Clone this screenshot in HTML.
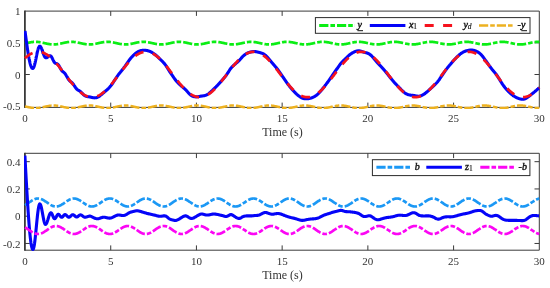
<!DOCTYPE html><html><head><meta charset="utf-8"><title>Figure</title><style>html,body{margin:0;padding:0;background:#fff}body{width:550px;height:288px;overflow:hidden}</style></head><body><svg width="550" height="288" viewBox="0 0 550 288" style="display:block"><rect width="550" height="288" fill="#fff"/><path d="M25.0 11.1H539.3V107.4H25.0Z" fill="none" stroke="#3a3a3a" stroke-width="1"/><path d="M24.8 10.6V107.9" fill="none" stroke="#3a3a3a" stroke-width="1.6"/><path d="M110.72 107.4v-4.8M110.72 11.1v4.8M196.43 107.4v-4.8M196.43 11.1v4.8M282.15 107.4v-4.8M282.15 11.1v4.8M367.87 107.4v-4.8M367.87 11.1v4.8M453.58 107.4v-4.8M453.58 11.1v4.8M25.0 42.80h4.8M539.3 42.80h-4.8M25.0 74.50h4.8M539.3 74.50h-4.8" fill="none" stroke="#3a3a3a" stroke-width="1"/><path d="M25.0 153.3H539.3V250.2H25.0Z" fill="none" stroke="#3a3a3a" stroke-width="1"/><path d="M24.8 152.8V250.7" fill="none" stroke="#3a3a3a" stroke-width="1.6"/><path d="M110.72 250.2v-4.8M110.72 153.3v4.8M196.43 250.2v-4.8M196.43 153.3v4.8M282.15 250.2v-4.8M282.15 153.3v4.8M367.87 250.2v-4.8M367.87 153.3v4.8M453.58 250.2v-4.8M453.58 153.3v4.8M25.0 161.68h4.8M539.3 161.68h-4.8M25.0 188.94h4.8M539.3 188.94h-4.8M25.0 216.20h4.8M539.3 216.20h-4.8M25.0 243.46h4.8M539.3 243.46h-4.8" fill="none" stroke="#3a3a3a" stroke-width="1"/><defs><clipPath id="c1"><rect x="24.0" y="10.1" width="516.3" height="98.80000000000001"/></clipPath><clipPath id="c2"><rect x="24.0" y="152.3" width="516.3" height="98.89999999999998"/></clipPath></defs><g clip-path="url(#c1)"><polyline points="25.00,43.52 25.34,43.44 25.69,43.37 26.03,43.29 26.37,43.21 26.71,43.13 27.06,43.06 27.40,42.98 27.74,42.90 28.09,42.83 28.43,42.75 28.77,42.68 29.11,42.61 29.46,42.54 29.80,42.47 30.14,42.40 30.49,42.34 30.83,42.28 31.17,42.22 31.51,42.17 31.86,42.12 32.20,42.08 32.54,42.03 32.89,42.00 33.23,41.96 33.57,41.93 33.91,41.91 34.26,41.89 34.60,41.87 34.94,41.86 35.29,41.85 35.63,41.85 35.97,41.85 36.31,41.86 36.66,41.87 37.00,41.89 37.34,41.91 37.69,41.93 38.03,41.96 38.37,42.00 38.71,42.03 39.06,42.08 39.40,42.12 39.74,42.17 40.09,42.22 40.43,42.28 40.77,42.34 41.11,42.40 41.46,42.47 41.80,42.54 42.14,42.61 42.49,42.68 42.83,42.75 43.17,42.83 43.51,42.90 43.86,42.98 44.20,43.06 44.54,43.13 44.89,43.21 45.23,43.29 45.57,43.37 45.91,43.44 46.26,43.52 46.60,43.59 46.94,43.67 47.29,43.74 47.63,43.80 47.97,43.87 48.31,43.93 48.66,44.00 49.00,44.05 49.34,44.11 49.69,44.16 50.03,44.21 50.37,44.25 50.71,44.29 51.06,44.32 51.40,44.35 51.74,44.38 52.09,44.40 52.43,44.42 52.77,44.44 53.12,44.44 53.46,44.45 53.80,44.45 54.14,44.44 54.49,44.43 54.83,44.42 55.17,44.40 55.52,44.37 55.86,44.35 56.20,44.31 56.54,44.28 56.89,44.24 57.23,44.19 57.57,44.14 57.92,44.09 58.26,44.04 58.60,43.98 58.94,43.92 59.29,43.85 59.63,43.79 59.97,43.72 60.32,43.65 60.66,43.57 61.00,43.50 61.34,43.42 61.69,43.35 62.03,43.27 62.37,43.19 62.72,43.11 63.06,43.03 63.40,42.96 63.74,42.88 64.09,42.81 64.43,42.73 64.77,42.66 65.12,42.59 65.46,42.52 65.80,42.45 66.14,42.39 66.49,42.32 66.83,42.27 67.17,42.21 67.52,42.16 67.86,42.11 68.20,42.06 68.54,42.02 68.89,41.99 69.23,41.95 69.57,41.92 69.92,41.90 70.26,41.88 70.60,41.87 70.94,41.86 71.29,41.85 71.63,41.85 71.97,41.85 72.32,41.86 72.66,41.87 73.00,41.89 73.34,41.91 73.69,41.94 74.03,41.97 74.37,42.01 74.72,42.05 75.06,42.09 75.40,42.14 75.74,42.19 76.09,42.24 76.43,42.30 76.77,42.36 77.12,42.42 77.46,42.49 77.80,42.56 78.14,42.63 78.49,42.70 78.83,42.77 79.17,42.85 79.52,42.92 79.86,43.00 80.20,43.08 80.54,43.16 80.89,43.23 81.23,43.31 81.57,43.39 81.92,43.47 82.26,43.54 82.60,43.61 82.94,43.69 83.29,43.76 83.63,43.82 83.97,43.89 84.32,43.95 84.66,44.01 85.00,44.07 85.34,44.12 85.69,44.17 86.03,44.22 86.37,44.26 86.72,44.30 87.06,44.33 87.40,44.36 87.74,44.39 88.09,44.41 88.43,44.43 88.77,44.44 89.12,44.45 89.46,44.45 89.80,44.45 90.14,44.44 90.49,44.43 90.83,44.41 91.17,44.39 91.52,44.37 91.86,44.34 92.20,44.30 92.54,44.27 92.89,44.22 93.23,44.18 93.57,44.13 93.92,44.08 94.26,44.02 94.60,43.96 94.94,43.90 95.29,43.83 95.63,43.77 95.97,43.70 96.32,43.63 96.66,43.55 97.00,43.48 97.34,43.40 97.69,43.32 98.03,43.25 98.37,43.17 98.72,43.09 99.06,43.01 99.40,42.94 99.74,42.86 100.09,42.78 100.43,42.71 100.77,42.64 101.12,42.57 101.46,42.50 101.80,42.43 102.14,42.37 102.49,42.31 102.83,42.25 103.17,42.19 103.52,42.14 103.86,42.10 104.20,42.05 104.55,42.01 104.89,41.98 105.23,41.94 105.57,41.92 105.92,41.89 106.26,41.88 106.60,41.86 106.95,41.85 107.29,41.85 107.63,41.85 107.97,41.85 108.32,41.86 108.66,41.88 109.00,41.90 109.35,41.92 109.69,41.95 110.03,41.98 110.37,42.02 110.72,42.06 111.06,42.10 111.40,42.15 111.75,42.20 112.09,42.26 112.43,42.31 112.77,42.38 113.12,42.44 113.46,42.51 113.80,42.58 114.15,42.65 114.49,42.72 114.83,42.79 115.17,42.87 115.52,42.95 115.86,43.02 116.20,43.10 116.55,43.18 116.89,43.26 117.23,43.33 117.57,43.41 117.92,43.49 118.26,43.56 118.60,43.63 118.95,43.71 119.29,43.78 119.63,43.84 119.97,43.91 120.32,43.97 120.66,44.03 121.00,44.08 121.35,44.14 121.69,44.18 122.03,44.23 122.37,44.27 122.72,44.31 123.06,44.34 123.40,44.37 123.75,44.39 124.09,44.41 124.43,44.43 124.77,44.44 125.12,44.45 125.46,44.45 125.80,44.45 126.15,44.44 126.49,44.42 126.83,44.41 127.17,44.39 127.52,44.36 127.86,44.33 128.20,44.29 128.55,44.26 128.89,44.21 129.23,44.17 129.57,44.12 129.92,44.06 130.26,44.00 130.60,43.94 130.95,43.88 131.29,43.82 131.63,43.75 131.97,43.68 132.32,43.61 132.66,43.53 133.00,43.46 133.35,43.38 133.69,43.30 134.03,43.23 134.37,43.15 134.72,43.07 135.06,42.99 135.40,42.91 135.75,42.84 136.09,42.76 136.43,42.69 136.77,42.62 137.12,42.55 137.46,42.48 137.80,42.41 138.15,42.35 138.49,42.29 138.83,42.23 139.17,42.18 139.52,42.13 139.86,42.08 140.20,42.04 140.55,42.00 140.89,41.97 141.23,41.94 141.57,41.91 141.92,41.89 142.26,41.87 142.60,41.86 142.95,41.85 143.29,41.85 143.63,41.85 143.97,41.86 144.32,41.87 144.66,41.88 145.00,41.90 145.35,41.93 145.69,41.96 146.03,41.99 146.37,42.03 146.72,42.07 147.06,42.11 147.40,42.16 147.75,42.22 148.09,42.27 148.43,42.33 148.77,42.39 149.12,42.46 149.46,42.53 149.80,42.59 150.15,42.67 150.49,42.74 150.83,42.81 151.17,42.89 151.52,42.97 151.86,43.04 152.20,43.12 152.55,43.20 152.89,43.28 153.23,43.36 153.57,43.43 153.92,43.51 154.26,43.58 154.60,43.65 154.95,43.73 155.29,43.79 155.63,43.86 155.98,43.92 156.32,43.99 156.66,44.04 157.00,44.10 157.35,44.15 157.69,44.20 158.03,44.24 158.38,44.28 158.72,44.32 159.06,44.35 159.40,44.38 159.75,44.40 160.09,44.42 160.43,44.43 160.78,44.44 161.12,44.45 161.46,44.45 161.80,44.44 162.15,44.43 162.49,44.42 162.83,44.40 163.18,44.38 163.52,44.35 163.86,44.32 164.20,44.28 164.55,44.24 164.89,44.20 165.23,44.15 165.58,44.10 165.92,44.05 166.26,43.99 166.60,43.93 166.95,43.86 167.29,43.80 167.63,43.73 167.98,43.66 168.32,43.58 168.66,43.51 169.00,43.43 169.35,43.36 169.69,43.28 170.03,43.20 170.38,43.13 170.72,43.05 171.06,42.97 171.40,42.89 171.75,42.82 172.09,42.74 172.43,42.67 172.78,42.60 173.12,42.53 173.46,42.46 173.80,42.40 174.15,42.33 174.49,42.27 174.83,42.22 175.18,42.17 175.52,42.12 175.86,42.07 176.20,42.03 176.55,41.99 176.89,41.96 177.23,41.93 177.58,41.90 177.92,41.88 178.26,41.87 178.60,41.86 178.95,41.85 179.29,41.85 179.63,41.85 179.98,41.86 180.32,41.87 180.66,41.89 181.00,41.91 181.35,41.94 181.69,41.97 182.03,42.00 182.38,42.04 182.72,42.08 183.06,42.13 183.40,42.18 183.75,42.23 184.09,42.29 184.43,42.35 184.78,42.41 185.12,42.48 185.46,42.54 185.80,42.61 186.15,42.69 186.49,42.76 186.83,42.84 187.18,42.91 187.52,42.99 187.86,43.07 188.20,43.14 188.55,43.22 188.89,43.30 189.23,43.38 189.58,43.45 189.92,43.53 190.26,43.60 190.60,43.67 190.95,43.74 191.29,43.81 191.63,43.88 191.98,43.94 192.32,44.00 192.66,44.06 193.00,44.11 193.35,44.16 193.69,44.21 194.03,44.25 194.38,44.29 194.72,44.33 195.06,44.36 195.40,44.38 195.75,44.41 196.09,44.42 196.43,44.44 196.78,44.44 197.12,44.45 197.46,44.45 197.80,44.44 198.15,44.43 198.49,44.42 198.83,44.40 199.18,44.37 199.52,44.34 199.86,44.31 200.20,44.27 200.55,44.23 200.89,44.19 201.23,44.14 201.58,44.09 201.92,44.03 202.26,43.97 202.60,43.91 202.95,43.84 203.29,43.78 203.63,43.71 203.98,43.64 204.32,43.56 204.66,43.49 205.00,43.41 205.35,43.34 205.69,43.26 206.03,43.18 206.38,43.10 206.72,43.03 207.06,42.95 207.41,42.87 207.75,42.80 208.09,42.72 208.43,42.65 208.78,42.58 209.12,42.51 209.46,42.44 209.81,42.38 210.15,42.32 210.49,42.26 210.83,42.20 211.18,42.15 211.52,42.10 211.86,42.06 212.21,42.02 212.55,41.98 212.89,41.95 213.23,41.92 213.58,41.90 213.92,41.88 214.26,41.86 214.61,41.85 214.95,41.85 215.29,41.85 215.63,41.85 215.98,41.86 216.32,41.88 216.66,41.89 217.01,41.92 217.35,41.94 217.69,41.98 218.03,42.01 218.38,42.05 218.72,42.09 219.06,42.14 219.41,42.19 219.75,42.25 220.09,42.30 220.43,42.37 220.78,42.43 221.12,42.50 221.46,42.56 221.81,42.63 222.15,42.71 222.49,42.78 222.83,42.86 223.18,42.93 223.52,43.01 223.86,43.09 224.21,43.17 224.55,43.24 224.89,43.32 225.23,43.40 225.58,43.47 225.92,43.55 226.26,43.62 226.61,43.69 226.95,43.76 227.29,43.83 227.63,43.90 227.98,43.96 228.32,44.02 228.66,44.07 229.01,44.13 229.35,44.18 229.69,44.22 230.03,44.27 230.38,44.30 230.72,44.34 231.06,44.37 231.41,44.39 231.75,44.41 232.09,44.43 232.43,44.44 232.78,44.45 233.12,44.45 233.46,44.45 233.81,44.44 234.15,44.43 234.49,44.41 234.83,44.39 235.18,44.36 235.52,44.33 235.86,44.30 236.21,44.26 236.55,44.22 236.89,44.17 237.23,44.12 237.58,44.07 237.92,44.01 238.26,43.95 238.61,43.89 238.95,43.83 239.29,43.76 239.63,43.69 239.98,43.62 240.32,43.54 240.66,43.47 241.01,43.39 241.35,43.32 241.69,43.24 242.03,43.16 242.38,43.08 242.72,43.00 243.06,42.93 243.41,42.85 243.75,42.77 244.09,42.70 244.43,42.63 244.78,42.56 245.12,42.49 245.46,42.42 245.81,42.36 246.15,42.30 246.49,42.24 246.83,42.19 247.18,42.14 247.52,42.09 247.86,42.05 248.21,42.01 248.55,41.97 248.89,41.94 249.23,41.91 249.58,41.89 249.92,41.87 250.26,41.86 250.61,41.85 250.95,41.85 251.29,41.85 251.63,41.86 251.98,41.87 252.32,41.88 252.66,41.90 253.01,41.92 253.35,41.95 253.69,41.98 254.03,42.02 254.38,42.06 254.72,42.11 255.06,42.16 255.41,42.21 255.75,42.26 256.09,42.32 256.43,42.38 256.78,42.45 257.12,42.51 257.46,42.58 257.81,42.65 258.15,42.73 258.49,42.80 258.84,42.88 259.18,42.95 259.52,43.03 259.86,43.11 260.21,43.19 260.55,43.27 260.89,43.34 261.24,43.42 261.58,43.50 261.92,43.57 262.26,43.64 262.61,43.71 262.95,43.78 263.29,43.85 263.64,43.91 263.98,43.98 264.32,44.03 264.66,44.09 265.01,44.14 265.35,44.19 265.69,44.24 266.04,44.28 266.38,44.31 266.72,44.35 267.06,44.37 267.41,44.40 267.75,44.42 268.09,44.43 268.44,44.44 268.78,44.45 269.12,44.45 269.46,44.44 269.81,44.44 270.15,44.42 270.49,44.40 270.84,44.38 271.18,44.36 271.52,44.32 271.86,44.29 272.21,44.25 272.55,44.21 272.89,44.16 273.24,44.11 273.58,44.05 273.92,44.00 274.26,43.94 274.61,43.87 274.95,43.81 275.29,43.74 275.64,43.67 275.98,43.60 276.32,43.52 276.66,43.45 277.01,43.37 277.35,43.29 277.69,43.22 278.04,43.14 278.38,43.06 278.72,42.98 279.06,42.91 279.41,42.83 279.75,42.75 280.09,42.68 280.44,42.61 280.78,42.54 281.12,42.47 281.46,42.41 281.81,42.34 282.15,42.28 282.49,42.23 282.84,42.17 283.18,42.12 283.52,42.08 283.86,42.04 284.21,42.00 284.55,41.96 284.89,41.93 285.24,41.91 285.58,41.89 285.92,41.87 286.26,41.86 286.61,41.85 286.95,41.85 287.29,41.85 287.64,41.86 287.98,41.87 288.32,41.89 288.66,41.91 289.01,41.93 289.35,41.96 289.69,41.99 290.04,42.03 290.38,42.07 290.72,42.12 291.06,42.17 291.41,42.22 291.75,42.28 292.09,42.34 292.44,42.40 292.78,42.47 293.12,42.53 293.46,42.60 293.81,42.67 294.15,42.75 294.49,42.82 294.84,42.90 295.18,42.98 295.52,43.05 295.86,43.13 296.21,43.21 296.55,43.29 296.89,43.36 297.24,43.44 297.58,43.52 297.92,43.59 298.26,43.66 298.61,43.73 298.95,43.80 299.29,43.87 299.64,43.93 299.98,43.99 300.32,44.05 300.66,44.11 301.01,44.16 301.35,44.20 301.69,44.25 302.04,44.29 302.38,44.32 302.72,44.35 303.06,44.38 303.41,44.40 303.75,44.42 304.09,44.43 304.44,44.44 304.78,44.45 305.12,44.45 305.46,44.44 305.81,44.43 306.15,44.42 306.49,44.40 306.84,44.38 307.18,44.35 307.52,44.32 307.86,44.28 308.21,44.24 308.55,44.19 308.89,44.15 309.24,44.09 309.58,44.04 309.92,43.98 310.27,43.92 310.61,43.86 310.95,43.79 311.29,43.72 311.64,43.65 311.98,43.58 312.32,43.50 312.67,43.43 313.01,43.35 313.35,43.27 313.69,43.19 314.04,43.12 314.38,43.04 314.72,42.96 315.07,42.88 315.41,42.81 315.75,42.73 316.09,42.66 316.44,42.59 316.78,42.52 317.12,42.45 317.47,42.39 317.81,42.33 318.15,42.27 318.49,42.21 318.84,42.16 319.18,42.11 319.52,42.07 319.87,42.02 320.21,41.99 320.55,41.95 320.89,41.93 321.24,41.90 321.58,41.88 321.92,41.87 322.27,41.86 322.61,41.85 322.95,41.85 323.29,41.85 323.64,41.86 323.98,41.87 324.32,41.89 324.67,41.91 325.01,41.94 325.35,41.97 325.69,42.00 326.04,42.04 326.38,42.09 326.72,42.13 327.07,42.18 327.41,42.24 327.75,42.30 328.09,42.36 328.44,42.42 328.78,42.48 329.12,42.55 329.47,42.62 329.81,42.70 330.15,42.77 330.49,42.84 330.84,42.92 331.18,43.00 331.52,43.08 331.87,43.15 332.21,43.23 332.55,43.31 332.89,43.39 333.24,43.46 333.58,43.54 333.92,43.61 334.27,43.68 334.61,43.75 334.95,43.82 335.29,43.89 335.64,43.95 335.98,44.01 336.32,44.07 336.67,44.12 337.01,44.17 337.35,44.22 337.69,44.26 338.04,44.30 338.38,44.33 338.72,44.36 339.07,44.39 339.41,44.41 339.75,44.43 340.09,44.44 340.44,44.45 340.78,44.45 341.12,44.45 341.47,44.44 341.81,44.43 342.15,44.41 342.49,44.39 342.84,44.37 343.18,44.34 343.52,44.31 343.87,44.27 344.21,44.23 344.55,44.18 344.89,44.13 345.24,44.08 345.58,44.02 345.92,43.96 346.27,43.90 346.61,43.84 346.95,43.77 347.29,43.70 347.64,43.63 347.98,43.55 348.32,43.48 348.67,43.40 349.01,43.33 349.35,43.25 349.69,43.17 350.04,43.09 350.38,43.02 350.72,42.94 351.07,42.86 351.41,42.79 351.75,42.71 352.09,42.64 352.44,42.57 352.78,42.50 353.12,42.43 353.47,42.37 353.81,42.31 354.15,42.25 354.49,42.20 354.84,42.15 355.18,42.10 355.52,42.05 355.87,42.01 356.21,41.98 356.55,41.95 356.89,41.92 357.24,41.90 357.58,41.88 357.92,41.86 358.27,41.85 358.61,41.85 358.95,41.85 359.29,41.85 359.64,41.86 359.98,41.88 360.32,41.90 360.67,41.92 361.01,41.95 361.35,41.98 361.70,42.02 362.04,42.06 362.38,42.10 362.72,42.15 363.07,42.20 363.41,42.25 363.75,42.31 364.10,42.37 364.44,42.44 364.78,42.50 365.12,42.57 365.47,42.64 365.81,42.72 366.15,42.79 366.50,42.87 366.84,42.94 367.18,43.02 367.52,43.10 367.87,43.18 368.21,43.25 368.55,43.33 368.90,43.41 369.24,43.48 369.58,43.56 369.92,43.63 370.27,43.70 370.61,43.77 370.95,43.84 371.30,43.90 371.64,43.97 371.98,44.03 372.32,44.08 372.67,44.13 373.01,44.18 373.35,44.23 373.70,44.27 374.04,44.31 374.38,44.34 374.72,44.37 375.07,44.39 375.41,44.41 375.75,44.43 376.10,44.44 376.44,44.45 376.78,44.45 377.12,44.45 377.47,44.44 377.81,44.43 378.15,44.41 378.50,44.39 378.84,44.36 379.18,44.33 379.52,44.30 379.87,44.26 380.21,44.21 380.55,44.17 380.90,44.12 381.24,44.06 381.58,44.01 381.92,43.95 382.27,43.88 382.61,43.82 382.95,43.75 383.30,43.68 383.64,43.61 383.98,43.53 384.32,43.46 384.67,43.38 385.01,43.31 385.35,43.23 385.70,43.15 386.04,43.07 386.38,42.99 386.72,42.92 387.07,42.84 387.41,42.77 387.75,42.69 388.10,42.62 388.44,42.55 388.78,42.48 389.12,42.42 389.47,42.35 389.81,42.29 390.15,42.24 390.50,42.18 390.84,42.13 391.18,42.08 391.52,42.04 391.87,42.00 392.21,41.97 392.55,41.94 392.90,41.91 393.24,41.89 393.58,41.87 393.92,41.86 394.27,41.85 394.61,41.85 394.95,41.85 395.30,41.86 395.64,41.87 395.98,41.88 396.32,41.90 396.67,41.93 397.01,41.96 397.35,41.99 397.70,42.03 398.04,42.07 398.38,42.11 398.72,42.16 399.07,42.21 399.41,42.27 399.75,42.33 400.10,42.39 400.44,42.46 400.78,42.52 401.12,42.59 401.47,42.66 401.81,42.74 402.15,42.81 402.50,42.89 402.84,42.96 403.18,43.04 403.52,43.12 403.87,43.20 404.21,43.28 404.55,43.35 404.90,43.43 405.24,43.50 405.58,43.58 405.92,43.65 406.27,43.72 406.61,43.79 406.95,43.86 407.30,43.92 407.64,43.98 407.98,44.04 408.32,44.10 408.67,44.15 409.01,44.20 409.35,44.24 409.70,44.28 410.04,44.32 410.38,44.35 410.72,44.38 411.07,44.40 411.41,44.42 411.75,44.43 412.10,44.44 412.44,44.45 412.78,44.45 413.13,44.44 413.47,44.43 413.81,44.42 414.15,44.40 414.50,44.38 414.84,44.35 415.18,44.32 415.53,44.29 415.87,44.25 416.21,44.20 416.55,44.15 416.90,44.10 417.24,44.05 417.58,43.99 417.93,43.93 418.27,43.87 418.61,43.80 418.95,43.73 419.30,43.66 419.64,43.59 419.98,43.51 420.33,43.44 420.67,43.36 421.01,43.28 421.35,43.21 421.70,43.13 422.04,43.05 422.38,42.97 422.73,42.90 423.07,42.82 423.41,42.75 423.75,42.67 424.10,42.60 424.44,42.53 424.78,42.46 425.13,42.40 425.47,42.34 425.81,42.28 426.15,42.22 426.50,42.17 426.84,42.12 427.18,42.07 427.53,42.03 427.87,41.99 428.21,41.96 428.55,41.93 428.90,41.91 429.24,41.88 429.58,41.87 429.93,41.86 430.27,41.85 430.61,41.85 430.95,41.85 431.30,41.86 431.64,41.87 431.98,41.89 432.33,41.91 432.67,41.93 433.01,41.96 433.35,42.00 433.70,42.04 434.04,42.08 434.38,42.13 434.73,42.18 435.07,42.23 435.41,42.29 435.75,42.35 436.10,42.41 436.44,42.47 436.78,42.54 437.13,42.61 437.47,42.68 437.81,42.76 438.15,42.83 438.50,42.91 438.84,42.99 439.18,43.06 439.53,43.14 439.87,43.22 440.21,43.30 440.55,43.37 440.90,43.45 441.24,43.53 441.58,43.60 441.93,43.67 442.27,43.74 442.61,43.81 442.95,43.88 443.30,43.94 443.64,44.00 443.98,44.06 444.33,44.11 444.67,44.16 445.01,44.21 445.35,44.25 445.70,44.29 446.04,44.33 446.38,44.36 446.73,44.38 447.07,44.41 447.41,44.42 447.75,44.44 448.10,44.44 448.44,44.45 448.78,44.45 449.13,44.44 449.47,44.43 449.81,44.42 450.15,44.40 450.50,44.37 450.84,44.34 451.18,44.31 451.53,44.27 451.87,44.23 452.21,44.19 452.55,44.14 452.90,44.09 453.24,44.03 453.58,43.97 453.93,43.91 454.27,43.85 454.61,43.78 454.95,43.71 455.30,43.64 455.64,43.57 455.98,43.49 456.33,43.42 456.67,43.34 457.01,43.26 457.35,43.18 457.70,43.11 458.04,43.03 458.38,42.95 458.73,42.87 459.07,42.80 459.41,42.72 459.75,42.65 460.10,42.58 460.44,42.51 460.78,42.44 461.13,42.38 461.47,42.32 461.81,42.26 462.15,42.21 462.50,42.15 462.84,42.10 463.18,42.06 463.53,42.02 463.87,41.98 464.21,41.95 464.56,41.92 464.90,41.90 465.24,41.88 465.58,41.87 465.93,41.86 466.27,41.85 466.61,41.85 466.96,41.85 467.30,41.86 467.64,41.88 467.98,41.89 468.33,41.92 468.67,41.94 469.01,41.97 469.36,42.01 469.70,42.05 470.04,42.09 470.38,42.14 470.73,42.19 471.07,42.24 471.41,42.30 471.76,42.36 472.10,42.43 472.44,42.49 472.78,42.56 473.13,42.63 473.47,42.70 473.81,42.78 474.16,42.85 474.50,42.93 474.84,43.01 475.18,43.09 475.53,43.16 475.87,43.24 476.21,43.32 476.56,43.40 476.90,43.47 477.24,43.55 477.58,43.62 477.93,43.69 478.27,43.76 478.61,43.83 478.96,43.89 479.30,43.96 479.64,44.02 479.98,44.07 480.33,44.13 480.67,44.18 481.01,44.22 481.36,44.26 481.70,44.30 482.04,44.34 482.38,44.37 482.73,44.39 483.07,44.41 483.41,44.43 483.76,44.44 484.10,44.45 484.44,44.45 484.78,44.45 485.13,44.44 485.47,44.43 485.81,44.41 486.16,44.39 486.50,44.37 486.84,44.34 487.18,44.30 487.53,44.26 487.87,44.22 488.21,44.18 488.56,44.13 488.90,44.07 489.24,44.02 489.58,43.96 489.93,43.89 490.27,43.83 490.61,43.76 490.96,43.69 491.30,43.62 491.64,43.55 491.98,43.47 492.33,43.39 492.67,43.32 493.01,43.24 493.36,43.16 493.70,43.08 494.04,43.01 494.38,42.93 494.73,42.85 495.07,42.78 495.41,42.70 495.76,42.63 496.10,42.56 496.44,42.49 496.78,42.43 497.13,42.36 497.47,42.30 497.81,42.24 498.16,42.19 498.50,42.14 498.84,42.09 499.18,42.05 499.53,42.01 499.87,41.97 500.21,41.94 500.56,41.92 500.90,41.89 501.24,41.88 501.58,41.86 501.93,41.85 502.27,41.85 502.61,41.85 502.96,41.86 503.30,41.87 503.64,41.88 503.98,41.90 504.33,41.92 504.67,41.95 505.01,41.98 505.36,42.02 505.70,42.06 506.04,42.11 506.38,42.15 506.73,42.21 507.07,42.26 507.41,42.32 507.76,42.38 508.10,42.44 508.44,42.51 508.78,42.58 509.13,42.65 509.47,42.72 509.81,42.80 510.16,42.87 510.50,42.95 510.84,43.03 511.18,43.11 511.53,43.18 511.87,43.26 512.21,43.34 512.56,43.42 512.90,43.49 513.24,43.57 513.59,43.64 513.93,43.71 514.27,43.78 514.61,43.85 514.96,43.91 515.30,43.97 515.64,44.03 515.99,44.09 516.33,44.14 516.67,44.19 517.01,44.23 517.36,44.27 517.70,44.31 518.04,44.34 518.39,44.37 518.73,44.40 519.07,44.42 519.41,44.43 519.76,44.44 520.10,44.45 520.44,44.45 520.79,44.44 521.13,44.44 521.47,44.42 521.81,44.41 522.16,44.38 522.50,44.36 522.84,44.33 523.19,44.29 523.53,44.25 523.87,44.21 524.21,44.16 524.56,44.11 524.90,44.06 525.24,44.00 525.59,43.94 525.93,43.88 526.27,43.81 526.61,43.74 526.96,43.67 527.30,43.60 527.64,43.53 527.99,43.45 528.33,43.37 528.67,43.30 529.01,43.22 529.36,43.14 529.70,43.06 530.04,42.99 530.39,42.91 530.73,42.83 531.07,42.76 531.41,42.68 531.76,42.61 532.10,42.54 532.44,42.47 532.79,42.41 533.13,42.35 533.47,42.29 533.81,42.23 534.16,42.18 534.50,42.13 534.84,42.08 535.19,42.04 535.53,42.00 535.87,41.96 536.21,41.93 536.56,41.91 536.90,41.89 537.24,41.87 537.59,41.86 537.93,41.85 538.27,41.85 538.61,41.85 538.96,41.86 539.30,41.87" fill="none" stroke="#0aee14" stroke-width="2.7" stroke-linejoin="round" stroke-dasharray="9.2 2 4.6 2"/><polyline points="25.00,30.92 25.09,31.58 25.17,32.23 25.26,32.89 25.34,33.54 25.43,34.19 25.51,34.85 25.60,35.50 25.69,36.15 25.77,36.80 25.86,37.45 25.94,38.09 26.03,38.73 26.11,39.37 26.20,40.01 26.29,40.65 26.37,41.28 26.46,41.91 26.54,42.54 26.63,43.16 26.71,43.78 26.80,44.40 26.89,45.01 26.97,45.61 27.06,46.22 27.14,46.82 27.23,47.41 27.31,47.99 27.40,48.58 27.49,49.16 27.57,49.73 27.66,50.29 27.74,50.86 27.83,51.41 27.91,51.96 28.00,52.50 28.09,53.04 28.17,53.57 28.26,54.08 28.34,54.60 28.43,55.12 28.51,55.61 28.60,56.10 28.69,56.59 28.77,57.07 28.86,57.53 28.94,57.99 29.03,58.45 29.11,58.89 29.20,59.32 29.29,59.75 29.37,60.18 29.46,60.57 29.54,60.97 29.63,61.36 29.71,61.75 29.80,62.11 29.89,62.47 29.97,62.83 30.06,63.18 30.14,63.50 30.23,63.82 30.31,64.14 30.40,64.44 30.49,64.72 30.57,65.01 30.66,65.29 30.74,65.54 30.83,65.78 30.91,66.02 31.00,66.26 31.09,66.46 31.17,66.67 31.26,66.87 31.34,67.05 31.43,67.21 31.51,67.37 31.60,67.54 31.69,67.66 31.77,67.78 31.86,67.90 31.94,68.02 32.03,68.09 32.11,68.17 32.20,68.24 32.29,68.31 32.37,68.34 32.46,68.37 32.54,68.40 32.63,68.41 32.71,68.39 32.80,68.38 32.89,68.37 32.97,68.32 33.06,68.26 33.14,68.20 33.23,68.11 33.31,68.00 33.40,67.89 33.49,67.76 33.57,67.60 33.66,67.45 33.74,67.28 33.83,67.07 33.91,66.87 34.00,66.67 34.09,66.42 34.17,66.17 34.26,65.92 34.34,65.64 34.43,65.36 34.51,65.07 34.60,64.76 34.69,64.44 34.77,64.11 34.86,63.78 34.94,63.42 35.03,63.07 35.11,62.71 35.20,62.33 35.29,61.94 35.37,61.56 35.46,61.16 35.54,60.76 35.63,60.36 35.71,59.95 35.80,59.53 35.89,59.11 35.97,58.69 36.06,58.27 36.14,57.85 36.23,57.42 36.31,56.99 36.40,56.57 36.49,56.14 36.57,55.72 36.66,55.30 36.74,54.88 36.83,54.47 36.91,54.06 37.00,53.65 37.09,53.25 37.17,52.86 37.26,52.47 37.34,52.08 37.43,51.72 37.51,51.35 37.60,50.99 37.69,50.65 37.77,50.31 37.86,49.97 37.94,49.66 38.03,49.36 38.11,49.06 38.20,48.78 38.29,48.52 38.37,48.26 38.46,48.01 38.54,47.79 38.63,47.57 38.71,47.37 38.80,47.19 38.89,47.02 38.97,46.85 39.06,46.73 39.14,46.61 39.23,46.48 39.31,46.40 39.40,46.33 39.49,46.26 39.57,46.22 39.66,46.21 39.74,46.19 39.83,46.19 39.91,46.21 40.00,46.24 40.09,46.28 40.17,46.34 40.26,46.40 40.34,46.48 40.43,46.56 40.51,46.66 40.60,46.77 40.69,46.88 40.77,47.01 40.86,47.15 40.94,47.29 41.03,47.45 41.11,47.61 41.20,47.78 41.29,47.97 41.37,48.15 41.46,48.35 41.54,48.55 41.63,48.76 41.71,48.98 41.80,49.20 41.89,49.43 41.97,49.66 42.06,49.89 42.14,50.13 42.23,50.38 42.31,50.62 42.40,50.87 42.49,51.13 42.57,51.38 42.66,51.63 42.74,51.89 42.83,52.14 42.91,52.39 43.00,52.65 43.09,52.90 43.17,53.15 43.26,53.39 43.34,53.64 43.43,53.88 43.51,54.11 43.60,54.35 43.69,54.58 43.77,54.80 43.86,55.01 43.94,55.23 44.03,55.43 44.11,55.63 44.20,55.82 44.29,56.00 44.37,56.18 44.46,56.34 44.54,56.50 44.63,56.65 44.71,56.79 44.80,56.93 44.89,57.04 44.97,57.16 45.06,57.27 45.14,57.35 45.23,57.44 45.31,57.51 45.40,57.57 45.49,57.63 45.57,57.68 45.66,57.72 45.74,57.75 45.83,57.77 45.91,57.80 46.00,57.81 46.09,57.82 46.17,57.82 46.26,57.82 46.34,57.81 46.43,57.79 46.51,57.77 46.60,57.75 46.69,57.72 46.77,57.69 46.86,57.65 46.94,57.61 47.03,57.56 47.11,57.51 47.20,57.46 47.29,57.40 47.37,57.34 47.46,57.28 47.54,57.21 47.63,57.15 47.71,57.08 47.80,57.01 47.89,56.94 47.97,56.86 48.06,56.79 48.14,56.72 48.23,56.65 48.31,56.58 48.40,56.51 48.49,56.44 48.57,56.37 48.66,56.30 48.74,56.24 48.83,56.18 48.91,56.12 49.00,56.07 49.09,56.02 49.17,55.97 49.26,55.92 49.34,55.88 49.43,55.85 49.51,55.82 49.60,55.79 49.69,55.78 49.77,55.76 49.86,55.75 49.94,55.75 50.03,55.75 50.11,55.77 50.20,55.78 50.29,55.80 50.37,55.84 50.46,55.87 50.54,55.92 50.63,55.97 50.71,56.02 50.80,56.09 50.89,56.16 50.97,56.24 51.06,56.32 51.14,56.42 51.23,56.52 51.32,56.63 51.40,56.75 51.49,56.87 51.57,57.00 51.66,57.14 51.74,57.28 51.83,57.43 51.92,57.58 52.00,57.75 52.09,57.91 52.17,58.08 52.26,58.25 52.34,58.43 52.43,58.60 52.52,58.79 52.60,58.97 52.69,59.15 52.77,59.34 52.86,59.52 52.94,59.71 53.03,59.89 53.12,60.07 53.20,60.25 53.29,60.43 53.37,60.61 53.46,60.78 53.54,60.95 53.63,61.11 53.72,61.27 53.80,61.43 53.89,61.58 53.97,61.72 54.06,61.86 54.14,61.99 54.23,62.11 54.32,62.24 54.40,62.35 54.49,62.45 54.57,62.55 54.66,62.64 54.74,62.73 54.83,62.81 54.92,62.89 55.00,62.96 55.09,63.03 55.17,63.09 55.26,63.15 55.34,63.20 55.43,63.25 55.52,63.30 55.60,63.34 55.69,63.38 55.77,63.41 55.86,63.45 55.94,63.48 56.03,63.51 56.12,63.53 56.20,63.56 56.29,63.59 56.37,63.61 56.46,63.64 56.54,63.66 56.63,63.69 56.72,63.71 56.80,63.74 56.89,63.77 56.97,63.80 57.06,63.84 57.14,63.88 57.23,63.92 57.32,63.96 57.40,64.01 57.49,64.07 57.57,64.12 57.66,64.18 57.74,64.25 57.83,64.32 57.92,64.40 58.00,64.48 58.09,64.57 58.17,64.66 58.26,64.76 58.34,64.87 58.43,64.98 58.52,65.09 58.60,65.21 58.69,65.33 58.77,65.46 58.86,65.59 58.94,65.72 59.03,65.86 59.12,66.01 59.20,66.15 59.29,66.30 59.37,66.45 59.46,66.61 59.54,66.76 59.63,66.92 59.72,67.08 59.80,67.25 59.89,67.41 59.97,67.57 60.06,67.74 60.14,67.90 60.23,68.06 60.32,68.22 60.40,68.39 60.49,68.55 60.57,68.70 60.66,68.86 60.74,69.01 60.83,69.16 60.92,69.31 61.00,69.46 61.09,69.60 61.17,69.74 61.26,69.87 61.34,70.00 61.43,70.13 61.52,70.25 61.60,70.37 61.69,70.48 61.77,70.59 61.86,70.70 61.94,70.80 62.03,70.90 62.12,70.99 62.20,71.08 62.29,71.17 62.37,71.25 62.46,71.33 62.54,71.41 62.63,71.48 62.72,71.55 62.80,71.62 62.89,71.69 62.97,71.76 63.06,71.82 63.14,71.88 63.23,71.95 63.32,72.01 63.40,72.07 63.49,72.13 63.57,72.19 63.66,72.26 63.74,72.32 63.83,72.39 63.92,72.46 64.00,72.53 64.09,72.60 64.17,72.68 64.26,72.75 64.34,72.84 64.43,72.92 64.52,73.01 64.60,73.10 64.69,73.20 64.77,73.30 64.86,73.40 64.94,73.51 65.03,73.63 65.12,73.74 65.20,73.86 65.29,73.98 65.37,74.11 65.46,74.23 65.54,74.36 65.63,74.49 65.72,74.63 65.80,74.77 65.89,74.91 65.97,75.05 66.06,75.19 66.14,75.34 66.23,75.49 66.32,75.63 66.40,75.78 66.49,75.94 66.57,76.09 66.66,76.24 66.74,76.40 66.83,76.55 66.92,76.70 67.00,76.86 67.09,77.01 67.17,77.17 67.26,77.32 67.34,77.47 67.43,77.62 67.52,77.78 67.60,77.92 67.69,78.07 67.77,78.22 67.86,78.36 67.94,78.50 68.03,78.64 68.12,78.78 68.20,78.92 68.29,79.05 68.37,79.18 68.46,79.31 68.54,79.43 68.63,79.55 68.72,79.67 68.80,79.79 68.89,79.90 68.97,80.01 69.06,80.12 69.14,80.22 69.23,80.32 69.32,80.42 69.40,80.52 69.49,80.61 69.57,80.70 69.66,80.79 69.74,80.87 69.83,80.96 69.92,81.04 70.00,81.11 70.09,81.19 70.17,81.27 70.26,81.34 70.34,81.41 70.43,81.48 70.52,81.55 70.60,81.62 70.69,81.69 70.77,81.76 70.86,81.82 70.94,81.89 71.03,81.96 71.12,82.03 71.20,82.09 71.29,82.16 71.37,82.23 71.46,82.30 71.54,82.37 71.63,82.44 71.72,82.52 71.80,82.59 71.89,82.67 71.97,82.75 72.06,82.83 72.14,82.91 72.23,83.00 72.32,83.08 72.40,83.18 72.49,83.27 72.57,83.36 72.66,83.46 72.74,83.56 72.83,83.66 72.92,83.76 73.00,83.87 73.09,83.98 73.17,84.09 73.26,84.20 73.34,84.32 73.43,84.44 73.52,84.56 73.60,84.68 73.69,84.80 73.77,84.92 73.86,85.05 73.94,85.18 74.03,85.31 74.12,85.44 74.20,85.57 74.29,85.70 74.37,85.83 74.46,85.96 74.54,86.10 74.63,86.23 74.72,86.36 74.80,86.50 74.89,86.63 74.97,86.76 75.06,86.89 75.14,87.02 75.23,87.15 75.32,87.28 75.40,87.41 75.49,87.53 75.57,87.65 75.66,87.77 75.74,87.89 75.83,88.01 75.92,88.13 76.00,88.24 76.09,88.35 76.17,88.45 76.26,88.56 76.34,88.66 76.43,88.76 76.52,88.86 76.60,88.95 76.69,89.04 76.77,89.13 76.86,89.21 76.94,89.29 77.03,89.37 77.12,89.45 77.20,89.52 77.29,89.59 77.37,89.66 77.46,89.73 77.54,89.79 77.63,89.85 77.72,89.91 77.80,89.96 77.89,90.02 77.97,90.07 78.06,90.12 78.14,90.17 78.23,90.22 78.32,90.27 78.40,90.31 78.49,90.36 78.57,90.40 78.66,90.45 78.74,90.49 78.83,90.54 78.92,90.58 79.00,90.63 79.09,90.67 79.17,90.72 79.26,90.77 79.34,90.82 79.43,90.87 79.52,90.92 79.60,90.97 79.69,91.02 79.77,91.08 79.86,91.14 79.94,91.19 80.03,91.26 80.12,91.32 80.20,91.39 80.29,91.45 80.37,91.52 80.46,91.59 80.54,91.67 80.63,91.74 80.72,91.82 80.80,91.89 80.89,91.97 80.97,92.05 81.06,92.13 81.14,92.21 81.23,92.30 81.32,92.38 81.40,92.47 81.49,92.55 81.57,92.64 81.66,92.73 81.74,92.82 81.83,92.91 81.92,93.00 82.00,93.09 82.09,93.18 82.17,93.27 82.26,93.36 82.34,93.45 82.43,93.54 82.52,93.63 82.60,93.73 82.69,93.82 82.77,93.91 82.86,94.00 82.94,94.08 83.03,94.17 83.12,94.26 83.20,94.35 83.29,94.43 83.37,94.51 83.46,94.60 83.54,94.68 83.63,94.76 83.72,94.84 83.80,94.91 83.89,94.99 83.97,95.06 84.06,95.13 84.14,95.20 84.23,95.26 84.32,95.33 84.40,95.39 84.49,95.45 84.57,95.51 84.66,95.57 84.74,95.62 84.83,95.67 84.92,95.72 85.00,95.77 85.09,95.81 85.17,95.85 85.26,95.90 85.34,95.94 85.43,95.98 85.52,96.02 85.60,96.05 85.69,96.09 85.77,96.12 85.86,96.16 85.94,96.19 86.03,96.22 86.12,96.25 86.20,96.28 86.29,96.31 86.37,96.34 86.46,96.36 86.54,96.39 86.63,96.41 86.72,96.43 86.80,96.46 86.89,96.48 86.97,96.50 87.06,96.52 87.14,96.54 87.23,96.56 87.32,96.57 87.40,96.59 87.49,96.61 87.57,96.62 87.66,96.64 87.74,96.65 87.83,96.67 87.92,96.68 88.00,96.69 88.09,96.71 88.17,96.72 88.26,96.73 88.34,96.75 88.43,96.76 88.52,96.77 88.60,96.78 88.69,96.80 88.77,96.81 88.86,96.82 88.94,96.83 89.03,96.84 89.12,96.86 89.20,96.87 89.29,96.88 89.37,96.89 89.46,96.91 89.54,96.92 89.63,96.93 89.72,96.94 89.80,96.96 89.89,96.97 89.97,96.98 90.06,97.00 90.14,97.03 90.23,97.05 90.32,97.07 90.40,97.09 90.49,97.11 90.57,97.13 90.66,97.15 90.74,97.18 90.83,97.20 90.92,97.22 91.00,97.24 91.09,97.26 91.17,97.28 91.26,97.30 91.34,97.32 91.43,97.34 91.52,97.36 91.60,97.38 91.69,97.41 91.77,97.43 91.86,97.44 91.94,97.46 92.03,97.48 92.12,97.50 92.20,97.52 92.29,97.54 92.37,97.56 92.46,97.57 92.54,97.59 92.63,97.61 92.72,97.62 92.80,97.64 92.89,97.65 92.97,97.67 93.06,97.68 93.14,97.69 93.23,97.71 93.32,97.72 93.40,97.73 93.49,97.74 93.57,97.75 93.92,97.79 94.26,97.81 94.60,97.83 94.94,97.82 95.29,97.81 95.63,97.77 95.97,97.73 96.32,97.66 96.66,97.57 97.00,97.46 97.34,97.33 97.69,97.18 98.03,97.01 98.37,96.82 98.72,96.62 99.06,96.40 99.40,96.16 99.74,95.92 100.09,95.66 100.43,95.39 100.77,95.12 101.12,94.84 101.46,94.55 101.80,94.26 102.14,93.97 102.49,93.67 102.83,93.38 103.17,93.08 103.52,92.79 103.86,92.50 104.20,92.21 104.55,91.92 104.89,91.64 105.23,91.35 105.57,91.07 105.92,90.78 106.26,90.49 106.60,90.19 106.95,89.88 107.29,89.57 107.63,89.25 107.97,88.92 108.32,88.58 108.66,88.23 109.00,87.87 109.35,87.49 109.69,87.10 110.03,86.70 110.37,86.29 110.72,85.86 111.06,85.43 111.40,84.97 111.75,84.51 112.09,84.03 112.43,83.54 112.77,83.04 113.12,82.53 113.46,82.01 113.80,81.49 114.15,80.97 114.49,80.44 114.83,79.92 115.17,79.40 115.52,78.88 115.86,78.36 116.20,77.85 116.55,77.34 116.89,76.84 117.23,76.35 117.57,75.86 117.92,75.38 118.26,74.91 118.60,74.45 118.95,73.99 119.29,73.55 119.63,73.11 119.97,72.68 120.32,72.26 120.66,71.83 121.00,71.42 121.35,71.00 121.69,70.57 122.03,70.15 122.37,69.72 122.72,69.28 123.06,68.84 123.40,68.39 123.75,67.94 124.09,67.48 124.43,67.01 124.77,66.53 125.12,66.05 125.46,65.56 125.80,65.06 126.15,64.56 126.49,64.06 126.83,63.55 127.17,63.04 127.52,62.54 127.86,62.04 128.20,61.54 128.55,61.06 128.89,60.58 129.23,60.12 129.57,59.67 129.92,59.23 130.26,58.81 130.60,58.39 130.95,57.99 131.29,57.60 131.63,57.22 131.97,56.84 132.32,56.48 132.66,56.12 133.00,55.77 133.35,55.42 133.69,55.08 134.03,54.75 134.37,54.42 134.72,54.10 135.06,53.80 135.40,53.50 135.75,53.22 136.09,52.95 136.43,52.69 136.77,52.44 137.12,52.22 137.46,52.00 137.80,51.81 138.15,51.62 138.49,51.45 138.83,51.30 139.17,51.15 139.52,51.02 139.86,50.90 140.20,50.80 140.55,50.70 140.89,50.61 141.23,50.54 141.57,50.47 141.92,50.41 142.26,50.36 142.60,50.32 142.95,50.29 143.29,50.27 143.63,50.25 143.97,50.25 144.32,50.25 144.66,50.26 145.00,50.28 145.35,50.30 145.69,50.33 146.03,50.38 146.37,50.43 146.72,50.48 147.06,50.55 147.40,50.62 147.75,50.71 148.09,50.80 148.43,50.90 148.77,51.01 149.12,51.13 149.46,51.25 149.80,51.39 150.15,51.53 150.49,51.68 150.83,51.84 151.17,52.01 151.52,52.19 151.86,52.37 152.20,52.57 152.55,52.77 152.89,52.98 153.23,53.20 153.57,53.43 153.92,53.67 154.26,53.91 154.60,54.17 154.95,54.43 155.29,54.70 155.63,54.98 155.98,55.27 156.32,55.57 156.66,55.88 157.00,56.19 157.35,56.51 157.69,56.84 158.03,57.17 158.38,57.50 158.72,57.83 159.06,58.17 159.40,58.51 159.75,58.84 160.09,59.18 160.43,59.51 160.78,59.84 161.12,60.18 161.46,60.51 161.80,60.85 162.15,61.19 162.49,61.54 162.83,61.89 163.18,62.25 163.52,62.62 163.86,62.99 164.20,63.38 164.55,63.78 164.89,64.20 165.23,64.63 165.58,65.09 165.92,65.56 166.26,66.07 166.60,66.59 166.95,67.13 167.29,67.70 167.63,68.27 167.98,68.84 168.32,69.42 168.66,69.99 169.00,70.55 169.35,71.10 169.69,71.64 170.03,72.17 170.38,72.69 170.72,73.20 171.06,73.71 171.40,74.21 171.75,74.71 172.09,75.21 172.43,75.70 172.78,76.20 173.12,76.69 173.46,77.18 173.80,77.67 174.15,78.15 174.49,78.63 174.83,79.09 175.18,79.55 175.52,79.99 175.86,80.42 176.20,80.84 176.55,81.24 176.89,81.63 177.23,82.01 177.58,82.38 177.92,82.74 178.26,83.09 178.60,83.44 178.95,83.77 179.29,84.10 179.63,84.43 179.98,84.75 180.32,85.06 180.66,85.37 181.00,85.68 181.35,85.98 181.69,86.28 182.03,86.58 182.38,86.87 182.72,87.16 183.06,87.45 183.40,87.74 183.75,88.03 184.09,88.33 184.43,88.63 184.78,88.94 185.12,89.25 185.46,89.58 185.80,89.92 186.15,90.28 186.49,90.65 186.83,91.03 187.18,91.42 187.52,91.81 187.86,92.21 188.20,92.60 188.55,92.98 188.89,93.36 189.23,93.72 189.58,94.06 189.92,94.39 190.26,94.70 190.60,95.00 190.95,95.26 191.29,95.50 191.63,95.72 191.98,95.92 192.32,96.09 192.66,96.24 193.00,96.37 193.35,96.48 193.69,96.57 194.03,96.65 194.38,96.71 194.72,96.76 195.06,96.80 195.40,96.83 195.75,96.84 196.09,96.84 196.43,96.84 196.78,96.82 197.12,96.79 197.46,96.76 197.80,96.71 198.15,96.66 198.49,96.61 198.83,96.55 199.18,96.48 199.52,96.41 199.86,96.35 200.20,96.28 200.55,96.21 200.89,96.15 201.23,96.10 201.58,96.05 201.92,96.00 202.26,95.96 202.60,95.92 202.95,95.87 203.29,95.83 203.63,95.78 203.98,95.72 204.32,95.65 204.66,95.57 205.00,95.48 205.35,95.37 205.69,95.25 206.03,95.12 206.38,94.97 206.72,94.81 207.06,94.64 207.41,94.45 207.75,94.24 208.09,94.03 208.43,93.80 208.78,93.55 209.12,93.29 209.46,93.02 209.81,92.73 210.15,92.44 210.49,92.14 210.83,91.83 211.18,91.52 211.52,91.20 211.86,90.87 212.21,90.55 212.55,90.22 212.89,89.89 213.23,89.56 213.58,89.23 213.92,88.90 214.26,88.56 214.61,88.23 214.95,87.89 215.29,87.55 215.63,87.21 215.98,86.87 216.32,86.52 216.66,86.17 217.01,85.82 217.35,85.47 217.69,85.12 218.03,84.76 218.38,84.39 218.72,84.03 219.06,83.66 219.41,83.28 219.75,82.90 220.09,82.52 220.43,82.13 220.78,81.73 221.12,81.34 221.46,80.94 221.81,80.54 222.15,80.14 222.49,79.74 222.83,79.34 223.18,78.95 223.52,78.55 223.86,78.16 224.21,77.76 224.55,77.37 224.89,76.96 225.23,76.55 225.58,76.12 225.92,75.67 226.26,75.21 226.61,74.72 226.95,74.22 227.29,73.71 227.63,73.18 227.98,72.65 228.32,72.11 228.66,71.57 229.01,71.03 229.35,70.49 229.69,69.97 230.03,69.46 230.38,68.97 230.72,68.49 231.06,68.04 231.41,67.62 231.75,67.23 232.09,66.86 232.43,66.51 232.78,66.17 233.12,65.85 233.46,65.53 233.81,65.22 234.15,64.92 234.49,64.62 234.83,64.32 235.18,64.03 235.52,63.73 235.86,63.44 236.21,63.15 236.55,62.86 236.89,62.56 237.23,62.26 237.58,61.96 237.92,61.65 238.26,61.33 238.61,61.01 238.95,60.67 239.29,60.32 239.63,59.96 239.98,59.59 240.32,59.20 240.66,58.81 241.01,58.42 241.35,58.02 241.69,57.63 242.03,57.25 242.38,56.88 242.72,56.52 243.06,56.18 243.41,55.86 243.75,55.55 244.09,55.25 244.43,54.98 244.78,54.71 245.12,54.47 245.46,54.23 245.81,54.01 246.15,53.80 246.49,53.60 246.83,53.42 247.18,53.24 247.52,53.08 247.86,52.93 248.21,52.78 248.55,52.65 248.89,52.53 249.23,52.41 249.58,52.30 249.92,52.20 250.26,52.11 250.61,52.02 250.95,51.94 251.29,51.87 251.63,51.80 251.98,51.74 252.32,51.68 252.66,51.64 253.01,51.60 253.35,51.57 253.69,51.55 254.03,51.54 254.38,51.54 254.72,51.55 255.06,51.57 255.41,51.60 255.75,51.64 256.09,51.70 256.43,51.76 256.78,51.83 257.12,51.91 257.46,51.99 257.81,52.07 258.15,52.16 258.49,52.26 258.84,52.35 259.18,52.44 259.52,52.53 259.86,52.62 260.21,52.71 260.55,52.80 260.89,52.90 261.24,53.00 261.58,53.11 261.92,53.22 262.26,53.35 262.61,53.49 262.95,53.65 263.29,53.82 263.64,54.00 263.98,54.20 264.32,54.42 264.66,54.66 265.01,54.91 265.35,55.18 265.69,55.48 266.04,55.79 266.38,56.12 266.72,56.47 267.06,56.83 267.41,57.20 267.75,57.59 268.09,57.98 268.44,58.39 268.78,58.80 269.12,59.21 269.46,59.62 269.81,60.04 270.15,60.46 270.49,60.88 270.84,61.30 271.18,61.72 271.52,62.13 271.86,62.54 272.21,62.95 272.55,63.35 272.89,63.74 273.24,64.14 273.58,64.53 273.92,64.93 274.26,65.32 274.61,65.72 274.95,66.11 275.29,66.52 275.64,66.92 275.98,67.33 276.32,67.75 276.66,68.17 277.01,68.60 277.35,69.04 277.69,69.48 278.04,69.93 278.38,70.39 278.72,70.85 279.06,71.32 279.41,71.80 279.75,72.28 280.09,72.77 280.44,73.27 280.78,73.77 281.12,74.28 281.46,74.78 281.81,75.30 282.15,75.81 282.49,76.32 282.84,76.84 283.18,77.35 283.52,77.87 283.86,78.38 284.21,78.89 284.55,79.40 284.89,79.90 285.24,80.40 285.58,80.90 285.92,81.39 286.26,81.88 286.61,82.37 286.95,82.85 287.29,83.33 287.64,83.80 287.98,84.27 288.32,84.73 288.66,85.18 289.01,85.63 289.35,86.08 289.69,86.51 290.04,86.95 290.38,87.37 290.72,87.79 291.06,88.20 291.41,88.61 291.75,89.01 292.09,89.40 292.44,89.79 292.78,90.17 293.12,90.54 293.46,90.91 293.81,91.28 294.15,91.64 294.49,91.99 294.84,92.34 295.18,92.69 295.52,93.03 295.86,93.37 296.21,93.70 296.55,94.02 296.89,94.34 297.24,94.65 297.58,94.96 297.92,95.25 298.26,95.54 298.61,95.82 298.95,96.09 299.29,96.35 299.64,96.60 299.98,96.84 300.32,97.07 300.66,97.28 301.01,97.49 301.35,97.67 301.69,97.85 302.04,98.01 302.38,98.15 302.72,98.28 303.06,98.39 303.41,98.48 303.75,98.56 304.09,98.63 304.44,98.69 304.78,98.73 305.12,98.76 305.46,98.78 305.81,98.79 306.15,98.79 306.49,98.79 306.84,98.78 307.18,98.76 307.52,98.73 307.86,98.69 308.21,98.65 308.55,98.60 308.89,98.55 309.24,98.49 309.58,98.41 309.92,98.34 310.27,98.25 310.61,98.16 310.95,98.06 311.29,97.95 311.64,97.83 311.98,97.71 312.32,97.57 312.67,97.43 313.01,97.28 313.35,97.12 313.69,96.95 314.04,96.77 314.38,96.58 314.72,96.39 315.07,96.18 315.41,95.96 315.75,95.73 316.09,95.49 316.44,95.24 316.78,94.97 317.12,94.70 317.47,94.41 317.81,94.10 318.15,93.79 318.49,93.46 318.84,93.11 319.18,92.76 319.52,92.40 319.87,92.02 320.21,91.64 320.55,91.25 320.89,90.85 321.24,90.44 321.58,90.03 321.92,89.61 322.27,89.19 322.61,88.76 322.95,88.33 323.29,87.90 323.64,87.46 323.98,87.02 324.32,86.57 324.67,86.13 325.01,85.68 325.35,85.23 325.69,84.78 326.04,84.33 326.38,83.87 326.72,83.42 327.07,82.96 327.41,82.50 327.75,82.03 328.09,81.56 328.44,81.09 328.78,80.62 329.12,80.14 329.47,79.65 329.81,79.16 330.15,78.67 330.49,78.17 330.84,77.67 331.18,77.17 331.52,76.66 331.87,76.16 332.21,75.65 332.55,75.15 332.89,74.65 333.24,74.15 333.58,73.65 333.92,73.16 334.27,72.66 334.61,72.17 334.95,71.68 335.29,71.20 335.64,70.71 335.98,70.22 336.32,69.73 336.67,69.24 337.01,68.75 337.35,68.26 337.69,67.77 338.04,67.28 338.38,66.79 338.72,66.31 339.07,65.83 339.41,65.36 339.75,64.89 340.09,64.44 340.44,63.99 340.78,63.56 341.12,63.14 341.47,62.73 341.81,62.34 342.15,61.97 342.49,61.60 342.84,61.25 343.18,60.90 343.52,60.56 343.87,60.23 344.21,59.90 344.55,59.57 344.89,59.24 345.24,58.91 345.58,58.58 345.92,58.24 346.27,57.91 346.61,57.57 346.95,57.24 347.29,56.90 347.64,56.58 347.98,56.26 348.32,55.95 348.67,55.64 349.01,55.35 349.35,55.07 349.69,54.79 350.04,54.53 350.38,54.27 350.72,54.02 351.07,53.78 351.41,53.55 351.75,53.32 352.09,53.11 352.44,52.90 352.78,52.70 353.12,52.51 353.47,52.32 353.81,52.15 354.15,51.98 354.49,51.82 354.84,51.68 355.18,51.54 355.52,51.41 355.87,51.30 356.21,51.20 356.55,51.11 356.89,51.03 357.24,50.96 357.58,50.91 357.92,50.87 358.27,50.85 358.61,50.84 358.95,50.85 359.29,50.87 359.64,50.91 359.98,50.97 360.32,51.05 360.67,51.13 361.01,51.23 361.35,51.35 361.70,51.46 362.04,51.58 362.38,51.70 362.72,51.82 363.07,51.94 363.41,52.04 363.75,52.14 364.10,52.24 364.44,52.33 364.78,52.41 365.12,52.50 365.47,52.59 365.81,52.67 366.15,52.76 366.50,52.86 366.84,52.95 367.18,53.06 367.52,53.18 367.87,53.31 368.21,53.45 368.55,53.60 368.90,53.78 369.24,53.97 369.58,54.18 369.92,54.42 370.27,54.68 370.61,54.96 370.95,55.27 371.30,55.60 371.64,55.95 371.98,56.31 372.32,56.69 372.67,57.07 373.01,57.47 373.35,57.87 373.70,58.28 374.04,58.70 374.38,59.11 374.72,59.53 375.07,59.94 375.41,60.36 375.75,60.77 376.10,61.18 376.44,61.59 376.78,61.98 377.12,62.38 377.47,62.76 377.81,63.14 378.15,63.51 378.50,63.88 378.84,64.25 379.18,64.61 379.52,64.96 379.87,65.32 380.21,65.68 380.55,66.04 380.90,66.40 381.24,66.76 381.58,67.12 381.92,67.49 382.27,67.87 382.61,68.24 382.95,68.62 383.30,69.01 383.64,69.39 383.98,69.79 384.32,70.18 384.67,70.58 385.01,70.99 385.35,71.40 385.70,71.82 386.04,72.24 386.38,72.66 386.72,73.09 387.07,73.52 387.41,73.95 387.75,74.39 388.10,74.82 388.44,75.26 388.78,75.70 389.12,76.13 389.47,76.57 389.81,77.00 390.15,77.43 390.50,77.86 390.84,78.29 391.18,78.71 391.52,79.13 391.87,79.55 392.21,79.96 392.55,80.37 392.90,80.78 393.24,81.18 393.58,81.57 393.92,81.96 394.27,82.34 394.61,82.72 394.95,83.09 395.30,83.46 395.64,83.83 395.98,84.19 396.32,84.55 396.67,84.91 397.01,85.27 397.35,85.63 397.70,85.98 398.04,86.34 398.38,86.69 398.72,87.05 399.07,87.40 399.41,87.76 399.75,88.11 400.10,88.46 400.44,88.81 400.78,89.16 401.12,89.51 401.47,89.85 401.81,90.19 402.15,90.52 402.50,90.85 402.84,91.18 403.18,91.49 403.52,91.80 403.87,92.10 404.21,92.39 404.55,92.66 404.90,92.93 405.24,93.17 405.58,93.40 405.92,93.62 406.27,93.81 406.61,93.99 406.95,94.16 407.30,94.30 407.64,94.44 407.98,94.56 408.32,94.67 408.67,94.76 409.01,94.85 409.35,94.92 409.70,94.99 410.04,95.05 410.38,95.10 410.72,95.15 411.07,95.19 411.41,95.23 411.75,95.27 412.10,95.30 412.44,95.34 412.78,95.38 413.13,95.41 413.47,95.45 413.81,95.50 414.15,95.55 414.50,95.60 414.84,95.66 415.18,95.72 415.53,95.78 415.87,95.85 416.21,95.91 416.55,95.98 416.90,96.05 417.24,96.11 417.58,96.16 417.93,96.19 418.27,96.21 418.61,96.22 418.95,96.20 419.30,96.16 419.64,96.11 419.98,96.03 420.33,95.94 420.67,95.84 421.01,95.71 421.35,95.58 421.70,95.43 422.04,95.27 422.38,95.10 422.73,94.91 423.07,94.72 423.41,94.52 423.75,94.31 424.10,94.09 424.44,93.86 424.78,93.62 425.13,93.37 425.47,93.12 425.81,92.85 426.15,92.58 426.50,92.30 426.84,92.02 427.18,91.73 427.53,91.43 427.87,91.12 428.21,90.82 428.55,90.51 428.90,90.20 429.24,89.88 429.58,89.57 429.93,89.25 430.27,88.93 430.61,88.61 430.95,88.29 431.30,87.97 431.64,87.65 431.98,87.33 432.33,87.01 432.67,86.70 433.01,86.38 433.35,86.06 433.70,85.74 434.04,85.42 434.38,85.10 434.73,84.78 435.07,84.44 435.41,84.11 435.75,83.76 436.10,83.41 436.44,83.05 436.78,82.67 437.13,82.29 437.47,81.90 437.81,81.49 438.15,81.07 438.50,80.64 438.84,80.18 439.18,79.72 439.53,79.24 439.87,78.74 440.21,78.23 440.55,77.72 440.90,77.19 441.24,76.67 441.58,76.14 441.93,75.61 442.27,75.08 442.61,74.55 442.95,74.03 443.30,73.52 443.64,73.02 443.98,72.52 444.33,72.03 444.67,71.55 445.01,71.07 445.35,70.60 445.70,70.13 446.04,69.68 446.38,69.22 446.73,68.78 447.07,68.33 447.41,67.90 447.75,67.47 448.10,67.04 448.44,66.62 448.78,66.20 449.13,65.78 449.47,65.37 449.81,64.96 450.15,64.56 450.50,64.16 450.84,63.75 451.18,63.36 451.53,62.96 451.87,62.56 452.21,62.17 452.55,61.77 452.90,61.38 453.24,60.99 453.58,60.60 453.93,60.21 454.27,59.83 454.61,59.45 454.95,59.08 455.30,58.71 455.64,58.34 455.98,57.98 456.33,57.62 456.67,57.27 457.01,56.93 457.35,56.59 457.70,56.26 458.04,55.93 458.38,55.61 458.73,55.31 459.07,55.00 459.41,54.71 459.75,54.43 460.10,54.15 460.44,53.89 460.78,53.63 461.13,53.39 461.47,53.15 461.81,52.93 462.15,52.71 462.50,52.50 462.84,52.31 463.18,52.12 463.53,51.94 463.87,51.77 464.21,51.62 464.56,51.46 464.90,51.32 465.24,51.19 465.58,51.06 465.93,50.95 466.27,50.84 466.61,50.74 466.96,50.64 467.30,50.56 467.64,50.48 467.98,50.41 468.33,50.35 468.67,50.29 469.01,50.24 469.36,50.20 469.70,50.16 470.04,50.13 470.38,50.11 470.73,50.09 471.07,50.09 471.41,50.09 471.76,50.10 472.10,50.12 472.44,50.15 472.78,50.19 473.13,50.24 473.47,50.30 473.81,50.37 474.16,50.45 474.50,50.55 474.84,50.65 475.18,50.77 475.53,50.90 475.87,51.04 476.21,51.20 476.56,51.36 476.90,51.53 477.24,51.72 477.58,51.91 477.93,52.12 478.27,52.33 478.61,52.56 478.96,52.80 479.30,53.05 479.64,53.32 479.98,53.60 480.33,53.90 480.67,54.22 481.01,54.55 481.36,54.91 481.70,55.28 482.04,55.67 482.38,56.09 482.73,56.52 483.07,56.96 483.41,57.42 483.76,57.89 484.10,58.36 484.44,58.84 484.78,59.32 485.13,59.80 485.47,60.29 485.81,60.77 486.16,61.25 486.50,61.73 486.84,62.21 487.18,62.69 487.53,63.18 487.87,63.66 488.21,64.14 488.56,64.62 488.90,65.10 489.24,65.58 489.58,66.06 489.93,66.53 490.27,67.00 490.61,67.46 490.96,67.92 491.30,68.37 491.64,68.81 491.98,69.25 492.33,69.67 492.67,70.08 493.01,70.49 493.36,70.90 493.70,71.30 494.04,71.71 494.38,72.12 494.73,72.53 495.07,72.95 495.41,73.38 495.76,73.82 496.10,74.28 496.44,74.75 496.78,75.23 497.13,75.73 497.47,76.23 497.81,76.75 498.16,77.28 498.50,77.81 498.84,78.36 499.18,78.91 499.53,79.46 499.87,80.02 500.21,80.58 500.56,81.14 500.90,81.70 501.24,82.25 501.58,82.80 501.93,83.34 502.27,83.86 502.61,84.37 502.96,84.87 503.30,85.36 503.64,85.84 503.98,86.30 504.33,86.75 504.67,87.20 505.01,87.63 505.36,88.05 505.70,88.47 506.04,88.88 506.38,89.28 506.73,89.67 507.07,90.05 507.41,90.43 507.76,90.79 508.10,91.15 508.44,91.50 508.78,91.85 509.13,92.18 509.47,92.51 509.81,92.83 510.16,93.15 510.50,93.45 510.84,93.75 511.18,94.04 511.53,94.32 511.87,94.60 512.21,94.87 512.56,95.13 512.90,95.38 513.24,95.63 513.59,95.87 513.93,96.10 514.27,96.32 514.61,96.53 514.96,96.74 515.30,96.94 515.64,97.13 515.99,97.32 516.33,97.50 516.67,97.67 517.01,97.83 517.36,97.98 517.70,98.13 518.04,98.26 518.39,98.39 518.73,98.52 519.07,98.63 519.41,98.73 519.76,98.83 520.10,98.91 520.44,98.99 520.79,99.06 521.13,99.12 521.47,99.17 521.81,99.21 522.16,99.23 522.50,99.25 522.84,99.25 523.19,99.24 523.53,99.21 523.87,99.16 524.21,99.09 524.56,99.01 524.90,98.90 525.24,98.77 525.59,98.61 525.93,98.44 526.27,98.25 526.61,98.04 526.96,97.81 527.30,97.57 527.64,97.33 527.99,97.07 528.33,96.81 528.67,96.54 529.01,96.27 529.36,96.00 529.70,95.73 530.04,95.45 530.39,95.17 530.73,94.90 531.07,94.62 531.41,94.34 531.76,94.07 532.10,93.79 532.44,93.52 532.79,93.25 533.13,92.97 533.47,92.70 533.81,92.42 534.16,92.15 534.50,91.87 534.84,91.59 535.19,91.30 535.53,91.01 535.87,90.72 536.21,90.42 536.56,90.12 536.90,89.81 537.24,89.50 537.59,89.17 537.93,88.85 538.27,88.51 538.61,88.17 538.96,87.82 539.30,87.45" fill="none" stroke="#0404f8" stroke-width="3.1" stroke-linejoin="round"/><polyline points="25.00,58.21 25.34,57.89 25.69,57.59 26.03,57.29 26.37,56.99 26.71,56.71 27.06,56.43 27.40,56.16 27.74,55.90 28.09,55.64 28.43,55.39 28.77,55.15 29.11,54.92 29.46,54.69 29.80,54.47 30.14,54.26 30.49,54.06 30.83,53.87 31.17,53.68 31.51,53.51 31.86,53.34 32.20,53.18 32.54,53.03 32.89,52.88 33.23,52.75 33.57,52.63 33.91,52.51 34.26,52.40 34.60,52.30 34.94,52.21 35.29,52.13 35.63,52.06 35.97,51.99 36.31,51.94 36.66,51.89 37.00,51.86 37.34,51.83 37.69,51.81 38.03,51.80 38.37,51.80 38.71,51.81 39.06,51.83 39.40,51.86 39.74,51.89 40.09,51.94 40.43,51.99 40.77,52.06 41.11,52.13 41.46,52.21 41.80,52.30 42.14,52.40 42.49,52.51 42.83,52.63 43.17,52.75 43.51,52.88 43.86,53.03 44.20,53.18 44.54,53.34 44.89,53.51 45.23,53.68 45.57,53.87 45.91,54.06 46.26,54.26 46.60,54.47 46.94,54.69 47.29,54.92 47.63,55.15 47.97,55.39 48.31,55.64 48.66,55.90 49.00,56.16 49.34,56.43 49.69,56.71 50.03,56.99 50.37,57.29 50.71,57.59 51.06,57.89 51.40,58.21 51.74,58.52 52.09,58.85 52.43,59.18 52.77,59.52 53.12,59.86 53.46,60.21 53.80,60.57 54.14,60.93 54.49,61.30 54.83,61.67 55.17,62.05 55.52,62.43 55.86,62.82 56.20,63.21 56.54,63.60 56.89,64.00 57.23,64.41 57.57,64.82 57.92,65.23 58.26,65.64 58.60,66.06 58.94,66.49 59.29,66.91 59.63,67.34 59.97,67.78 60.32,68.21 60.66,68.65 61.00,69.09 61.34,69.53 61.69,69.97 62.03,70.42 62.37,70.87 62.72,71.31 63.06,71.76 63.40,72.22 63.74,72.67 64.09,73.12 64.43,73.57 64.77,74.03 65.12,74.48 65.46,74.94 65.80,75.39 66.14,75.84 66.49,76.30 66.83,76.75 67.17,77.20 67.52,77.65 67.86,78.10 68.20,78.55 68.54,78.99 68.89,79.44 69.23,79.88 69.57,80.32 69.92,80.76 70.26,81.19 70.60,81.62 70.94,82.05 71.29,82.48 71.63,82.90 71.97,83.32 72.32,83.74 72.66,84.15 73.00,84.56 73.34,84.97 73.69,85.37 74.03,85.76 74.37,86.15 74.72,86.54 75.06,86.92 75.40,87.30 75.74,87.67 76.09,88.04 76.43,88.40 76.77,88.76 77.12,89.11 77.46,89.45 77.80,89.79 78.14,90.12 78.49,90.45 78.83,90.77 79.17,91.08 79.52,91.39 79.86,91.69 80.20,91.98 80.54,92.27 80.89,92.55 81.23,92.82 81.57,93.08 81.92,93.34 82.26,93.59 82.60,93.83 82.94,94.07 83.29,94.29 83.63,94.51 83.97,94.72 84.32,94.92 84.66,95.12 85.00,95.30 85.34,95.48 85.69,95.65 86.03,95.81 86.37,95.96 86.72,96.10 87.06,96.24 87.40,96.37 87.74,96.48 88.09,96.59 88.43,96.69 88.77,96.78 89.12,96.86 89.46,96.94 89.80,97.00 90.14,97.06 90.49,97.10 90.83,97.14 91.17,97.17 91.52,97.19 91.86,97.20 92.20,97.20 92.54,97.19 92.89,97.17 93.23,97.14 93.57,97.11 93.92,97.06 94.26,97.01 94.60,96.95 94.94,96.88 95.29,96.80 95.63,96.71 95.97,96.61 96.32,96.50 96.66,96.38 97.00,96.26 97.34,96.13 97.69,95.98 98.03,95.83 98.37,95.67 98.72,95.51 99.06,95.33 99.40,95.15 99.74,94.95 100.09,94.75 100.43,94.54 100.77,94.33 101.12,94.10 101.46,93.87 101.80,93.63 102.14,93.38 102.49,93.12 102.83,92.86 103.17,92.59 103.52,92.31 103.86,92.03 104.20,91.74 104.55,91.44 104.89,91.13 105.23,90.82 105.57,90.50 105.92,90.18 106.26,89.84 106.60,89.51 106.95,89.16 107.29,88.81 107.63,88.46 107.97,88.10 108.32,87.73 108.66,87.36 109.00,86.98 109.35,86.60 109.69,86.22 110.03,85.82 110.37,85.43 110.72,85.03 111.06,84.62 111.40,84.22 111.75,83.80 112.09,83.39 112.43,82.97 112.77,82.55 113.12,82.12 113.46,81.69 113.80,81.26 114.15,80.82 114.49,80.39 114.83,79.95 115.17,79.51 115.52,79.06 115.86,78.62 116.20,78.17 116.55,77.72 116.89,77.27 117.23,76.82 117.57,76.37 117.92,75.92 118.26,75.46 118.60,75.01 118.95,74.55 119.29,74.10 119.63,73.65 119.97,73.19 120.32,72.74 120.66,72.29 121.00,71.84 121.35,71.39 121.69,70.94 122.03,70.49 122.37,70.04 122.72,69.60 123.06,69.16 123.40,68.72 123.75,68.28 124.09,67.84 124.43,67.41 124.77,66.98 125.12,66.56 125.46,66.13 125.80,65.71 126.15,65.29 126.49,64.88 126.83,64.47 127.17,64.07 127.52,63.67 127.86,63.27 128.20,62.88 128.55,62.49 128.89,62.11 129.23,61.73 129.57,61.36 129.92,60.99 130.26,60.63 130.60,60.27 130.95,59.92 131.29,59.57 131.63,59.24 131.97,58.90 132.32,58.58 132.66,58.26 133.00,57.94 133.35,57.63 133.69,57.33 134.03,57.04 134.37,56.75 134.72,56.47 135.06,56.20 135.40,55.94 135.75,55.68 136.09,55.43 136.43,55.19 136.77,54.95 137.12,54.73 137.46,54.51 137.80,54.30 138.15,54.09 138.49,53.90 138.83,53.71 139.17,53.53 139.52,53.37 139.86,53.20 140.20,53.05 140.55,52.91 140.89,52.77 141.23,52.64 141.57,52.53 141.92,52.42 142.26,52.32 142.60,52.23 142.95,52.14 143.29,52.07 143.63,52.00 143.97,51.95 144.32,51.90 144.66,51.86 145.00,51.83 145.35,51.82 145.69,51.80 146.03,51.80 146.37,51.81 146.72,51.83 147.06,51.85 147.40,51.89 147.75,51.93 148.09,51.99 148.43,52.05 148.77,52.12 149.12,52.20 149.46,52.29 149.80,52.38 150.15,52.49 150.49,52.61 150.83,52.73 151.17,52.86 151.52,53.00 151.86,53.15 152.20,53.31 152.55,53.48 152.89,53.66 153.23,53.84 153.57,54.03 153.92,54.23 154.26,54.44 154.60,54.66 154.95,54.88 155.29,55.11 155.63,55.35 155.98,55.60 156.32,55.85 156.66,56.12 157.00,56.39 157.35,56.66 157.69,56.95 158.03,57.24 158.38,57.54 158.72,57.84 159.06,58.16 159.40,58.47 159.75,58.80 160.09,59.13 160.43,59.47 160.78,59.81 161.12,60.16 161.46,60.51 161.80,60.87 162.15,61.24 162.49,61.61 162.83,61.99 163.18,62.37 163.52,62.75 163.86,63.14 164.20,63.54 164.55,63.94 164.89,64.34 165.23,64.75 165.58,65.16 165.92,65.58 166.26,66.00 166.60,66.42 166.95,66.85 167.29,67.27 167.63,67.71 167.98,68.14 168.32,68.58 168.66,69.02 169.00,69.46 169.35,69.90 169.69,70.35 170.03,70.79 170.38,71.24 170.72,71.69 171.06,72.14 171.40,72.60 171.75,73.05 172.09,73.50 172.43,73.96 172.78,74.41 173.12,74.86 173.46,75.32 173.80,75.77 174.15,76.22 174.49,76.68 174.83,77.13 175.18,77.58 175.52,78.03 175.86,78.47 176.20,78.92 176.55,79.36 176.89,79.81 177.23,80.25 177.58,80.69 177.92,81.12 178.26,81.55 178.60,81.98 178.95,82.41 179.29,82.83 179.63,83.26 179.98,83.67 180.32,84.09 180.66,84.50 181.00,84.90 181.35,85.30 181.69,85.70 182.03,86.09 182.38,86.48 182.72,86.86 183.06,87.24 183.40,87.61 183.75,87.98 184.09,88.34 184.43,88.70 184.78,89.05 185.12,89.40 185.46,89.74 185.80,90.07 186.15,90.40 186.49,90.72 186.83,91.03 187.18,91.34 187.52,91.64 187.86,91.94 188.20,92.22 188.55,92.50 188.89,92.78 189.23,93.04 189.58,93.30 189.92,93.55 190.26,93.79 190.60,94.03 190.95,94.26 191.29,94.48 191.63,94.69 191.98,94.89 192.32,95.09 192.66,95.27 193.00,95.45 193.35,95.62 193.69,95.78 194.03,95.94 194.38,96.08 194.72,96.22 195.06,96.35 195.40,96.46 195.75,96.57 196.09,96.68 196.43,96.77 196.78,96.85 197.12,96.93 197.46,96.99 197.80,97.05 198.15,97.10 198.49,97.13 198.83,97.16 199.18,97.18 199.52,97.19 199.86,97.20 200.20,97.19 200.55,97.17 200.89,97.15 201.23,97.11 201.58,97.07 201.92,97.02 202.26,96.96 202.60,96.89 202.95,96.81 203.29,96.72 203.63,96.62 203.98,96.52 204.32,96.40 204.66,96.28 205.00,96.15 205.35,96.01 205.69,95.86 206.03,95.70 206.38,95.53 206.72,95.36 207.06,95.18 207.41,94.98 207.75,94.78 208.09,94.58 208.43,94.36 208.78,94.14 209.12,93.91 209.46,93.67 209.81,93.42 210.15,93.17 210.49,92.90 210.83,92.63 211.18,92.36 211.52,92.07 211.86,91.78 212.21,91.49 212.55,91.18 212.89,90.87 213.23,90.55 213.58,90.23 213.92,89.90 214.26,89.56 214.61,89.22 214.95,88.87 215.29,88.52 215.63,88.16 215.98,87.79 216.32,87.42 216.66,87.04 217.01,86.66 217.35,86.28 217.69,85.89 218.03,85.49 218.38,85.09 218.72,84.69 219.06,84.28 219.41,83.87 219.75,83.46 220.09,83.04 220.43,82.61 220.78,82.19 221.12,81.76 221.46,81.33 221.81,80.89 222.15,80.46 222.49,80.02 222.83,79.58 223.18,79.13 223.52,78.69 223.86,78.24 224.21,77.79 224.55,77.34 224.89,76.89 225.23,76.44 225.58,75.99 225.92,75.53 226.26,75.08 226.61,74.63 226.95,74.17 227.29,73.72 227.63,73.27 227.98,72.81 228.32,72.36 228.66,71.91 229.01,71.46 229.35,71.01 229.69,70.56 230.03,70.11 230.38,69.67 230.72,69.23 231.06,68.79 231.41,68.35 231.75,67.91 232.09,67.48 232.43,67.05 232.78,66.62 233.12,66.20 233.46,65.78 233.81,65.36 234.15,64.95 234.49,64.54 234.83,64.13 235.18,63.73 235.52,63.33 235.86,62.94 236.21,62.55 236.55,62.17 236.89,61.79 237.23,61.42 237.58,61.05 237.92,60.68 238.26,60.33 238.61,59.98 238.95,59.63 239.29,59.29 239.63,58.96 239.98,58.63 240.32,58.31 240.66,57.99 241.01,57.68 241.35,57.38 241.69,57.09 242.03,56.80 242.38,56.52 242.72,56.25 243.06,55.98 243.41,55.72 243.75,55.47 244.09,55.23 244.43,54.99 244.78,54.76 245.12,54.54 245.46,54.33 245.81,54.13 246.15,53.93 246.49,53.74 246.83,53.56 247.18,53.39 247.52,53.23 247.86,53.07 248.21,52.93 248.55,52.79 248.89,52.66 249.23,52.54 249.58,52.43 249.92,52.33 250.26,52.24 250.61,52.15 250.95,52.08 251.29,52.01 251.63,51.96 251.98,51.91 252.32,51.87 252.66,51.84 253.01,51.82 253.35,51.81 253.69,51.80 254.03,51.81 254.38,51.82 254.72,51.85 255.06,51.88 255.41,51.92 255.75,51.98 256.09,52.04 256.43,52.11 256.78,52.18 257.12,52.27 257.46,52.37 257.81,52.47 258.15,52.59 258.49,52.71 258.84,52.84 259.18,52.98 259.52,53.13 259.86,53.29 260.21,53.45 260.55,53.63 260.89,53.81 261.24,54.00 261.58,54.20 261.92,54.41 262.26,54.62 262.61,54.84 262.95,55.07 263.29,55.31 263.64,55.56 263.98,55.81 264.32,56.08 264.66,56.34 265.01,56.62 265.35,56.90 265.69,57.19 266.04,57.49 266.38,57.79 266.72,58.11 267.06,58.42 267.41,58.75 267.75,59.08 268.09,59.41 268.44,59.75 268.78,60.10 269.12,60.46 269.46,60.82 269.81,61.18 270.15,61.55 270.49,61.93 270.84,62.31 271.18,62.69 271.52,63.08 271.86,63.48 272.21,63.87 272.55,64.28 272.89,64.69 273.24,65.10 273.58,65.51 273.92,65.93 274.26,66.35 274.61,66.78 274.95,67.21 275.29,67.64 275.64,68.07 275.98,68.51 276.32,68.95 276.66,69.39 277.01,69.83 277.35,70.28 277.69,70.72 278.04,71.17 278.38,71.62 278.72,72.07 279.06,72.52 279.41,72.98 279.75,73.43 280.09,73.88 280.44,74.34 280.78,74.79 281.12,75.25 281.46,75.70 281.81,76.15 282.15,76.60 282.49,77.06 282.84,77.51 283.18,77.96 283.52,78.40 283.86,78.85 284.21,79.29 284.55,79.74 284.89,80.18 285.24,80.62 285.58,81.05 285.92,81.49 286.26,81.92 286.61,82.34 286.95,82.77 287.29,83.19 287.64,83.61 287.98,84.02 288.32,84.43 288.66,84.84 289.01,85.24 289.35,85.64 289.69,86.03 290.04,86.42 290.38,86.80 290.72,87.18 291.06,87.56 291.41,87.92 291.75,88.29 292.09,88.64 292.44,89.00 292.78,89.34 293.12,89.68 293.46,90.02 293.81,90.35 294.15,90.67 294.49,90.98 294.84,91.29 295.18,91.59 295.52,91.89 295.86,92.18 296.21,92.46 296.55,92.73 296.89,93.00 297.24,93.26 297.58,93.51 297.92,93.75 298.26,93.99 298.61,94.22 298.95,94.44 299.29,94.65 299.64,94.86 299.98,95.05 300.32,95.24 300.66,95.42 301.01,95.60 301.35,95.76 301.69,95.91 302.04,96.06 302.38,96.20 302.72,96.33 303.06,96.45 303.41,96.56 303.75,96.66 304.09,96.75 304.44,96.84 304.78,96.91 305.12,96.98 305.46,97.04 305.81,97.09 306.15,97.13 306.49,97.16 306.84,97.18 307.18,97.19 307.52,97.20 307.86,97.19 308.21,97.18 308.55,97.15 308.89,97.12 309.24,97.08 309.58,97.03 309.92,96.97 310.27,96.90 310.61,96.82 310.95,96.74 311.29,96.64 311.64,96.54 311.98,96.42 312.32,96.30 312.67,96.17 313.01,96.03 313.35,95.88 313.69,95.73 314.04,95.56 314.38,95.39 314.72,95.21 315.07,95.02 315.41,94.82 315.75,94.61 316.09,94.40 316.44,94.17 316.78,93.94 317.12,93.71 317.47,93.46 317.81,93.21 318.15,92.95 318.49,92.68 318.84,92.40 319.18,92.12 319.52,91.83 319.87,91.53 320.21,91.23 320.55,90.92 320.89,90.60 321.24,90.28 321.58,89.95 321.92,89.62 322.27,89.27 322.61,88.93 322.95,88.57 323.29,88.21 323.64,87.85 323.98,87.48 324.32,87.10 324.67,86.72 325.01,86.34 325.35,85.95 325.69,85.56 326.04,85.16 326.38,84.75 326.72,84.35 327.07,83.94 327.41,83.52 327.75,83.10 328.09,82.68 328.44,82.26 328.78,81.83 329.12,81.40 329.47,80.96 329.81,80.53 330.15,80.09 330.49,79.65 330.84,79.20 331.18,78.76 331.52,78.31 331.87,77.86 332.21,77.41 332.55,76.96 332.89,76.51 333.24,76.06 333.58,75.61 333.92,75.15 334.27,74.70 334.61,74.24 334.95,73.79 335.29,73.34 335.64,72.88 335.98,72.43 336.32,71.98 336.67,71.53 337.01,71.08 337.35,70.63 337.69,70.19 338.04,69.74 338.38,69.30 338.72,68.86 339.07,68.42 339.41,67.98 339.75,67.55 340.09,67.12 340.44,66.69 340.78,66.27 341.12,65.84 341.47,65.43 341.81,65.01 342.15,64.60 342.49,64.20 342.84,63.79 343.18,63.40 343.52,63.00 343.87,62.61 344.21,62.23 344.55,61.85 344.89,61.47 345.24,61.11 345.58,60.74 345.92,60.38 346.27,60.03 346.61,59.68 346.95,59.34 347.29,59.01 347.64,58.68 347.98,58.36 348.32,58.04 348.67,57.73 349.01,57.43 349.35,57.13 349.69,56.84 350.04,56.56 350.38,56.29 350.72,56.02 351.07,55.76 351.41,55.51 351.75,55.26 352.09,55.03 352.44,54.80 352.78,54.58 353.12,54.36 353.47,54.16 353.81,53.96 354.15,53.77 354.49,53.59 354.84,53.42 355.18,53.25 355.52,53.10 355.87,52.95 356.21,52.81 356.55,52.68 356.89,52.56 357.24,52.45 357.58,52.35 357.92,52.25 358.27,52.17 358.61,52.09 358.95,52.02 359.29,51.96 359.64,51.92 359.98,51.87 360.32,51.84 360.67,51.82 361.01,51.81 361.35,51.80 361.70,51.81 362.04,51.82 362.38,51.84 362.72,51.88 363.07,51.92 363.41,51.97 363.75,52.03 364.10,52.09 364.44,52.17 364.78,52.26 365.12,52.35 365.47,52.46 365.81,52.57 366.15,52.69 366.50,52.82 366.84,52.96 367.18,53.11 367.52,53.26 367.87,53.43 368.21,53.60 368.55,53.78 368.90,53.97 369.24,54.17 369.58,54.37 369.92,54.59 370.27,54.81 370.61,55.04 370.95,55.28 371.30,55.52 371.64,55.77 371.98,56.03 372.32,56.30 372.67,56.58 373.01,56.86 373.35,57.15 373.70,57.44 374.04,57.75 374.38,58.06 374.72,58.37 375.07,58.69 375.41,59.02 375.75,59.36 376.10,59.70 376.44,60.05 376.78,60.40 377.12,60.76 377.47,61.12 377.81,61.49 378.15,61.87 378.50,62.25 378.84,62.63 379.18,63.02 379.52,63.41 379.87,63.81 380.21,64.21 380.55,64.62 380.90,65.03 381.24,65.45 381.58,65.86 381.92,66.28 382.27,66.71 382.61,67.14 382.95,67.57 383.30,68.00 383.64,68.44 383.98,68.88 384.32,69.32 384.67,69.76 385.01,70.21 385.35,70.65 385.70,71.10 386.04,71.55 386.38,72.00 386.72,72.45 387.07,72.90 387.41,73.36 387.75,73.81 388.10,74.27 388.44,74.72 388.78,75.17 389.12,75.63 389.47,76.08 389.81,76.53 390.15,76.98 390.50,77.43 390.84,77.88 391.18,78.33 391.52,78.78 391.87,79.22 392.21,79.67 392.55,80.11 392.90,80.55 393.24,80.98 393.58,81.42 393.92,81.85 394.27,82.28 394.61,82.70 394.95,83.12 395.30,83.54 395.64,83.95 395.98,84.37 396.32,84.77 396.67,85.17 397.01,85.57 397.35,85.97 397.70,86.36 398.04,86.74 398.38,87.12 398.72,87.50 399.07,87.87 399.41,88.23 399.75,88.59 400.10,88.94 400.44,89.29 400.78,89.63 401.12,89.97 401.47,90.29 401.81,90.62 402.15,90.93 402.50,91.24 402.84,91.55 403.18,91.84 403.52,92.13 403.87,92.41 404.21,92.69 404.55,92.96 404.90,93.22 405.24,93.47 405.58,93.72 405.92,93.95 406.27,94.18 406.61,94.41 406.95,94.62 407.30,94.83 407.64,95.02 407.98,95.21 408.32,95.40 408.67,95.57 409.01,95.73 409.35,95.89 409.70,96.04 410.04,96.18 410.38,96.31 410.72,96.43 411.07,96.54 411.41,96.64 411.75,96.74 412.10,96.83 412.44,96.90 412.78,96.97 413.13,97.03 413.47,97.08 413.81,97.12 414.15,97.15 414.50,97.18 414.84,97.19 415.18,97.20 415.53,97.19 415.87,97.18 416.21,97.16 416.55,97.13 416.90,97.09 417.24,97.04 417.58,96.98 417.93,96.91 418.27,96.84 418.61,96.75 418.95,96.66 419.30,96.55 419.64,96.44 419.98,96.32 420.33,96.19 420.67,96.05 421.01,95.91 421.35,95.75 421.70,95.59 422.04,95.42 422.38,95.24 422.73,95.05 423.07,94.85 423.41,94.64 423.75,94.43 424.10,94.21 424.44,93.98 424.78,93.74 425.13,93.50 425.47,93.25 425.81,92.99 426.15,92.72 426.50,92.45 426.84,92.17 427.18,91.88 427.53,91.58 427.87,91.28 428.21,90.97 428.55,90.65 428.90,90.33 429.24,90.00 429.58,89.67 429.93,89.33 430.27,88.98 430.61,88.63 430.95,88.27 431.30,87.91 431.64,87.54 431.98,87.16 432.33,86.79 432.67,86.40 433.01,86.01 433.35,85.62 433.70,85.22 434.04,84.82 434.38,84.41 434.73,84.00 435.07,83.59 435.41,83.17 435.75,82.75 436.10,82.32 436.44,81.90 436.78,81.47 437.13,81.03 437.47,80.60 437.81,80.16 438.15,79.72 438.50,79.27 438.84,78.83 439.18,78.38 439.53,77.94 439.87,77.49 440.21,77.04 440.55,76.58 440.90,76.13 441.24,75.68 441.58,75.22 441.93,74.77 442.27,74.32 442.61,73.86 442.95,73.41 443.30,72.96 443.64,72.50 443.98,72.05 444.33,71.60 444.67,71.15 445.01,70.70 445.35,70.26 445.70,69.81 446.04,69.37 446.38,68.93 446.73,68.49 447.07,68.05 447.41,67.62 447.75,67.19 448.10,66.76 448.44,66.33 448.78,65.91 449.13,65.49 449.47,65.08 449.81,64.67 450.15,64.26 450.50,63.86 450.84,63.46 451.18,63.06 451.53,62.67 451.87,62.29 452.21,61.91 452.55,61.53 452.90,61.16 453.24,60.80 453.58,60.44 453.93,60.09 454.27,59.74 454.61,59.40 454.95,59.06 455.30,58.73 455.64,58.41 455.98,58.09 456.33,57.78 456.67,57.48 457.01,57.18 457.35,56.89 457.70,56.61 458.04,56.33 458.38,56.06 458.73,55.80 459.07,55.55 459.41,55.30 459.75,55.06 460.10,54.83 460.44,54.61 460.78,54.40 461.13,54.19 461.47,53.99 461.81,53.80 462.15,53.62 462.50,53.45 462.84,53.28 463.18,53.12 463.53,52.97 463.87,52.84 464.21,52.70 464.56,52.58 464.90,52.47 465.24,52.36 465.58,52.27 465.93,52.18 466.27,52.10 466.61,52.03 466.96,51.97 467.30,51.92 467.64,51.88 467.98,51.85 468.33,51.82 468.67,51.81 469.01,51.80 469.36,51.81 469.70,51.82 470.04,51.84 470.38,51.87 470.73,51.91 471.07,51.96 471.41,52.02 471.76,52.08 472.10,52.16 472.44,52.24 472.78,52.34 473.13,52.44 473.47,52.55 473.81,52.67 474.16,52.80 474.50,52.94 474.84,53.08 475.18,53.24 475.53,53.40 475.87,53.57 476.21,53.75 476.56,53.94 476.90,54.13 477.24,54.34 477.58,54.55 477.93,54.77 478.27,55.00 478.61,55.24 478.96,55.48 479.30,55.73 479.64,55.99 479.98,56.26 480.33,56.53 480.67,56.81 481.01,57.10 481.36,57.40 481.70,57.70 482.04,58.01 482.38,58.32 482.73,58.64 483.07,58.97 483.41,59.30 483.76,59.64 484.10,59.99 484.44,60.34 484.78,60.70 485.13,61.06 485.47,61.43 485.81,61.81 486.16,62.18 486.50,62.57 486.84,62.96 487.18,63.35 487.53,63.75 487.87,64.15 488.21,64.56 488.56,64.97 488.90,65.38 489.24,65.80 489.58,66.22 489.93,66.64 490.27,67.07 490.61,67.50 490.96,67.93 491.30,68.37 491.64,68.81 491.98,69.25 492.33,69.69 492.67,70.13 493.01,70.58 493.36,71.03 493.70,71.48 494.04,71.93 494.38,72.38 494.73,72.83 495.07,73.29 495.41,73.74 495.76,74.19 496.10,74.65 496.44,75.10 496.78,75.55 497.13,76.01 497.47,76.46 497.81,76.91 498.16,77.36 498.50,77.81 498.84,78.26 499.18,78.71 499.53,79.15 499.87,79.60 500.21,80.04 500.56,80.48 500.90,80.91 501.24,81.35 501.58,81.78 501.93,82.21 502.27,82.63 502.61,83.05 502.96,83.47 503.30,83.89 503.64,84.30 503.98,84.71 504.33,85.11 504.67,85.51 505.01,85.90 505.36,86.30 505.70,86.68 506.04,87.06 506.38,87.44 506.73,87.81 507.07,88.17 507.41,88.53 507.76,88.89 508.10,89.23 508.44,89.58 508.78,89.91 509.13,90.24 509.47,90.57 509.81,90.88 510.16,91.19 510.50,91.50 510.84,91.80 511.18,92.09 511.53,92.37 511.87,92.65 512.21,92.92 512.56,93.18 512.90,93.43 513.24,93.68 513.59,93.92 513.93,94.15 514.27,94.37 514.61,94.59 514.96,94.79 515.30,94.99 515.64,95.18 515.99,95.37 516.33,95.54 516.67,95.71 517.01,95.86 517.36,96.01 517.70,96.15 518.04,96.29 518.39,96.41 518.73,96.52 519.07,96.63 519.41,96.73 519.76,96.81 520.10,96.89 520.44,96.96 520.79,97.02 521.13,97.07 521.47,97.12 521.81,97.15 522.16,97.17 522.50,97.19 522.84,97.20 523.19,97.19 523.53,97.18 523.87,97.16 524.21,97.13 524.56,97.09 524.90,97.05 525.24,96.99 525.59,96.92 525.93,96.85 526.27,96.76 526.61,96.67 526.96,96.57 527.30,96.46 527.64,96.34 527.99,96.21 528.33,96.08 528.67,95.93 529.01,95.78 529.36,95.61 529.70,95.44 530.04,95.26 530.39,95.08 530.73,94.88 531.07,94.68 531.41,94.47 531.76,94.25 532.10,94.02 532.44,93.78 532.79,93.54 533.13,93.29 533.47,93.03 533.81,92.76 534.16,92.49 534.50,92.21 534.84,91.92 535.19,91.63 535.53,91.33 535.87,91.02 536.21,90.70 536.56,90.38 536.90,90.06 537.24,89.72 537.59,89.38 537.93,89.04 538.27,88.69 538.61,88.33 538.96,87.97 539.30,87.60" fill="none" stroke="#f5121d" stroke-width="2.7" stroke-linejoin="round" stroke-dasharray="9.2 9.4"/><polyline points="25.00,106.40 25.34,106.48 25.69,106.55 26.03,106.63 26.37,106.71 26.71,106.78 27.06,106.86 27.40,106.94 27.74,107.02 28.09,107.09 28.43,107.17 28.77,107.24 29.11,107.31 29.46,107.38 29.80,107.45 30.14,107.52 30.49,107.58 30.83,107.64 31.17,107.69 31.51,107.75 31.86,107.80 32.20,107.84 32.54,107.89 32.89,107.92 33.23,107.96 33.57,107.99 33.91,108.01 34.26,108.03 34.60,108.05 34.94,108.06 35.29,108.07 35.63,108.07 35.97,108.07 36.31,108.06 36.66,108.05 37.00,108.03 37.34,108.01 37.69,107.99 38.03,107.96 38.37,107.92 38.71,107.89 39.06,107.84 39.40,107.80 39.74,107.75 40.09,107.69 40.43,107.64 40.77,107.58 41.11,107.52 41.46,107.45 41.80,107.38 42.14,107.31 42.49,107.24 42.83,107.17 43.17,107.09 43.51,107.02 43.86,106.94 44.20,106.86 44.54,106.78 44.89,106.71 45.23,106.63 45.57,106.55 45.91,106.48 46.26,106.40 46.60,106.33 46.94,106.25 47.29,106.18 47.63,106.11 47.97,106.05 48.31,105.98 48.66,105.92 49.00,105.87 49.34,105.81 49.69,105.76 50.03,105.71 50.37,105.67 50.71,105.63 51.06,105.60 51.40,105.56 51.74,105.54 52.09,105.52 52.43,105.50 52.77,105.48 53.12,105.48 53.46,105.47 53.80,105.47 54.14,105.48 54.49,105.49 54.83,105.50 55.17,105.52 55.52,105.54 55.86,105.57 56.20,105.61 56.54,105.64 56.89,105.68 57.23,105.73 57.57,105.78 57.92,105.83 58.26,105.88 58.60,105.94 58.94,106.00 59.29,106.07 59.63,106.13 59.97,106.20 60.32,106.27 60.66,106.35 61.00,106.42 61.34,106.50 61.69,106.57 62.03,106.65 62.37,106.73 62.72,106.81 63.06,106.88 63.40,106.96 63.74,107.04 64.09,107.11 64.43,107.19 64.77,107.26 65.12,107.33 65.46,107.40 65.80,107.47 66.14,107.53 66.49,107.60 66.83,107.65 67.17,107.71 67.52,107.76 67.86,107.81 68.20,107.86 68.54,107.90 68.89,107.93 69.23,107.97 69.57,107.99 69.92,108.02 70.26,108.04 70.60,108.05 70.94,108.06 71.29,108.07 71.63,108.07 71.97,108.07 72.32,108.06 72.66,108.05 73.00,108.03 73.34,108.01 73.69,107.98 74.03,107.95 74.37,107.91 74.72,107.87 75.06,107.83 75.40,107.78 75.74,107.73 76.09,107.68 76.43,107.62 76.77,107.56 77.12,107.50 77.46,107.43 77.80,107.36 78.14,107.29 78.49,107.22 78.83,107.15 79.17,107.07 79.52,107.00 79.86,106.92 80.20,106.84 80.54,106.76 80.89,106.68 81.23,106.61 81.57,106.53 81.92,106.45 82.26,106.38 82.60,106.31 82.94,106.23 83.29,106.16 83.63,106.10 83.97,106.03 84.32,105.97 84.66,105.91 85.00,105.85 85.34,105.80 85.69,105.75 86.03,105.70 86.37,105.66 86.72,105.62 87.06,105.59 87.40,105.56 87.74,105.53 88.09,105.51 88.43,105.49 88.77,105.48 89.12,105.47 89.46,105.47 89.80,105.47 90.14,105.48 90.49,105.49 90.83,105.51 91.17,105.53 91.52,105.55 91.86,105.58 92.20,105.61 92.54,105.65 92.89,105.69 93.23,105.74 93.57,105.79 93.92,105.84 94.26,105.90 94.60,105.96 94.94,106.02 95.29,106.09 95.63,106.15 95.97,106.22 96.32,106.29 96.66,106.37 97.00,106.44 97.34,106.52 97.69,106.59 98.03,106.67 98.37,106.75 98.72,106.83 99.06,106.91 99.40,106.98 99.74,107.06 100.09,107.14 100.43,107.21 100.77,107.28 101.12,107.35 101.46,107.42 101.80,107.49 102.14,107.55 102.49,107.61 102.83,107.67 103.17,107.72 103.52,107.78 103.86,107.82 104.20,107.87 104.55,107.91 104.89,107.94 105.23,107.97 105.57,108.00 105.92,108.02 106.26,108.04 106.60,108.06 106.95,108.07 107.29,108.07 107.63,108.07 107.97,108.06 108.32,108.05 108.66,108.04 109.00,108.02 109.35,108.00 109.69,107.97 110.03,107.94 110.37,107.90 110.72,107.86 111.06,107.82 111.40,107.77 111.75,107.72 112.09,107.66 112.43,107.61 112.77,107.54 113.12,107.48 113.46,107.41 113.80,107.34 114.15,107.27 114.49,107.20 114.83,107.13 115.17,107.05 115.52,106.97 115.86,106.90 116.20,106.82 116.55,106.74 116.89,106.66 117.23,106.59 117.57,106.51 117.92,106.43 118.26,106.36 118.60,106.29 118.95,106.21 119.29,106.14 119.63,106.08 119.97,106.01 120.32,105.95 120.66,105.89 121.00,105.84 121.35,105.78 121.69,105.73 122.03,105.69 122.37,105.65 122.72,105.61 123.06,105.58 123.40,105.55 123.75,105.52 124.09,105.50 124.43,105.49 124.77,105.48 125.12,105.47 125.46,105.47 125.80,105.47 126.15,105.48 126.49,105.49 126.83,105.51 127.17,105.53 127.52,105.56 127.86,105.59 128.20,105.63 128.55,105.66 128.89,105.71 129.23,105.75 129.57,105.80 129.92,105.86 130.26,105.91 130.60,105.98 130.95,106.04 131.29,106.10 131.63,106.17 131.97,106.24 132.32,106.31 132.66,106.39 133.00,106.46 133.35,106.54 133.69,106.62 134.03,106.69 134.37,106.77 134.72,106.85 135.06,106.93 135.40,107.00 135.75,107.08 136.09,107.16 136.43,107.23 136.77,107.30 137.12,107.37 137.46,107.44 137.80,107.51 138.15,107.57 138.49,107.63 138.83,107.69 139.17,107.74 139.52,107.79 139.86,107.84 140.20,107.88 140.55,107.92 140.89,107.95 141.23,107.98 141.57,108.01 141.92,108.03 142.26,108.05 142.60,108.06 142.95,108.07 143.29,108.07 143.63,108.07 143.97,108.06 144.32,108.05 144.66,108.04 145.00,108.02 145.35,107.99 145.69,107.96 146.03,107.93 146.37,107.89 146.72,107.85 147.06,107.80 147.40,107.76 147.75,107.70 148.09,107.65 148.43,107.59 148.77,107.53 149.12,107.46 149.46,107.39 149.80,107.32 150.15,107.25 150.49,107.18 150.83,107.11 151.17,107.03 151.52,106.95 151.86,106.87 152.20,106.80 152.55,106.72 152.89,106.64 153.23,106.56 153.57,106.49 153.92,106.41 154.26,106.34 154.60,106.26 154.95,106.19 155.29,106.13 155.63,106.06 155.98,105.99 156.32,105.93 156.66,105.88 157.00,105.82 157.35,105.77 157.69,105.72 158.03,105.68 158.38,105.64 158.72,105.60 159.06,105.57 159.40,105.54 159.75,105.52 160.09,105.50 160.43,105.49 160.78,105.48 161.12,105.47 161.46,105.47 161.80,105.48 162.15,105.49 162.49,105.50 162.83,105.52 163.18,105.54 163.52,105.57 163.86,105.60 164.20,105.64 164.55,105.68 164.89,105.72 165.23,105.77 165.58,105.82 165.92,105.87 166.26,105.93 166.60,105.99 166.95,106.06 167.29,106.12 167.63,106.19 167.98,106.26 168.32,106.33 168.66,106.41 169.00,106.48 169.35,106.56 169.69,106.64 170.03,106.72 170.38,106.79 170.72,106.87 171.06,106.95 171.40,107.03 171.75,107.10 172.09,107.18 172.43,107.25 172.78,107.32 173.12,107.39 173.46,107.46 173.80,107.52 174.15,107.59 174.49,107.65 174.83,107.70 175.18,107.75 175.52,107.80 175.86,107.85 176.20,107.89 176.55,107.93 176.89,107.96 177.23,107.99 177.58,108.02 177.92,108.04 178.26,108.05 178.60,108.06 178.95,108.07 179.29,108.07 179.63,108.07 179.98,108.06 180.32,108.05 180.66,108.03 181.00,108.01 181.35,107.98 181.69,107.95 182.03,107.92 182.38,107.88 182.72,107.84 183.06,107.79 183.40,107.74 183.75,107.69 184.09,107.63 184.43,107.57 184.78,107.51 185.12,107.44 185.46,107.37 185.80,107.30 186.15,107.23 186.49,107.16 186.83,107.08 187.18,107.01 187.52,106.93 187.86,106.85 188.20,106.78 188.55,106.70 188.89,106.62 189.23,106.54 189.58,106.47 189.92,106.39 190.26,106.32 190.60,106.24 190.95,106.17 191.29,106.11 191.63,106.04 191.98,105.98 192.32,105.92 192.66,105.86 193.00,105.81 193.35,105.76 193.69,105.71 194.03,105.67 194.38,105.63 194.72,105.59 195.06,105.56 195.40,105.53 195.75,105.51 196.09,105.50 196.43,105.48 196.78,105.47 197.12,105.47 197.46,105.47 197.80,105.48 198.15,105.49 198.49,105.50 198.83,105.52 199.18,105.55 199.52,105.58 199.86,105.61 200.20,105.65 200.55,105.69 200.89,105.73 201.23,105.78 201.58,105.83 201.92,105.89 202.26,105.95 202.60,106.01 202.95,106.07 203.29,106.14 203.63,106.21 203.98,106.28 204.32,106.36 204.66,106.43 205.00,106.51 205.35,106.58 205.69,106.66 206.03,106.74 206.38,106.82 206.72,106.89 207.06,106.97 207.41,107.05 207.75,107.12 208.09,107.20 208.43,107.27 208.78,107.34 209.12,107.41 209.46,107.48 209.81,107.54 210.15,107.60 210.49,107.66 210.83,107.72 211.18,107.77 211.52,107.82 211.86,107.86 212.21,107.90 212.55,107.94 212.89,107.97 213.23,108.00 213.58,108.02 213.92,108.04 214.26,108.05 214.61,108.06 214.95,108.07 215.29,108.07 215.63,108.07 215.98,108.06 216.32,108.04 216.66,108.03 217.01,108.00 217.35,107.98 217.69,107.94 218.03,107.91 218.38,107.87 218.72,107.83 219.06,107.78 219.41,107.73 219.75,107.67 220.09,107.61 220.43,107.55 220.78,107.49 221.12,107.42 221.46,107.36 221.81,107.28 222.15,107.21 222.49,107.14 222.83,107.06 223.18,106.99 223.52,106.91 223.86,106.83 224.21,106.75 224.55,106.68 224.89,106.60 225.23,106.52 225.58,106.44 225.92,106.37 226.26,106.30 226.61,106.22 226.95,106.16 227.29,106.09 227.63,106.02 227.98,105.96 228.32,105.90 228.66,105.84 229.01,105.79 229.35,105.74 229.69,105.70 230.03,105.65 230.38,105.62 230.72,105.58 231.06,105.55 231.41,105.53 231.75,105.51 232.09,105.49 232.43,105.48 232.78,105.47 233.12,105.47 233.46,105.47 233.81,105.48 234.15,105.49 234.49,105.51 234.83,105.53 235.18,105.56 235.52,105.59 235.86,105.62 236.21,105.66 236.55,105.70 236.89,105.75 237.23,105.80 237.58,105.85 237.92,105.91 238.26,105.97 238.61,106.03 238.95,106.09 239.29,106.16 239.63,106.23 239.98,106.30 240.32,106.38 240.66,106.45 241.01,106.53 241.35,106.60 241.69,106.68 242.03,106.76 242.38,106.84 242.72,106.92 243.06,106.99 243.41,107.07 243.75,107.14 244.09,107.22 244.43,107.29 244.78,107.36 245.12,107.43 245.46,107.50 245.81,107.56 246.15,107.62 246.49,107.68 246.83,107.73 247.18,107.78 247.52,107.83 247.86,107.87 248.21,107.91 248.55,107.95 248.89,107.98 249.23,108.00 249.58,108.03 249.92,108.04 250.26,108.06 250.61,108.07 250.95,108.07 251.29,108.07 251.63,108.06 251.98,108.05 252.32,108.04 252.66,108.02 253.01,108.00 253.35,107.97 253.69,107.93 254.03,107.90 254.38,107.86 254.72,107.81 255.06,107.76 255.41,107.71 255.75,107.66 256.09,107.60 256.43,107.54 256.78,107.47 257.12,107.40 257.46,107.34 257.81,107.26 258.15,107.19 258.49,107.12 258.84,107.04 259.18,106.96 259.52,106.89 259.86,106.81 260.21,106.73 260.55,106.65 260.89,106.58 261.24,106.50 261.58,106.42 261.92,106.35 262.26,106.28 262.61,106.21 262.95,106.14 263.29,106.07 263.64,106.00 263.98,105.94 264.32,105.88 264.66,105.83 265.01,105.78 265.35,105.73 265.69,105.68 266.04,105.64 266.38,105.61 266.72,105.57 267.06,105.55 267.41,105.52 267.75,105.50 268.09,105.49 268.44,105.48 268.78,105.47 269.12,105.47 269.46,105.47 269.81,105.48 270.15,105.50 270.49,105.51 270.84,105.54 271.18,105.56 271.52,105.59 271.86,105.63 272.21,105.67 272.55,105.71 272.89,105.76 273.24,105.81 273.58,105.86 273.92,105.92 274.26,105.98 274.61,106.05 274.95,106.11 275.29,106.18 275.64,106.25 275.98,106.32 276.32,106.40 276.66,106.47 277.01,106.55 277.35,106.63 277.69,106.70 278.04,106.78 278.38,106.86 278.72,106.94 279.06,107.01 279.41,107.09 279.75,107.17 280.09,107.24 280.44,107.31 280.78,107.38 281.12,107.45 281.46,107.51 281.81,107.58 282.15,107.64 282.49,107.69 282.84,107.75 283.18,107.80 283.52,107.84 283.86,107.88 284.21,107.92 284.55,107.96 284.89,107.99 285.24,108.01 285.58,108.03 285.92,108.05 286.26,108.06 286.61,108.07 286.95,108.07 287.29,108.07 287.64,108.06 287.98,108.05 288.32,108.03 288.66,108.01 289.01,107.99 289.35,107.96 289.69,107.92 290.04,107.89 290.38,107.84 290.72,107.80 291.06,107.75 291.41,107.70 291.75,107.64 292.09,107.58 292.44,107.52 292.78,107.45 293.12,107.39 293.46,107.32 293.81,107.24 294.15,107.17 294.49,107.10 294.84,107.02 295.18,106.94 295.52,106.87 295.86,106.79 296.21,106.71 296.55,106.63 296.89,106.55 297.24,106.48 297.58,106.40 297.92,106.33 298.26,106.26 298.61,106.19 298.95,106.12 299.29,106.05 299.64,105.99 299.98,105.93 300.32,105.87 300.66,105.81 301.01,105.76 301.35,105.72 301.69,105.67 302.04,105.63 302.38,105.60 302.72,105.57 303.06,105.54 303.41,105.52 303.75,105.50 304.09,105.48 304.44,105.48 304.78,105.47 305.12,105.47 305.46,105.48 305.81,105.49 306.15,105.50 306.49,105.52 306.84,105.54 307.18,105.57 307.52,105.60 307.86,105.64 308.21,105.68 308.55,105.73 308.89,105.77 309.24,105.83 309.58,105.88 309.92,105.94 310.27,106.00 310.61,106.06 310.95,106.13 311.29,106.20 311.64,106.27 311.98,106.34 312.32,106.42 312.67,106.49 313.01,106.57 313.35,106.65 313.69,106.73 314.04,106.80 314.38,106.88 314.72,106.96 315.07,107.04 315.41,107.11 315.75,107.19 316.09,107.26 316.44,107.33 316.78,107.40 317.12,107.47 317.47,107.53 317.81,107.59 318.15,107.65 318.49,107.71 318.84,107.76 319.18,107.81 319.52,107.85 319.87,107.89 320.21,107.93 320.55,107.96 320.89,107.99 321.24,108.02 321.58,108.04 321.92,108.05 322.27,108.06 322.61,108.07 322.95,108.07 323.29,108.07 323.64,108.06 323.98,108.05 324.32,108.03 324.67,108.01 325.01,107.98 325.35,107.95 325.69,107.91 326.04,107.88 326.38,107.83 326.72,107.79 327.07,107.74 327.41,107.68 327.75,107.62 328.09,107.56 328.44,107.50 328.78,107.43 329.12,107.37 329.47,107.30 329.81,107.22 330.15,107.15 330.49,107.07 330.84,107.00 331.18,106.92 331.52,106.84 331.87,106.77 332.21,106.69 332.55,106.61 332.89,106.53 333.24,106.46 333.58,106.38 333.92,106.31 334.27,106.24 334.61,106.17 334.95,106.10 335.29,106.03 335.64,105.97 335.98,105.91 336.32,105.85 336.67,105.80 337.01,105.75 337.35,105.70 337.69,105.66 338.04,105.62 338.38,105.59 338.72,105.56 339.07,105.53 339.41,105.51 339.75,105.49 340.09,105.48 340.44,105.47 340.78,105.47 341.12,105.47 341.47,105.48 341.81,105.49 342.15,105.51 342.49,105.53 342.84,105.55 343.18,105.58 343.52,105.61 343.87,105.65 344.21,105.69 344.55,105.74 344.89,105.79 345.24,105.84 345.58,105.90 345.92,105.96 346.27,106.02 346.61,106.08 346.95,106.15 347.29,106.22 347.64,106.29 347.98,106.36 348.32,106.44 348.67,106.52 349.01,106.59 349.35,106.67 349.69,106.75 350.04,106.83 350.38,106.90 350.72,106.98 351.07,107.06 351.41,107.13 351.75,107.21 352.09,107.28 352.44,107.35 352.78,107.42 353.12,107.49 353.47,107.55 353.81,107.61 354.15,107.67 354.49,107.72 354.84,107.77 355.18,107.82 355.52,107.87 355.87,107.91 356.21,107.94 356.55,107.97 356.89,108.00 357.24,108.02 357.58,108.04 357.92,108.06 358.27,108.07 358.61,108.07 358.95,108.07 359.29,108.06 359.64,108.06 359.98,108.04 360.32,108.02 360.67,108.00 361.01,107.97 361.35,107.94 361.70,107.90 362.04,107.86 362.38,107.82 362.72,107.77 363.07,107.72 363.41,107.67 363.75,107.61 364.10,107.55 364.44,107.48 364.78,107.42 365.12,107.35 365.47,107.28 365.81,107.20 366.15,107.13 366.50,107.05 366.84,106.98 367.18,106.90 367.52,106.82 367.87,106.74 368.21,106.67 368.55,106.59 368.90,106.51 369.24,106.44 369.58,106.36 369.92,106.29 370.27,106.22 370.61,106.15 370.95,106.08 371.30,106.01 371.64,105.95 371.98,105.89 372.32,105.84 372.67,105.79 373.01,105.74 373.35,105.69 373.70,105.65 374.04,105.61 374.38,105.58 374.72,105.55 375.07,105.53 375.41,105.51 375.75,105.49 376.10,105.48 376.44,105.47 376.78,105.47 377.12,105.47 377.47,105.48 377.81,105.49 378.15,105.51 378.50,105.53 378.84,105.56 379.18,105.59 379.52,105.62 379.87,105.66 380.21,105.71 380.55,105.75 380.90,105.80 381.24,105.86 381.58,105.91 381.92,105.97 382.27,106.04 382.61,106.10 382.95,106.17 383.30,106.24 383.64,106.31 383.98,106.39 384.32,106.46 384.67,106.54 385.01,106.61 385.35,106.69 385.70,106.77 386.04,106.85 386.38,106.92 386.72,107.00 387.07,107.08 387.41,107.15 387.75,107.23 388.10,107.30 388.44,107.37 388.78,107.44 389.12,107.50 389.47,107.57 389.81,107.63 390.15,107.68 390.50,107.74 390.84,107.79 391.18,107.83 391.52,107.88 391.87,107.92 392.21,107.95 392.55,107.98 392.90,108.01 393.24,108.03 393.58,108.05 393.92,108.06 394.27,108.07 394.61,108.07 394.95,108.07 395.30,108.06 395.64,108.05 395.98,108.04 396.32,108.02 396.67,107.99 397.01,107.96 397.35,107.93 397.70,107.89 398.04,107.85 398.38,107.81 398.72,107.76 399.07,107.71 399.41,107.65 399.75,107.59 400.10,107.53 400.44,107.46 400.78,107.40 401.12,107.33 401.47,107.26 401.81,107.18 402.15,107.11 402.50,107.03 402.84,106.96 403.18,106.88 403.52,106.80 403.87,106.72 404.21,106.64 404.55,106.57 404.90,106.49 405.24,106.41 405.58,106.34 405.92,106.27 406.27,106.20 406.61,106.13 406.95,106.06 407.30,106.00 407.64,105.94 407.98,105.88 408.32,105.82 408.67,105.77 409.01,105.72 409.35,105.68 409.70,105.64 410.04,105.60 410.38,105.57 410.72,105.54 411.07,105.52 411.41,105.50 411.75,105.49 412.10,105.48 412.44,105.47 412.78,105.47 413.13,105.48 413.47,105.48 413.81,105.50 414.15,105.52 414.50,105.54 414.84,105.57 415.18,105.60 415.53,105.63 415.87,105.67 416.21,105.72 416.55,105.77 416.90,105.82 417.24,105.87 417.58,105.93 417.93,105.99 418.27,106.05 418.61,106.12 418.95,106.19 419.30,106.26 419.64,106.33 419.98,106.41 420.33,106.48 420.67,106.56 421.01,106.64 421.35,106.71 421.70,106.79 422.04,106.87 422.38,106.95 422.73,107.02 423.07,107.10 423.41,107.17 423.75,107.25 424.10,107.32 424.44,107.39 424.78,107.46 425.13,107.52 425.47,107.58 425.81,107.64 426.15,107.70 426.50,107.75 426.84,107.80 427.18,107.85 427.53,107.89 427.87,107.93 428.21,107.96 428.55,107.99 428.90,108.01 429.24,108.03 429.58,108.05 429.93,108.06 430.27,108.07 430.61,108.07 430.95,108.07 431.30,108.06 431.64,108.05 431.98,108.03 432.33,108.01 432.67,107.98 433.01,107.95 433.35,107.92 433.70,107.88 434.04,107.84 434.38,107.79 434.73,107.74 435.07,107.69 435.41,107.63 435.75,107.57 436.10,107.51 436.44,107.45 436.78,107.38 437.13,107.31 437.47,107.24 437.81,107.16 438.15,107.09 438.50,107.01 438.84,106.93 439.18,106.86 439.53,106.78 439.87,106.70 440.21,106.62 440.55,106.55 440.90,106.47 441.24,106.39 441.58,106.32 441.93,106.25 442.27,106.18 442.61,106.11 442.95,106.04 443.30,105.98 443.64,105.92 443.98,105.86 444.33,105.81 444.67,105.76 445.01,105.71 445.35,105.67 445.70,105.63 446.04,105.59 446.38,105.56 446.73,105.54 447.07,105.51 447.41,105.50 447.75,105.48 448.10,105.47 448.44,105.47 448.78,105.47 449.13,105.48 449.47,105.49 449.81,105.50 450.15,105.52 450.50,105.55 450.84,105.58 451.18,105.61 451.53,105.64 451.87,105.69 452.21,105.73 452.55,105.78 452.90,105.83 453.24,105.89 453.58,105.95 453.93,106.01 454.27,106.07 454.61,106.14 454.95,106.21 455.30,106.28 455.64,106.35 455.98,106.43 456.33,106.50 456.67,106.58 457.01,106.66 457.35,106.73 457.70,106.81 458.04,106.89 458.38,106.97 458.73,107.04 459.07,107.12 459.41,107.19 459.75,107.27 460.10,107.34 460.44,107.41 460.78,107.47 461.13,107.54 461.47,107.60 461.81,107.66 462.15,107.71 462.50,107.77 462.84,107.81 463.18,107.86 463.53,107.90 463.87,107.94 464.21,107.97 464.56,108.00 464.90,108.02 465.24,108.04 465.58,108.05 465.93,108.06 466.27,108.07 466.61,108.07 466.96,108.07 467.30,108.06 467.64,108.04 467.98,108.03 468.33,108.00 468.67,107.98 469.01,107.95 469.36,107.91 469.70,107.87 470.04,107.83 470.38,107.78 470.73,107.73 471.07,107.67 471.41,107.62 471.76,107.56 472.10,107.49 472.44,107.43 472.78,107.36 473.13,107.29 473.47,107.22 473.81,107.14 474.16,107.07 474.50,106.99 474.84,106.91 475.18,106.83 475.53,106.76 475.87,106.68 476.21,106.60 476.56,106.52 476.90,106.45 477.24,106.37 477.58,106.30 477.93,106.23 478.27,106.16 478.61,106.09 478.96,106.03 479.30,105.96 479.64,105.90 479.98,105.85 480.33,105.79 480.67,105.74 481.01,105.70 481.36,105.66 481.70,105.62 482.04,105.58 482.38,105.55 482.73,105.53 483.07,105.51 483.41,105.49 483.76,105.48 484.10,105.47 484.44,105.47 484.78,105.47 485.13,105.48 485.47,105.49 485.81,105.51 486.16,105.53 486.50,105.55 486.84,105.58 487.18,105.62 487.53,105.66 487.87,105.70 488.21,105.74 488.56,105.79 488.90,105.85 489.24,105.90 489.58,105.96 489.93,106.03 490.27,106.09 490.61,106.16 490.96,106.23 491.30,106.30 491.64,106.37 491.98,106.45 492.33,106.52 492.67,106.60 493.01,106.68 493.36,106.76 493.70,106.83 494.04,106.91 494.38,106.99 494.73,107.07 495.07,107.14 495.41,107.22 495.76,107.29 496.10,107.36 496.44,107.43 496.78,107.49 497.13,107.56 497.47,107.62 497.81,107.67 498.16,107.73 498.50,107.78 498.84,107.83 499.18,107.87 499.53,107.91 499.87,107.95 500.21,107.98 500.56,108.00 500.90,108.03 501.24,108.04 501.58,108.06 501.93,108.07 502.27,108.07 502.61,108.07 502.96,108.06 503.30,108.05 503.64,108.04 503.98,108.02 504.33,108.00 504.67,107.97 505.01,107.94 505.36,107.90 505.70,107.86 506.04,107.81 506.38,107.77 506.73,107.71 507.07,107.66 507.41,107.60 507.76,107.54 508.10,107.47 508.44,107.41 508.78,107.34 509.13,107.27 509.47,107.19 509.81,107.12 510.16,107.04 510.50,106.97 510.84,106.89 511.18,106.81 511.53,106.73 511.87,106.66 512.21,106.58 512.56,106.50 512.90,106.43 513.24,106.35 513.59,106.28 513.93,106.21 514.27,106.14 514.61,106.07 514.96,106.01 515.30,105.95 515.64,105.89 515.99,105.83 516.33,105.78 516.67,105.73 517.01,105.69 517.36,105.64 517.70,105.61 518.04,105.58 518.39,105.55 518.73,105.52 519.07,105.50 519.41,105.49 519.76,105.48 520.10,105.47 520.44,105.47 520.79,105.47 521.13,105.48 521.47,105.50 521.81,105.51 522.16,105.54 522.50,105.56 522.84,105.59 523.19,105.63 523.53,105.67 523.87,105.71 524.21,105.76 524.56,105.81 524.90,105.86 525.24,105.92 525.59,105.98 525.93,106.04 526.27,106.11 526.61,106.18 526.96,106.25 527.30,106.32 527.64,106.39 527.99,106.47 528.33,106.55 528.67,106.62 529.01,106.70 529.36,106.78 529.70,106.86 530.04,106.93 530.39,107.01 530.73,107.09 531.07,107.16 531.41,107.24 531.76,107.31 532.10,107.38 532.44,107.45 532.79,107.51 533.13,107.57 533.47,107.63 533.81,107.69 534.16,107.74 534.50,107.79 534.84,107.84 535.19,107.88 535.53,107.92 535.87,107.95 536.21,107.98 536.56,108.01 536.90,108.03 537.24,108.05 537.59,108.06 537.93,108.07 538.27,108.07 538.61,108.07 538.96,108.06 539.30,108.05" fill="none" stroke="#edb120" stroke-width="2.5" stroke-linejoin="round" stroke-dasharray="9.2 2 4.6 2"/></g><g clip-path="url(#c2)"><polyline points="25.00,205.10 25.34,204.92 25.69,204.72 26.03,204.52 26.37,204.31 26.71,204.09 27.06,203.87 27.40,203.64 27.74,203.41 28.09,203.17 28.43,202.94 28.77,202.70 29.11,202.46 29.46,202.22 29.80,201.98 30.14,201.74 30.49,201.51 30.83,201.28 31.17,201.05 31.51,200.83 31.86,200.61 32.20,200.41 32.54,200.21 32.89,200.01 33.23,199.83 33.57,199.66 33.91,199.49 34.26,199.34 34.60,199.20 34.94,199.07 35.29,198.95 35.63,198.85 35.97,198.76 36.31,198.68 36.66,198.61 37.00,198.56 37.34,198.53 37.69,198.51 38.03,198.50 38.37,198.51 38.71,198.53 39.06,198.56 39.40,198.61 39.74,198.68 40.09,198.76 40.43,198.85 40.77,198.95 41.11,199.07 41.46,199.20 41.80,199.34 42.14,199.49 42.49,199.66 42.83,199.83 43.17,200.01 43.51,200.21 43.86,200.41 44.20,200.61 44.54,200.83 44.89,201.05 45.23,201.28 45.57,201.51 45.91,201.74 46.26,201.98 46.60,202.22 46.94,202.46 47.29,202.70 47.63,202.94 47.97,203.17 48.31,203.41 48.66,203.64 49.00,203.87 49.34,204.09 49.69,204.31 50.03,204.52 50.37,204.72 50.71,204.92 51.06,205.10 51.40,205.28 51.74,205.45 52.09,205.61 52.43,205.75 52.77,205.89 53.12,206.01 53.46,206.12 53.80,206.21 54.14,206.29 54.49,206.36 54.83,206.42 55.17,206.46 55.52,206.49 55.86,206.50 56.20,206.50 56.54,206.48 56.89,206.45 57.23,206.40 57.57,206.35 57.92,206.27 58.26,206.19 58.60,206.09 58.94,205.97 59.29,205.85 59.63,205.71 59.97,205.56 60.32,205.40 60.66,205.23 61.00,205.05 61.34,204.86 61.69,204.67 62.03,204.46 62.37,204.25 62.72,204.03 63.06,203.81 63.40,203.58 63.74,203.34 64.09,203.11 64.43,202.87 64.77,202.63 65.12,202.39 65.46,202.15 65.80,201.91 66.14,201.68 66.49,201.44 66.83,201.21 67.17,200.99 67.52,200.77 67.86,200.56 68.20,200.35 68.54,200.15 68.89,199.96 69.23,199.78 69.57,199.61 69.92,199.45 70.26,199.30 70.60,199.16 70.94,199.04 71.29,198.92 71.63,198.82 71.97,198.73 72.32,198.66 72.66,198.60 73.00,198.55 73.34,198.52 73.69,198.50 74.03,198.50 74.37,198.51 74.72,198.54 75.06,198.58 75.40,198.63 75.74,198.70 76.09,198.78 76.43,198.88 76.77,198.98 77.12,199.10 77.46,199.24 77.80,199.38 78.14,199.54 78.49,199.70 78.83,199.88 79.17,200.07 79.52,200.26 79.86,200.46 80.20,200.67 80.54,200.89 80.89,201.11 81.23,201.34 81.57,201.57 81.92,201.81 82.26,202.05 82.60,202.28 82.94,202.52 83.29,202.76 83.63,203.00 83.97,203.24 84.32,203.47 84.66,203.71 85.00,203.93 85.34,204.15 85.69,204.37 86.03,204.58 86.37,204.78 86.72,204.97 87.06,205.16 87.40,205.33 87.74,205.49 88.09,205.65 88.43,205.79 88.77,205.92 89.12,206.04 89.46,206.14 89.80,206.24 90.14,206.32 90.49,206.38 90.83,206.43 91.17,206.47 91.52,206.49 91.86,206.50 92.20,206.49 92.54,206.47 92.89,206.44 93.23,206.39 93.57,206.33 93.92,206.25 94.26,206.16 94.60,206.06 94.94,205.94 95.29,205.81 95.63,205.67 95.97,205.52 96.32,205.36 96.66,205.18 97.00,205.00 97.34,204.81 97.69,204.61 98.03,204.40 98.37,204.19 98.72,203.97 99.06,203.74 99.40,203.51 99.74,203.28 100.09,203.04 100.43,202.80 100.77,202.56 101.12,202.32 101.46,202.08 101.80,201.85 102.14,201.61 102.49,201.38 102.83,201.15 103.17,200.93 103.52,200.71 103.86,200.50 104.20,200.29 104.55,200.10 104.89,199.91 105.23,199.73 105.57,199.56 105.92,199.41 106.26,199.26 106.60,199.12 106.95,199.00 107.29,198.89 107.63,198.79 107.97,198.71 108.32,198.64 108.66,198.58 109.00,198.54 109.35,198.51 109.69,198.50 110.03,198.50 110.37,198.52 110.72,198.55 111.06,198.59 111.40,198.65 111.75,198.72 112.09,198.81 112.43,198.90 112.77,199.02 113.12,199.14 113.46,199.28 113.80,199.42 114.15,199.58 114.49,199.75 114.83,199.93 115.17,200.12 115.52,200.32 115.86,200.52 116.20,200.73 116.55,200.95 116.89,201.18 117.23,201.41 117.57,201.64 117.92,201.87 118.26,202.11 118.60,202.35 118.95,202.59 119.29,202.83 119.63,203.07 119.97,203.31 120.32,203.54 120.66,203.77 121.00,203.99 121.35,204.21 121.69,204.43 122.03,204.63 122.37,204.83 122.72,205.02 123.06,205.21 123.40,205.38 123.75,205.54 124.09,205.69 124.43,205.83 124.77,205.96 125.12,206.07 125.46,206.17 125.80,206.26 126.15,206.34 126.49,206.40 126.83,206.44 127.17,206.48 127.52,206.50 127.86,206.50 128.20,206.49 128.55,206.47 128.89,206.43 129.23,206.37 129.57,206.31 129.92,206.23 130.26,206.13 130.60,206.03 130.95,205.91 131.29,205.77 131.63,205.63 131.97,205.48 132.32,205.31 132.66,205.13 133.00,204.95 133.35,204.75 133.69,204.55 134.03,204.34 134.37,204.13 134.72,203.90 135.06,203.68 135.40,203.45 135.75,203.21 136.09,202.97 136.43,202.73 136.77,202.50 137.12,202.26 137.46,202.02 137.80,201.78 138.15,201.54 138.49,201.31 138.83,201.09 139.17,200.86 139.52,200.65 139.86,200.44 140.20,200.24 140.55,200.04 140.89,199.86 141.23,199.68 141.57,199.52 141.92,199.36 142.26,199.22 142.60,199.09 142.95,198.97 143.29,198.86 143.63,198.77 143.97,198.69 144.32,198.62 144.66,198.57 145.00,198.53 145.35,198.51 145.69,198.50 146.03,198.51 146.37,198.52 146.72,198.56 147.06,198.61 147.40,198.67 147.75,198.74 148.09,198.83 148.43,198.93 148.77,199.05 149.12,199.18 149.46,199.32 149.80,199.47 150.15,199.63 150.49,199.80 150.83,199.98 151.17,200.17 151.52,200.37 151.86,200.58 152.20,200.79 152.55,201.02 152.89,201.24 153.23,201.47 153.57,201.70 153.92,201.94 154.26,202.18 154.60,202.42 154.95,202.66 155.29,202.90 155.63,203.14 155.98,203.37 156.32,203.60 156.66,203.83 157.00,204.06 157.35,204.27 157.69,204.49 158.03,204.69 158.38,204.89 158.72,205.08 159.06,205.25 159.40,205.42 159.75,205.58 160.09,205.73 160.43,205.87 160.78,205.99 161.12,206.10 161.46,206.20 161.80,206.28 162.15,206.35 162.49,206.41 162.83,206.45 163.18,206.48 163.52,206.50 163.86,206.50 164.20,206.48 164.55,206.46 164.89,206.41 165.23,206.36 165.58,206.29 165.92,206.20 166.26,206.10 166.60,205.99 166.95,205.87 167.29,205.73 167.63,205.59 167.98,205.43 168.32,205.26 168.66,205.08 169.00,204.90 169.35,204.70 169.69,204.49 170.03,204.28 170.38,204.06 170.72,203.84 171.06,203.61 171.40,203.38 171.75,203.14 172.09,202.91 172.43,202.67 172.78,202.43 173.12,202.19 173.46,201.95 173.80,201.71 174.15,201.48 174.49,201.25 174.83,201.02 175.18,200.80 175.52,200.59 175.86,200.38 176.20,200.18 176.55,199.99 176.89,199.81 177.23,199.64 177.58,199.47 177.92,199.32 178.26,199.18 178.60,199.05 178.95,198.94 179.29,198.84 179.63,198.75 179.98,198.67 180.32,198.61 180.66,198.56 181.00,198.53 181.35,198.51 181.69,198.50 182.03,198.51 182.38,198.53 182.72,198.57 183.06,198.62 183.40,198.69 183.75,198.77 184.09,198.86 184.43,198.97 184.78,199.08 185.12,199.22 185.46,199.36 185.80,199.51 186.15,199.68 186.49,199.85 186.83,200.04 187.18,200.23 187.52,200.43 187.86,200.64 188.20,200.86 188.55,201.08 188.89,201.30 189.23,201.54 189.58,201.77 189.92,202.01 190.26,202.25 190.60,202.49 190.95,202.73 191.29,202.96 191.63,203.20 191.98,203.44 192.32,203.67 192.66,203.90 193.00,204.12 193.35,204.33 193.69,204.54 194.03,204.75 194.38,204.94 194.72,205.13 195.06,205.30 195.40,205.47 195.75,205.62 196.09,205.77 196.43,205.90 196.78,206.02 197.12,206.13 197.46,206.22 197.80,206.30 198.15,206.37 198.49,206.42 198.83,206.46 199.18,206.49 199.52,206.50 199.86,206.50 200.20,206.48 200.55,206.45 200.89,206.40 201.23,206.34 201.58,206.26 201.92,206.18 202.26,206.07 202.60,205.96 202.95,205.83 203.29,205.69 203.63,205.54 203.98,205.38 204.32,205.21 204.66,205.03 205.00,204.84 205.35,204.64 205.69,204.44 206.03,204.22 206.38,204.00 206.72,203.78 207.06,203.55 207.41,203.31 207.75,203.08 208.09,202.84 208.43,202.60 208.78,202.36 209.12,202.12 209.46,201.88 209.81,201.65 210.15,201.41 210.49,201.19 210.83,200.96 211.18,200.74 211.52,200.53 211.86,200.33 212.21,200.13 212.55,199.94 212.89,199.76 213.23,199.59 213.58,199.43 213.92,199.28 214.26,199.15 214.61,199.02 214.95,198.91 215.29,198.81 215.63,198.72 215.98,198.65 216.32,198.59 216.66,198.55 217.01,198.52 217.35,198.50 217.69,198.50 218.03,198.51 218.38,198.54 218.72,198.58 219.06,198.64 219.41,198.71 219.75,198.79 220.09,198.89 220.43,199.00 220.78,199.12 221.12,199.25 221.46,199.40 221.81,199.56 222.15,199.72 222.49,199.90 222.83,200.09 223.18,200.29 223.52,200.49 223.86,200.70 224.21,200.92 224.55,201.14 224.89,201.37 225.23,201.60 225.58,201.84 225.92,202.07 226.26,202.31 226.61,202.55 226.95,202.79 227.29,203.03 227.63,203.27 227.98,203.50 228.32,203.73 228.66,203.96 229.01,204.18 229.35,204.39 229.69,204.60 230.03,204.80 230.38,204.99 230.72,205.18 231.06,205.35 231.41,205.51 231.75,205.67 232.09,205.81 232.43,205.94 232.78,206.05 233.12,206.16 233.46,206.25 233.81,206.32 234.15,206.39 234.49,206.44 234.83,206.47 235.18,206.49 235.52,206.50 235.86,206.49 236.21,206.47 236.55,206.43 236.89,206.38 237.23,206.32 237.58,206.24 237.92,206.15 238.26,206.04 238.61,205.93 238.95,205.80 239.29,205.65 239.63,205.50 239.98,205.34 240.32,205.16 240.66,204.98 241.01,204.79 241.35,204.59 241.69,204.38 242.03,204.16 242.38,203.94 242.72,203.71 243.06,203.48 243.41,203.25 243.75,203.01 244.09,202.77 244.43,202.53 244.78,202.29 245.12,202.05 245.46,201.82 245.81,201.58 246.15,201.35 246.49,201.12 246.83,200.90 247.18,200.68 247.52,200.47 247.86,200.27 248.21,200.07 248.55,199.89 248.89,199.71 249.23,199.54 249.58,199.39 249.92,199.24 250.26,199.11 250.61,198.99 250.95,198.88 251.29,198.78 251.63,198.70 251.98,198.63 252.32,198.58 252.66,198.54 253.01,198.51 253.35,198.50 253.69,198.50 254.03,198.52 254.38,198.55 254.72,198.60 255.06,198.66 255.41,198.73 255.75,198.82 256.09,198.92 256.43,199.03 256.78,199.16 257.12,199.29 257.46,199.44 257.81,199.60 258.15,199.77 258.49,199.95 258.84,200.14 259.18,200.34 259.52,200.55 259.86,200.76 260.21,200.98 260.55,201.20 260.89,201.43 261.24,201.67 261.58,201.90 261.92,202.14 262.26,202.38 262.61,202.62 262.95,202.86 263.29,203.10 263.64,203.33 263.98,203.57 264.32,203.80 264.66,204.02 265.01,204.24 265.35,204.45 265.69,204.66 266.04,204.86 266.38,205.05 266.72,205.23 267.06,205.40 267.41,205.56 267.75,205.71 268.09,205.84 268.44,205.97 268.78,206.08 269.12,206.18 269.46,206.27 269.81,206.34 270.15,206.40 270.49,206.45 270.84,206.48 271.18,206.50 271.52,206.50 271.86,206.49 272.21,206.46 272.55,206.42 272.89,206.37 273.24,206.30 273.58,206.22 273.92,206.12 274.26,206.01 274.61,205.89 274.95,205.76 275.29,205.61 275.64,205.46 275.98,205.29 276.32,205.11 276.66,204.93 277.01,204.73 277.35,204.53 277.69,204.32 278.04,204.10 278.38,203.88 278.72,203.65 279.06,203.42 279.41,203.18 279.75,202.95 280.09,202.71 280.44,202.47 280.78,202.23 281.12,201.99 281.46,201.75 281.81,201.52 282.15,201.29 282.49,201.06 282.84,200.84 283.18,200.62 283.52,200.41 283.86,200.21 284.21,200.02 284.55,199.84 284.89,199.66 285.24,199.50 285.58,199.35 285.92,199.20 286.26,199.07 286.61,198.96 286.95,198.85 287.29,198.76 287.64,198.68 287.98,198.62 288.32,198.57 288.66,198.53 289.01,198.51 289.35,198.50 289.69,198.51 290.04,198.53 290.38,198.56 290.72,198.61 291.06,198.68 291.41,198.75 291.75,198.84 292.09,198.95 292.44,199.06 292.78,199.19 293.12,199.33 293.46,199.49 293.81,199.65 294.15,199.82 294.49,200.01 294.84,200.20 295.18,200.40 295.52,200.61 295.86,200.82 296.21,201.04 296.55,201.27 296.89,201.50 297.24,201.73 297.58,201.97 297.92,202.21 298.26,202.45 298.61,202.69 298.95,202.93 299.29,203.16 299.64,203.40 299.98,203.63 300.32,203.86 300.66,204.08 301.01,204.30 301.35,204.51 301.69,204.72 302.04,204.91 302.38,205.10 302.72,205.28 303.06,205.44 303.41,205.60 303.75,205.75 304.09,205.88 304.44,206.00 304.78,206.11 305.12,206.21 305.46,206.29 305.81,206.36 306.15,206.42 306.49,206.46 306.84,206.49 307.18,206.50 307.52,206.50 307.86,206.48 308.21,206.45 308.55,206.41 308.89,206.35 309.24,206.28 309.58,206.19 309.92,206.09 310.27,205.98 310.61,205.85 310.95,205.72 311.29,205.57 311.64,205.41 311.98,205.24 312.32,205.06 312.67,204.87 313.01,204.67 313.35,204.47 313.69,204.26 314.04,204.04 314.38,203.81 314.72,203.58 315.07,203.35 315.41,203.12 315.75,202.88 316.09,202.64 316.44,202.40 316.78,202.16 317.12,201.92 317.47,201.68 317.81,201.45 318.15,201.22 318.49,201.00 318.84,200.78 319.18,200.56 319.52,200.36 319.87,200.16 320.21,199.97 320.55,199.79 320.89,199.62 321.24,199.45 321.58,199.30 321.92,199.17 322.27,199.04 322.61,198.93 322.95,198.82 323.29,198.74 323.64,198.66 323.98,198.60 324.32,198.55 324.67,198.52 325.01,198.50 325.35,198.50 325.69,198.51 326.04,198.54 326.38,198.58 326.72,198.63 327.07,198.70 327.41,198.78 327.75,198.87 328.09,198.98 328.44,199.10 328.78,199.23 329.12,199.38 329.47,199.53 329.81,199.70 330.15,199.87 330.49,200.06 330.84,200.25 331.18,200.46 331.52,200.67 331.87,200.88 332.21,201.10 332.55,201.33 332.89,201.56 333.24,201.80 333.58,202.04 333.92,202.28 334.27,202.51 334.61,202.75 334.95,202.99 335.29,203.23 335.64,203.47 335.98,203.70 336.32,203.92 336.67,204.14 337.01,204.36 337.35,204.57 337.69,204.77 338.04,204.96 338.38,205.15 338.72,205.32 339.07,205.49 339.41,205.64 339.75,205.79 340.09,205.92 340.44,206.03 340.78,206.14 341.12,206.23 341.47,206.31 341.81,206.38 342.15,206.43 342.49,206.47 342.84,206.49 343.18,206.50 343.52,206.49 343.87,206.47 344.21,206.44 344.55,206.39 344.89,206.33 345.24,206.25 345.58,206.16 345.92,206.06 346.27,205.95 346.61,205.82 346.95,205.68 347.29,205.53 347.64,205.36 347.98,205.19 348.32,205.01 348.67,204.82 349.01,204.62 349.35,204.41 349.69,204.20 350.04,203.98 350.38,203.75 350.72,203.52 351.07,203.29 351.41,203.05 351.75,202.81 352.09,202.57 352.44,202.33 352.78,202.09 353.12,201.85 353.47,201.62 353.81,201.39 354.15,201.16 354.49,200.93 354.84,200.72 355.18,200.51 355.52,200.30 355.87,200.10 356.21,199.92 356.55,199.74 356.89,199.57 357.24,199.41 357.58,199.26 357.92,199.13 358.27,199.01 358.61,198.90 358.95,198.80 359.29,198.71 359.64,198.64 359.98,198.59 360.32,198.54 360.67,198.52 361.01,198.50 361.35,198.50 361.70,198.52 362.04,198.55 362.38,198.59 362.72,198.65 363.07,198.72 363.41,198.80 363.75,198.90 364.10,199.01 364.44,199.14 364.78,199.27 365.12,199.42 365.47,199.58 365.81,199.75 366.15,199.92 366.50,200.11 366.84,200.31 367.18,200.51 367.52,200.73 367.87,200.94 368.21,201.17 368.55,201.40 368.90,201.63 369.24,201.86 369.58,202.10 369.92,202.34 370.27,202.58 370.61,202.82 370.95,203.06 371.30,203.30 371.64,203.53 371.98,203.76 372.32,203.99 372.67,204.21 373.01,204.42 373.35,204.63 373.70,204.83 374.04,205.02 374.38,205.20 374.72,205.37 375.07,205.53 375.41,205.68 375.75,205.82 376.10,205.95 376.44,206.07 376.78,206.17 377.12,206.26 377.47,206.33 377.81,206.39 378.15,206.44 378.50,206.48 378.84,206.49 379.18,206.50 379.52,206.49 379.87,206.47 380.21,206.43 380.55,206.38 380.90,206.31 381.24,206.23 381.58,206.14 381.92,206.03 382.27,205.91 382.61,205.78 382.95,205.64 383.30,205.48 383.64,205.32 383.98,205.14 384.32,204.96 384.67,204.76 385.01,204.56 385.35,204.35 385.70,204.13 386.04,203.91 386.38,203.69 386.72,203.45 387.07,203.22 387.41,202.98 387.75,202.74 388.10,202.50 388.44,202.26 388.78,202.03 389.12,201.79 389.47,201.55 389.81,201.32 390.15,201.09 390.50,200.87 390.84,200.66 391.18,200.45 391.52,200.24 391.87,200.05 392.21,199.87 392.55,199.69 392.90,199.52 393.24,199.37 393.58,199.23 393.92,199.09 394.27,198.97 394.61,198.87 394.95,198.77 395.30,198.69 395.64,198.63 395.98,198.57 396.32,198.53 396.67,198.51 397.01,198.50 397.35,198.50 397.70,198.52 398.04,198.56 398.38,198.60 398.72,198.66 399.07,198.74 399.41,198.83 399.75,198.93 400.10,199.05 400.44,199.17 400.78,199.31 401.12,199.46 401.47,199.62 401.81,199.80 402.15,199.98 402.50,200.17 402.84,200.37 403.18,200.57 403.52,200.79 403.87,201.01 404.21,201.23 404.55,201.46 404.90,201.69 405.24,201.93 405.58,202.17 405.92,202.41 406.27,202.65 406.61,202.89 406.95,203.13 407.30,203.36 407.64,203.60 407.98,203.82 408.32,204.05 408.67,204.27 409.01,204.48 409.35,204.68 409.70,204.88 410.04,205.07 410.38,205.25 410.72,205.42 411.07,205.58 411.41,205.72 411.75,205.86 412.10,205.98 412.44,206.10 412.78,206.19 413.13,206.28 413.47,206.35 413.81,206.41 414.15,206.45 414.50,206.48 414.84,206.50 415.18,206.50 415.53,206.49 415.87,206.46 416.21,206.41 416.55,206.36 416.90,206.29 417.24,206.20 417.58,206.11 417.93,206.00 418.27,205.88 418.61,205.74 418.95,205.59 419.30,205.44 419.64,205.27 419.98,205.09 420.33,204.90 420.67,204.71 421.01,204.50 421.35,204.29 421.70,204.07 422.04,203.85 422.38,203.62 422.73,203.39 423.07,203.15 423.41,202.92 423.75,202.68 424.10,202.44 424.44,202.20 424.78,201.96 425.13,201.72 425.47,201.49 425.81,201.26 426.15,201.03 426.50,200.81 426.84,200.60 427.18,200.39 427.53,200.19 427.87,200.00 428.21,199.82 428.55,199.64 428.90,199.48 429.24,199.33 429.58,199.19 429.93,199.06 430.27,198.94 430.61,198.84 430.95,198.75 431.30,198.67 431.64,198.61 431.98,198.56 432.33,198.53 432.67,198.51 433.01,198.50 433.35,198.51 433.70,198.53 434.04,198.57 434.38,198.62 434.73,198.68 435.07,198.76 435.41,198.86 435.75,198.96 436.10,199.08 436.44,199.21 436.78,199.35 437.13,199.51 437.47,199.67 437.81,199.84 438.15,200.03 438.50,200.22 438.84,200.42 439.18,200.63 439.53,200.85 439.87,201.07 440.21,201.30 440.55,201.53 440.90,201.76 441.24,202.00 441.58,202.24 441.93,202.48 442.27,202.72 442.61,202.96 442.95,203.19 443.30,203.43 443.64,203.66 443.98,203.89 444.33,204.11 444.67,204.33 445.01,204.54 445.35,204.74 445.70,204.93 446.04,205.12 446.38,205.30 446.73,205.46 447.07,205.62 447.41,205.76 447.75,205.90 448.10,206.02 448.44,206.12 448.78,206.22 449.13,206.30 449.47,206.37 449.81,206.42 450.15,206.46 450.50,206.49 450.84,206.50 451.18,206.50 451.53,206.48 451.87,206.45 452.21,206.40 452.55,206.34 452.90,206.27 453.24,206.18 453.58,206.08 453.93,205.96 454.27,205.84 454.61,205.70 454.95,205.55 455.30,205.39 455.64,205.22 455.98,205.04 456.33,204.85 456.67,204.65 457.01,204.44 457.35,204.23 457.70,204.01 458.04,203.79 458.38,203.56 458.73,203.32 459.07,203.09 459.41,202.85 459.75,202.61 460.10,202.37 460.44,202.13 460.78,201.89 461.13,201.66 461.47,201.42 461.81,201.19 462.15,200.97 462.50,200.75 462.84,200.54 463.18,200.33 463.53,200.14 463.87,199.95 464.21,199.77 464.56,199.60 464.90,199.44 465.24,199.29 465.58,199.15 465.93,199.03 466.27,198.91 466.61,198.81 466.96,198.73 467.30,198.65 467.64,198.59 467.98,198.55 468.33,198.52 468.67,198.50 469.01,198.50 469.36,198.51 469.70,198.54 470.04,198.58 470.38,198.64 470.73,198.71 471.07,198.79 471.41,198.88 471.76,198.99 472.10,199.11 472.44,199.25 472.78,199.39 473.13,199.55 473.47,199.72 473.81,199.90 474.16,200.08 474.50,200.28 474.84,200.48 475.18,200.69 475.53,200.91 475.87,201.13 476.21,201.36 476.56,201.59 476.90,201.83 477.24,202.06 477.58,202.30 477.93,202.54 478.27,202.78 478.61,203.02 478.96,203.26 479.30,203.49 479.64,203.72 479.98,203.95 480.33,204.17 480.67,204.39 481.01,204.59 481.36,204.79 481.70,204.99 482.04,205.17 482.38,205.34 482.73,205.51 483.07,205.66 483.41,205.80 483.76,205.93 484.10,206.05 484.44,206.15 484.78,206.24 485.13,206.32 485.47,206.39 485.81,206.44 486.16,206.47 486.50,206.49 486.84,206.50 487.18,206.49 487.53,206.47 487.87,206.44 488.21,206.39 488.56,206.32 488.90,206.24 489.24,206.15 489.58,206.05 489.93,205.93 490.27,205.80 490.61,205.66 490.96,205.51 491.30,205.34 491.64,205.17 491.98,204.99 492.33,204.79 492.67,204.59 493.01,204.38 493.36,204.17 493.70,203.95 494.04,203.72 494.38,203.49 494.73,203.26 495.07,203.02 495.41,202.78 495.76,202.54 496.10,202.30 496.44,202.06 496.78,201.83 497.13,201.59 497.47,201.36 497.81,201.13 498.16,200.91 498.50,200.69 498.84,200.48 499.18,200.28 499.53,200.08 499.87,199.89 500.21,199.72 500.56,199.55 500.90,199.39 501.24,199.25 501.58,199.11 501.93,198.99 502.27,198.88 502.61,198.79 502.96,198.70 503.30,198.64 503.64,198.58 503.98,198.54 504.33,198.51 504.67,198.50 505.01,198.50 505.36,198.52 505.70,198.55 506.04,198.60 506.38,198.65 506.73,198.73 507.07,198.81 507.41,198.91 507.76,199.03 508.10,199.15 508.44,199.29 508.78,199.44 509.13,199.60 509.47,199.77 509.81,199.95 510.16,200.14 510.50,200.33 510.84,200.54 511.18,200.75 511.53,200.97 511.87,201.20 512.21,201.42 512.56,201.66 512.90,201.89 513.24,202.13 513.59,202.37 513.93,202.61 514.27,202.85 514.61,203.09 514.96,203.33 515.30,203.56 515.64,203.79 515.99,204.01 516.33,204.23 516.67,204.45 517.01,204.65 517.36,204.85 517.70,205.04 518.04,205.22 518.39,205.39 518.73,205.55 519.07,205.70 519.41,205.84 519.76,205.97 520.10,206.08 520.44,206.18 520.79,206.27 521.13,206.34 521.47,206.40 521.81,206.45 522.16,206.48 522.50,206.50 522.84,206.50 523.19,206.49 523.53,206.46 523.87,206.42 524.21,206.37 524.56,206.30 524.90,206.22 525.24,206.12 525.59,206.02 525.93,205.90 526.27,205.76 526.61,205.62 526.96,205.46 527.30,205.30 527.64,205.12 527.99,204.93 528.33,204.74 528.67,204.54 529.01,204.33 529.36,204.11 529.70,203.89 530.04,203.66 530.39,203.43 530.73,203.19 531.07,202.95 531.41,202.72 531.76,202.48 532.10,202.24 532.44,202.00 532.79,201.76 533.13,201.53 533.47,201.29 533.81,201.07 534.16,200.85 534.50,200.63 534.84,200.42 535.19,200.22 535.53,200.03 535.87,199.84 536.21,199.67 536.56,199.50 536.90,199.35 537.24,199.21 537.59,199.08 537.93,198.96 538.27,198.86 538.61,198.76 538.96,198.68 539.30,198.62" fill="none" stroke="#1b98f5" stroke-width="2.7" stroke-linejoin="round" stroke-dasharray="9.2 2 4.6 2"/><polyline points="24.90,155.70 25.22,161.59 25.54,167.46 25.86,173.28 26.18,179.03 26.50,184.69 26.82,190.23 27.14,195.64 27.46,200.89 27.78,205.96 28.10,210.83 28.42,215.49 28.74,219.91 29.06,224.08 29.38,227.97 29.70,231.59 30.02,234.90 30.34,237.90 30.66,240.57 30.98,242.91 31.30,244.91 31.62,246.55 31.94,247.84 32.26,248.76 32.58,249.31 32.90,249.50 33.18,249.32 33.45,248.78 33.73,247.90 34.00,246.68 34.28,245.15 34.56,243.32 34.83,241.23 35.11,238.92 35.38,236.41 35.66,233.75 35.94,230.97 36.21,228.13 36.49,225.27 36.76,222.43 37.04,219.65 37.32,216.99 37.59,214.48 37.87,212.17 38.14,210.08 38.42,208.25 38.70,206.72 38.97,205.50 39.25,204.62 39.52,204.08 39.80,203.90 40.03,203.98 40.26,204.22 40.48,204.62 40.71,205.17 40.94,205.86 41.17,206.68 41.40,207.62 41.62,208.66 41.85,209.79 42.08,210.98 42.31,212.23 42.54,213.51 42.76,214.79 42.99,216.07 43.22,217.32 43.45,218.51 43.68,219.64 43.90,220.68 44.13,221.62 44.36,222.44 44.59,223.13 44.82,223.68 45.04,224.08 45.27,224.32 45.50,224.40 45.72,224.35 45.93,224.22 46.15,223.99 46.36,223.68 46.58,223.29 46.80,222.83 47.01,222.30 47.23,221.71 47.44,221.07 47.66,220.39 47.88,219.69 48.09,218.96 48.31,218.24 48.52,217.51 48.74,216.81 48.96,216.13 49.17,215.49 49.39,214.90 49.60,214.37 49.82,213.91 50.04,213.52 50.25,213.21 50.47,212.98 50.68,212.85 50.90,212.80 51.05,212.82 51.20,212.89 51.34,213.01 51.49,213.16 51.64,213.36 51.79,213.60 51.94,213.87 52.08,214.17 52.23,214.49 52.38,214.84 52.53,215.20 52.68,215.56 52.82,215.94 52.97,216.30 53.12,216.66 53.27,217.01 53.42,217.33 53.56,217.63 53.71,217.90 53.86,218.14 54.01,218.34 54.16,218.49 54.30,218.61 54.45,218.68 54.60,218.70 54.75,218.68 54.90,218.63 55.04,218.55 55.19,218.43 55.34,218.28 55.49,218.10 55.64,217.90 55.78,217.68 55.93,217.44 56.08,217.18 56.23,216.91 56.38,216.64 56.52,216.36 56.67,216.09 56.82,215.82 56.97,215.56 57.12,215.32 57.26,215.10 57.41,214.90 57.56,214.72 57.71,214.57 57.86,214.45 58.00,214.37 58.15,214.32 58.30,214.30 58.44,214.31 58.57,214.35 58.71,214.41 58.84,214.49 58.98,214.59 59.12,214.71 59.25,214.84 59.39,215.00 59.52,215.16 59.66,215.34 59.80,215.52 59.93,215.71 60.07,215.89 60.20,216.08 60.34,216.26 60.48,216.44 60.61,216.60 60.75,216.76 60.88,216.89 61.02,217.01 61.16,217.11 61.29,217.19 61.43,217.25 61.56,217.29 61.70,217.30 61.83,217.29 61.96,217.26 62.10,217.21 62.23,217.13 62.36,217.04 62.49,216.93 62.62,216.81 62.76,216.67 62.89,216.52 63.02,216.37 63.15,216.20 63.28,216.03 63.42,215.87 63.55,215.70 63.68,215.53 63.81,215.38 63.94,215.23 64.08,215.09 64.21,214.97 64.34,214.86 64.47,214.77 64.60,214.69 64.74,214.64 64.87,214.61 65.00,214.60 65.16,214.61 65.31,214.64 65.47,214.69 65.62,214.76 65.78,214.85 65.94,214.95 66.09,215.07 66.25,215.20 66.40,215.35 66.56,215.50 66.72,215.66 66.87,215.82 67.03,215.98 67.18,216.14 67.34,216.30 67.50,216.45 67.65,216.60 67.81,216.73 67.96,216.85 68.12,216.95 68.28,217.04 68.43,217.11 68.59,217.16 68.74,217.19 68.90,217.20 69.06,217.19 69.21,217.16 69.37,217.11 69.52,217.05 69.68,216.96 69.84,216.86 69.99,216.75 70.15,216.62 70.30,216.48 70.46,216.34 70.62,216.18 70.77,216.03 70.93,215.87 71.08,215.72 71.24,215.56 71.40,215.42 71.55,215.28 71.71,215.15 71.86,215.04 72.02,214.94 72.18,214.85 72.33,214.79 72.49,214.74 72.64,214.71 72.80,214.70 72.96,214.71 73.11,214.74 73.27,214.78 73.42,214.84 73.58,214.92 73.74,215.01 73.89,215.12 74.05,215.23 74.20,215.36 74.36,215.49 74.52,215.63 74.67,215.78 74.83,215.92 74.98,216.07 75.14,216.21 75.30,216.34 75.45,216.47 75.61,216.58 75.76,216.69 75.92,216.78 76.08,216.86 76.23,216.92 76.39,216.96 76.54,216.99 76.70,217.00 76.85,216.99 77.00,216.97 77.14,216.93 77.29,216.87 77.44,216.80 77.59,216.72 77.74,216.62 77.88,216.51 78.03,216.40 78.18,216.27 78.33,216.15 78.48,216.02 78.62,215.88 78.77,215.75 78.92,215.63 79.07,215.50 79.22,215.39 79.36,215.28 79.51,215.18 79.66,215.10 79.81,215.03 79.96,214.97 80.10,214.93 80.25,214.91 80.40,214.90 80.58,214.91 80.77,214.94 80.95,214.98 81.14,215.04 81.32,215.12 81.50,215.21 81.69,215.32 81.87,215.43 82.06,215.56 82.24,215.69 82.42,215.83 82.61,215.98 82.79,216.12 82.98,216.27 83.16,216.41 83.34,216.54 83.53,216.67 83.71,216.78 83.90,216.89 84.08,216.98 84.26,217.06 84.45,217.12 84.63,217.16 84.82,217.19 85.00,217.20 85.20,217.20 85.40,217.18 85.60,217.16 85.80,217.13 86.00,217.09 86.20,217.05 86.40,217.00 86.60,216.94 86.80,216.88 87.00,216.82 87.20,216.75 87.40,216.68 87.60,216.62 87.80,216.55 88.00,216.48 88.20,216.42 88.40,216.36 88.60,216.30 88.80,216.25 89.00,216.21 89.20,216.17 89.40,216.14 89.60,216.12 89.80,216.10 90.00,216.10 90.50,216.22 91.00,216.38 91.50,216.57 92.00,216.80 92.50,217.04 93.00,217.29 93.50,217.55 94.00,217.80 94.50,218.04 95.00,218.26 95.50,218.46 96.00,218.61 96.50,218.73 97.00,218.79 97.50,218.80 98.00,218.75 98.50,218.65 99.00,218.52 99.50,218.36 100.00,218.18 100.50,218.00 101.00,217.82 101.50,217.65 102.00,217.50 102.50,217.37 103.00,217.28 103.50,217.22 104.00,217.20 104.50,217.23 105.00,217.30 105.50,217.40 106.00,217.51 106.50,217.64 107.00,217.76 107.50,217.88 108.00,217.98 108.50,218.05 109.00,218.10 109.50,218.11 110.00,218.09 110.50,218.04 111.00,217.94 111.50,217.80 112.00,217.61 112.50,217.39 113.00,217.14 113.50,216.87 114.00,216.59 114.50,216.31 115.00,216.05 115.50,215.81 116.00,215.59 116.50,215.40 117.00,215.25 117.50,215.13 118.00,215.05 118.50,215.00 119.00,215.00 119.50,215.03 120.00,215.10 120.50,215.19 121.00,215.29 121.50,215.39 122.00,215.47 122.50,215.52 123.00,215.53 123.50,215.50 124.00,215.43 124.50,215.32 125.00,215.16 125.50,214.96 126.00,214.70 126.50,214.42 127.00,214.11 127.50,213.78 128.00,213.46 128.50,213.15 129.00,212.86 129.50,212.60 130.00,212.38 130.50,212.20 131.00,212.03 131.50,211.89 132.00,211.76 132.50,211.64 133.00,211.52 133.50,211.40 134.00,211.27 134.50,211.15 135.00,211.04 135.50,210.94 136.00,210.87 136.50,210.82 137.00,210.80 137.50,210.82 138.00,210.86 138.50,210.94 139.00,211.04 139.50,211.16 140.00,211.29 140.50,211.44 141.00,211.59 141.50,211.75 142.00,211.91 142.50,212.07 143.00,212.23 143.50,212.39 144.00,212.55 144.50,212.70 145.00,212.85 145.50,212.99 146.00,213.12 146.50,213.25 147.00,213.38 147.50,213.51 148.00,213.63 148.50,213.75 149.00,213.87 149.50,213.98 150.00,214.10 150.50,214.22 151.00,214.33 151.50,214.44 152.00,214.56 152.50,214.67 153.00,214.78 153.50,214.89 154.00,215.00 154.50,215.12 155.00,215.24 155.50,215.37 156.00,215.50 156.50,215.64 157.00,215.78 157.50,215.91 158.00,216.04 158.50,216.14 159.00,216.23 159.50,216.28 160.00,216.30 160.50,216.29 161.00,216.25 161.50,216.19 162.00,216.12 162.50,216.04 163.00,215.97 163.50,215.91 164.00,215.87 164.50,215.86 165.00,215.90 165.50,216.01 166.00,216.20 166.50,216.48 167.00,216.86 167.50,217.28 168.00,217.73 168.50,218.16 169.00,218.55 169.50,218.87 170.00,219.14 170.50,219.36 171.00,219.55 171.50,219.71 172.00,219.85 172.50,219.97 173.00,220.10 173.50,220.22 174.00,220.32 174.50,220.39 175.00,220.43 175.50,220.43 176.00,220.37 176.50,220.26 177.00,220.09 177.50,219.89 178.00,219.65 178.50,219.38 179.00,219.10 179.50,218.80 180.00,218.50 180.50,218.19 181.00,217.88 181.50,217.57 182.00,217.27 182.50,216.97 183.00,216.69 183.50,216.43 184.00,216.20 184.50,216.02 185.00,215.90 185.50,215.85 186.00,215.90 186.50,216.05 187.00,216.27 187.50,216.55 188.00,216.87 188.50,217.20 189.00,217.52 189.50,217.81 190.00,218.06 190.50,218.25 191.00,218.38 191.50,218.43 192.00,218.41 192.50,218.32 193.00,218.17 193.50,217.98 194.00,217.75 194.50,217.49 195.00,217.22 195.50,216.92 196.00,216.62 196.50,216.30 197.00,215.99 197.50,215.67 198.00,215.36 198.50,215.06 199.00,214.78 199.50,214.53 200.00,214.31 200.50,214.14 201.00,214.03 201.50,213.99 202.00,214.01 202.50,214.09 203.00,214.20 203.50,214.34 204.00,214.49 204.50,214.63 205.00,214.75 205.50,214.86 206.00,214.94 206.50,215.00 207.00,215.04 207.50,215.05 208.00,215.03 208.50,214.98 209.00,214.90 209.50,214.79 210.00,214.68 210.50,214.55 211.00,214.43 211.50,214.32 212.00,214.22 212.50,214.14 213.00,214.09 213.50,214.06 214.00,214.05 214.50,214.06 215.00,214.10 215.50,214.15 216.00,214.21 216.50,214.30 217.00,214.39 217.50,214.50 218.00,214.61 218.50,214.73 219.00,214.84 219.50,214.96 220.00,215.06 220.50,215.17 221.00,215.27 221.50,215.38 222.00,215.49 222.50,215.61 223.00,215.75 223.50,215.90 224.00,216.07 224.50,216.24 225.00,216.38 225.50,216.48 226.00,216.51 226.50,216.44 227.00,216.29 227.50,216.09 228.00,215.83 228.50,215.56 229.00,215.28 229.50,215.01 230.00,214.80 230.50,214.65 231.00,214.59 231.50,214.65 232.00,214.82 232.50,215.07 233.00,215.37 233.50,215.70 234.00,216.04 234.50,216.38 235.00,216.72 235.50,217.05 236.00,217.36 236.50,217.66 237.00,217.92 237.50,218.14 238.00,218.31 238.50,218.42 239.00,218.45 239.50,218.40 240.00,218.26 240.50,218.05 241.00,217.78 241.50,217.49 242.00,217.19 242.50,216.90 243.00,216.66 243.50,216.45 244.00,216.28 244.50,216.15 245.00,216.05 245.50,215.98 246.00,215.93 246.50,215.90 247.00,215.88 247.50,215.88 248.00,215.88 248.50,215.89 249.00,215.90 249.50,215.91 250.00,215.92 250.50,215.91 251.00,215.90 251.50,215.87 252.00,215.83 252.50,215.79 253.00,215.73 253.50,215.68 254.00,215.62 254.50,215.57 255.00,215.53 255.50,215.49 256.00,215.47 256.50,215.45 257.00,215.42 257.50,215.38 258.00,215.32 258.50,215.23 259.00,215.10 259.50,214.92 260.00,214.71 260.50,214.45 261.00,214.18 261.50,213.89 262.00,213.61 262.50,213.35 263.00,213.11 263.50,212.90 264.00,212.73 264.50,212.60 265.00,212.52 265.50,212.50 266.00,212.53 266.50,212.62 267.00,212.75 267.50,212.91 268.00,213.09 268.50,213.29 269.00,213.47 269.50,213.65 270.00,213.82 270.50,213.96 271.00,214.07 271.50,214.16 272.00,214.20 272.50,214.20 273.00,214.17 273.50,214.11 274.00,214.03 274.50,213.94 275.00,213.84 275.50,213.75 276.00,213.67 276.50,213.61 277.00,213.56 277.50,213.54 278.00,213.53 278.50,213.56 279.00,213.60 279.50,213.68 280.00,213.79 280.50,213.92 281.00,214.07 281.50,214.25 282.00,214.43 282.50,214.63 283.00,214.84 283.50,215.04 284.00,215.25 284.50,215.45 285.00,215.65 285.50,215.84 286.00,216.03 286.50,216.22 287.00,216.40 287.50,216.57 288.00,216.73 288.50,216.89 289.00,217.04 289.50,217.19 290.00,217.32 290.50,217.45 291.00,217.58 291.50,217.69 292.00,217.80 292.50,217.91 293.00,218.02 293.50,218.13 294.00,218.25 294.50,218.37 295.00,218.50 295.50,218.64 296.00,218.79 296.50,218.95 297.00,219.12 297.50,219.28 298.00,219.44 298.50,219.61 299.00,219.76 299.50,219.91 300.00,220.04 300.50,220.16 301.00,220.26 301.50,220.34 302.00,220.38 302.50,220.40 303.00,220.38 303.50,220.33 304.00,220.26 304.50,220.16 305.00,220.05 305.50,219.93 306.00,219.82 306.50,219.70 307.00,219.59 307.50,219.50 308.00,219.41 308.50,219.33 309.00,219.25 309.50,219.19 310.00,219.13 310.50,219.08 311.00,219.04 311.50,219.00 312.00,218.96 312.50,218.92 313.00,218.89 313.50,218.85 314.00,218.81 314.50,218.76 315.00,218.71 315.50,218.65 316.00,218.57 316.50,218.48 317.00,218.36 317.50,218.23 318.00,218.07 318.50,217.87 319.00,217.66 319.50,217.43 320.00,217.18 320.50,216.93 321.00,216.67 321.50,216.40 322.00,216.15 322.50,215.90 323.00,215.65 323.50,215.42 324.00,215.20 324.50,214.98 325.00,214.79 325.50,214.60 326.00,214.43 326.50,214.27 327.00,214.12 327.50,213.97 328.00,213.83 328.50,213.68 329.00,213.53 329.50,213.37 330.00,213.20 330.50,213.02 331.00,212.84 331.50,212.66 332.00,212.48 332.50,212.32 333.00,212.16 333.50,212.02 334.00,211.89 334.50,211.77 335.00,211.66 335.50,211.55 336.00,211.44 336.50,211.33 337.00,211.20 337.50,211.06 338.00,210.92 338.50,210.78 339.00,210.65 339.50,210.53 340.00,210.44 340.50,210.39 341.00,210.38 341.50,210.41 342.00,210.50 342.50,210.62 343.00,210.78 343.50,210.95 344.00,211.12 344.50,211.29 345.00,211.43 345.50,211.54 346.00,211.61 346.50,211.65 347.00,211.67 347.50,211.68 348.00,211.69 348.50,211.70 349.00,211.73 349.50,211.77 350.00,211.82 350.50,211.87 351.00,211.93 351.50,211.99 352.00,212.06 352.50,212.13 353.00,212.19 353.50,212.26 354.00,212.33 354.50,212.40 355.00,212.48 355.50,212.58 356.00,212.68 356.50,212.79 357.00,212.93 357.50,213.08 358.00,213.25 358.50,213.46 359.00,213.69 359.50,213.96 360.00,214.26 360.50,214.60 361.00,214.96 361.50,215.32 362.00,215.66 362.50,215.97 363.00,216.22 363.50,216.40 364.00,216.50 364.50,216.55 365.00,216.53 365.50,216.48 366.00,216.39 366.50,216.28 367.00,216.15 367.50,216.03 368.00,215.92 368.50,215.83 369.00,215.78 369.50,215.78 370.00,215.85 370.50,216.00 371.00,216.21 371.50,216.49 372.00,216.80 372.50,217.15 373.00,217.51 373.50,217.87 374.00,218.22 374.50,218.55 375.00,218.85 375.50,219.12 376.00,219.35 376.50,219.53 377.00,219.66 377.50,219.74 378.00,219.75 378.50,219.72 379.00,219.65 379.50,219.54 380.00,219.41 380.50,219.26 381.00,219.10 381.50,218.94 382.00,218.77 382.50,218.61 383.00,218.45 383.50,218.29 384.00,218.15 384.50,218.01 385.00,217.89 385.50,217.78 386.00,217.68 386.50,217.60 387.00,217.53 387.50,217.47 388.00,217.41 388.50,217.36 389.00,217.30 389.50,217.25 390.00,217.19 390.50,217.12 391.00,217.05 391.50,216.97 392.00,216.88 392.50,216.78 393.00,216.67 393.50,216.55 394.00,216.42 394.50,216.27 395.00,216.12 395.50,215.97 396.00,215.82 396.50,215.68 397.00,215.55 397.50,215.43 398.00,215.33 398.50,215.26 399.00,215.21 399.50,215.18 400.00,215.17 400.50,215.18 401.00,215.21 401.50,215.25 402.00,215.30 402.50,215.36 403.00,215.43 403.50,215.49 404.00,215.54 404.50,215.57 405.00,215.57 405.50,215.54 406.00,215.46 406.50,215.34 407.00,215.19 407.50,215.00 408.00,214.78 408.50,214.55 409.00,214.30 409.50,214.05 410.00,213.80 410.50,213.56 411.00,213.33 411.50,213.13 412.00,212.95 412.50,212.82 413.00,212.73 413.50,212.70 414.00,212.72 414.50,212.81 415.00,212.95 415.50,213.15 416.00,213.40 416.50,213.70 417.00,214.03 417.50,214.38 418.00,214.70 418.50,215.00 419.00,215.24 419.50,215.44 420.00,215.59 420.50,215.70 421.00,215.79 421.50,215.84 422.00,215.88 422.50,215.91 423.00,215.93 423.50,215.94 424.00,215.94 424.50,215.94 425.00,215.93 425.50,215.92 426.00,215.91 426.50,215.89 427.00,215.88 427.50,215.87 428.00,215.87 428.50,215.88 429.00,215.91 429.50,215.97 430.00,216.04 430.50,216.13 431.00,216.25 431.50,216.39 432.00,216.56 432.50,216.76 433.00,216.98 433.50,217.22 434.00,217.48 434.50,217.74 435.00,218.01 435.50,218.26 436.00,218.49 436.50,218.70 437.00,218.87 437.50,219.01 438.00,219.10 438.50,219.13 439.00,219.10 439.50,219.00 440.00,218.85 440.50,218.66 441.00,218.44 441.50,218.20 442.00,217.96 442.50,217.73 443.00,217.52 443.50,217.35 444.00,217.20 444.50,217.08 445.00,216.99 445.50,216.91 446.00,216.86 446.50,216.83 447.00,216.81 447.50,216.80 448.00,216.80 448.50,216.81 449.00,216.82 449.50,216.83 450.00,216.84 450.50,216.84 451.00,216.84 451.50,216.81 452.00,216.77 452.50,216.72 453.00,216.65 453.50,216.56 454.00,216.46 454.50,216.35 455.00,216.23 455.50,216.10 456.00,215.96 456.50,215.81 457.00,215.66 457.50,215.51 458.00,215.35 458.50,215.20 459.00,215.05 459.50,214.90 460.00,214.76 460.50,214.63 461.00,214.50 461.50,214.39 462.00,214.28 462.50,214.18 463.00,214.08 463.50,213.99 464.00,213.90 464.50,213.81 465.00,213.72 465.50,213.63 466.00,213.53 466.50,213.44 467.00,213.33 467.50,213.22 468.00,213.11 468.50,212.98 469.00,212.85 469.50,212.70 470.00,212.54 470.50,212.38 471.00,212.20 471.50,212.03 472.00,211.85 472.50,211.68 473.00,211.51 473.50,211.35 474.00,211.20 474.50,211.07 475.00,210.95 475.50,210.84 476.00,210.74 476.50,210.66 477.00,210.59 477.50,210.53 478.00,210.48 478.50,210.45 479.00,210.43 479.50,210.44 480.00,210.49 480.50,210.58 481.00,210.71 481.50,210.91 482.00,211.16 482.50,211.47 483.00,211.83 483.50,212.21 484.00,212.61 484.50,213.01 485.00,213.40 485.50,213.76 486.00,214.10 486.50,214.40 487.00,214.69 487.50,214.96 488.00,215.21 488.50,215.44 489.00,215.65 489.50,215.83 490.00,215.99 490.50,216.11 491.00,216.19 491.50,216.22 492.00,216.20 492.50,216.13 493.00,216.02 493.50,215.88 494.00,215.74 494.50,215.60 495.00,215.49 495.50,215.42 496.00,215.40 496.50,215.45 497.00,215.56 497.50,215.72 498.00,215.93 498.50,216.20 499.00,216.50 499.50,216.84 500.00,217.21 500.50,217.59 501.00,217.97 501.50,218.34 502.00,218.68 502.50,218.97 503.00,219.23 503.50,219.45 504.00,219.63 504.50,219.78 505.00,219.91 505.50,220.01 506.00,220.10 506.50,220.17 507.00,220.23 507.50,220.28 508.00,220.32 508.50,220.35 509.00,220.37 509.50,220.38 510.00,220.39 510.50,220.40 511.00,220.40 511.50,220.40 512.00,220.40 512.50,220.39 513.00,220.39 513.50,220.39 514.00,220.39 514.50,220.39 515.00,220.39 515.50,220.39 516.00,220.40 516.50,220.41 517.00,220.42 517.50,220.43 518.00,220.45 518.50,220.47 519.00,220.49 519.50,220.52 520.00,220.54 520.50,220.56 521.00,220.59 521.50,220.61 522.00,220.63 522.50,220.63 523.00,220.61 523.50,220.56 524.00,220.48 524.50,220.34 525.00,220.15 525.50,219.89 526.00,219.58 526.50,219.22 527.00,218.84 527.50,218.44 528.00,218.04 528.50,217.65 529.00,217.28 529.50,216.94 530.00,216.63 530.50,216.35 531.00,216.10 531.50,215.90 532.00,215.74 532.50,215.62 533.00,215.54 533.50,215.48 534.00,215.46 534.50,215.46 535.00,215.48 535.50,215.52 536.00,215.56 536.50,215.62 537.00,215.68 537.50,215.74 538.00,215.80 538.50,215.85 539.00,215.88" fill="none" stroke="#0404f8" stroke-width="3.1" stroke-linejoin="round"/><polyline points="25.00,227.40 25.34,227.58 25.69,227.78 26.03,227.98 26.37,228.19 26.71,228.41 27.06,228.63 27.40,228.86 27.74,229.09 28.09,229.33 28.43,229.56 28.77,229.80 29.11,230.04 29.46,230.28 29.80,230.52 30.14,230.76 30.49,230.99 30.83,231.22 31.17,231.45 31.51,231.67 31.86,231.89 32.20,232.09 32.54,232.29 32.89,232.49 33.23,232.67 33.57,232.84 33.91,233.01 34.26,233.16 34.60,233.30 34.94,233.43 35.29,233.55 35.63,233.65 35.97,233.74 36.31,233.82 36.66,233.89 37.00,233.94 37.34,233.97 37.69,233.99 38.03,234.00 38.37,233.99 38.71,233.97 39.06,233.94 39.40,233.89 39.74,233.82 40.09,233.74 40.43,233.65 40.77,233.55 41.11,233.43 41.46,233.30 41.80,233.16 42.14,233.01 42.49,232.84 42.83,232.67 43.17,232.49 43.51,232.29 43.86,232.09 44.20,231.89 44.54,231.67 44.89,231.45 45.23,231.22 45.57,230.99 45.91,230.76 46.26,230.52 46.60,230.28 46.94,230.04 47.29,229.80 47.63,229.56 47.97,229.33 48.31,229.09 48.66,228.86 49.00,228.63 49.34,228.41 49.69,228.19 50.03,227.98 50.37,227.78 50.71,227.58 51.06,227.40 51.40,227.22 51.74,227.05 52.09,226.89 52.43,226.75 52.77,226.61 53.12,226.49 53.46,226.38 53.80,226.29 54.14,226.21 54.49,226.14 54.83,226.08 55.17,226.04 55.52,226.01 55.86,226.00 56.20,226.00 56.54,226.02 56.89,226.05 57.23,226.10 57.57,226.15 57.92,226.23 58.26,226.31 58.60,226.41 58.94,226.53 59.29,226.65 59.63,226.79 59.97,226.94 60.32,227.10 60.66,227.27 61.00,227.45 61.34,227.64 61.69,227.83 62.03,228.04 62.37,228.25 62.72,228.47 63.06,228.69 63.40,228.92 63.74,229.16 64.09,229.39 64.43,229.63 64.77,229.87 65.12,230.11 65.46,230.35 65.80,230.59 66.14,230.82 66.49,231.06 66.83,231.29 67.17,231.51 67.52,231.73 67.86,231.94 68.20,232.15 68.54,232.35 68.89,232.54 69.23,232.72 69.57,232.89 69.92,233.05 70.26,233.20 70.60,233.34 70.94,233.46 71.29,233.58 71.63,233.68 71.97,233.77 72.32,233.84 72.66,233.90 73.00,233.95 73.34,233.98 73.69,234.00 74.03,234.00 74.37,233.99 74.72,233.96 75.06,233.92 75.40,233.87 75.74,233.80 76.09,233.72 76.43,233.62 76.77,233.52 77.12,233.40 77.46,233.26 77.80,233.12 78.14,232.96 78.49,232.80 78.83,232.62 79.17,232.43 79.52,232.24 79.86,232.04 80.20,231.83 80.54,231.61 80.89,231.39 81.23,231.16 81.57,230.93 81.92,230.69 82.26,230.45 82.60,230.22 82.94,229.98 83.29,229.74 83.63,229.50 83.97,229.26 84.32,229.03 84.66,228.79 85.00,228.57 85.34,228.35 85.69,228.13 86.03,227.92 86.37,227.72 86.72,227.53 87.06,227.34 87.40,227.17 87.74,227.01 88.09,226.85 88.43,226.71 88.77,226.58 89.12,226.46 89.46,226.36 89.80,226.26 90.14,226.18 90.49,226.12 90.83,226.07 91.17,226.03 91.52,226.01 91.86,226.00 92.20,226.01 92.54,226.03 92.89,226.06 93.23,226.11 93.57,226.17 93.92,226.25 94.26,226.34 94.60,226.44 94.94,226.56 95.29,226.69 95.63,226.83 95.97,226.98 96.32,227.14 96.66,227.32 97.00,227.50 97.34,227.69 97.69,227.89 98.03,228.10 98.37,228.31 98.72,228.53 99.06,228.76 99.40,228.99 99.74,229.22 100.09,229.46 100.43,229.70 100.77,229.94 101.12,230.18 101.46,230.42 101.80,230.65 102.14,230.89 102.49,231.12 102.83,231.35 103.17,231.57 103.52,231.79 103.86,232.00 104.20,232.21 104.55,232.40 104.89,232.59 105.23,232.77 105.57,232.94 105.92,233.09 106.26,233.24 106.60,233.38 106.95,233.50 107.29,233.61 107.63,233.71 107.97,233.79 108.32,233.86 108.66,233.92 109.00,233.96 109.35,233.99 109.69,234.00 110.03,234.00 110.37,233.98 110.72,233.95 111.06,233.91 111.40,233.85 111.75,233.78 112.09,233.69 112.43,233.60 112.77,233.48 113.12,233.36 113.46,233.22 113.80,233.08 114.15,232.92 114.49,232.75 114.83,232.57 115.17,232.38 115.52,232.18 115.86,231.98 116.20,231.77 116.55,231.55 116.89,231.32 117.23,231.09 117.57,230.86 117.92,230.63 118.26,230.39 118.60,230.15 118.95,229.91 119.29,229.67 119.63,229.43 119.97,229.19 120.32,228.96 120.66,228.73 121.00,228.51 121.35,228.29 121.69,228.07 122.03,227.87 122.37,227.67 122.72,227.48 123.06,227.29 123.40,227.12 123.75,226.96 124.09,226.81 124.43,226.67 124.77,226.54 125.12,226.43 125.46,226.33 125.80,226.24 126.15,226.16 126.49,226.10 126.83,226.06 127.17,226.02 127.52,226.00 127.86,226.00 128.20,226.01 128.55,226.03 128.89,226.07 129.23,226.13 129.57,226.19 129.92,226.27 130.26,226.37 130.60,226.47 130.95,226.59 131.29,226.73 131.63,226.87 131.97,227.02 132.32,227.19 132.66,227.37 133.00,227.55 133.35,227.75 133.69,227.95 134.03,228.16 134.37,228.37 134.72,228.60 135.06,228.82 135.40,229.05 135.75,229.29 136.09,229.53 136.43,229.77 136.77,230.00 137.12,230.24 137.46,230.48 137.80,230.72 138.15,230.96 138.49,231.19 138.83,231.41 139.17,231.64 139.52,231.85 139.86,232.06 140.20,232.26 140.55,232.46 140.89,232.64 141.23,232.82 141.57,232.98 141.92,233.14 142.26,233.28 142.60,233.41 142.95,233.53 143.29,233.64 143.63,233.73 143.97,233.81 144.32,233.88 144.66,233.93 145.00,233.97 145.35,233.99 145.69,234.00 146.03,233.99 146.37,233.98 146.72,233.94 147.06,233.89 147.40,233.83 147.75,233.76 148.09,233.67 148.43,233.57 148.77,233.45 149.12,233.32 149.46,233.18 149.80,233.03 150.15,232.87 150.49,232.70 150.83,232.52 151.17,232.33 151.52,232.13 151.86,231.92 152.20,231.71 152.55,231.48 152.89,231.26 153.23,231.03 153.57,230.80 153.92,230.56 154.26,230.32 154.60,230.08 154.95,229.84 155.29,229.60 155.63,229.36 155.98,229.13 156.32,228.90 156.66,228.67 157.00,228.44 157.35,228.23 157.69,228.01 158.03,227.81 158.38,227.61 158.72,227.42 159.06,227.25 159.40,227.08 159.75,226.92 160.09,226.77 160.43,226.63 160.78,226.51 161.12,226.40 161.46,226.30 161.80,226.22 162.15,226.15 162.49,226.09 162.83,226.05 163.18,226.02 163.52,226.00 163.86,226.00 164.20,226.02 164.55,226.04 164.89,226.09 165.23,226.14 165.58,226.21 165.92,226.30 166.26,226.40 166.60,226.51 166.95,226.63 167.29,226.77 167.63,226.91 167.98,227.07 168.32,227.24 168.66,227.42 169.00,227.60 169.35,227.80 169.69,228.01 170.03,228.22 170.38,228.44 170.72,228.66 171.06,228.89 171.40,229.12 171.75,229.36 172.09,229.59 172.43,229.83 172.78,230.07 173.12,230.31 173.46,230.55 173.80,230.79 174.15,231.02 174.49,231.25 174.83,231.48 175.18,231.70 175.52,231.91 175.86,232.12 176.20,232.32 176.55,232.51 176.89,232.69 177.23,232.86 177.58,233.03 177.92,233.18 178.26,233.32 178.60,233.45 178.95,233.56 179.29,233.66 179.63,233.75 179.98,233.83 180.32,233.89 180.66,233.94 181.00,233.97 181.35,233.99 181.69,234.00 182.03,233.99 182.38,233.97 182.72,233.93 183.06,233.88 183.40,233.81 183.75,233.73 184.09,233.64 184.43,233.53 184.78,233.42 185.12,233.28 185.46,233.14 185.80,232.99 186.15,232.82 186.49,232.65 186.83,232.46 187.18,232.27 187.52,232.07 187.86,231.86 188.20,231.64 188.55,231.42 188.89,231.20 189.23,230.96 189.58,230.73 189.92,230.49 190.26,230.25 190.60,230.01 190.95,229.77 191.29,229.54 191.63,229.30 191.98,229.06 192.32,228.83 192.66,228.60 193.00,228.38 193.35,228.17 193.69,227.96 194.03,227.75 194.38,227.56 194.72,227.37 195.06,227.20 195.40,227.03 195.75,226.88 196.09,226.73 196.43,226.60 196.78,226.48 197.12,226.37 197.46,226.28 197.80,226.20 198.15,226.13 198.49,226.08 198.83,226.04 199.18,226.01 199.52,226.00 199.86,226.00 200.20,226.02 200.55,226.05 200.89,226.10 201.23,226.16 201.58,226.24 201.92,226.32 202.26,226.43 202.60,226.54 202.95,226.67 203.29,226.81 203.63,226.96 203.98,227.12 204.32,227.29 204.66,227.47 205.00,227.66 205.35,227.86 205.69,228.06 206.03,228.28 206.38,228.50 206.72,228.72 207.06,228.95 207.41,229.19 207.75,229.42 208.09,229.66 208.43,229.90 208.78,230.14 209.12,230.38 209.46,230.62 209.81,230.85 210.15,231.09 210.49,231.31 210.83,231.54 211.18,231.76 211.52,231.97 211.86,232.17 212.21,232.37 212.55,232.56 212.89,232.74 213.23,232.91 213.58,233.07 213.92,233.22 214.26,233.35 214.61,233.48 214.95,233.59 215.29,233.69 215.63,233.78 215.98,233.85 216.32,233.91 216.66,233.95 217.01,233.98 217.35,234.00 217.69,234.00 218.03,233.99 218.38,233.96 218.72,233.92 219.06,233.86 219.41,233.79 219.75,233.71 220.09,233.61 220.43,233.50 220.78,233.38 221.12,233.25 221.46,233.10 221.81,232.94 222.15,232.78 222.49,232.60 222.83,232.41 223.18,232.21 223.52,232.01 223.86,231.80 224.21,231.58 224.55,231.36 224.89,231.13 225.23,230.90 225.58,230.66 225.92,230.43 226.26,230.19 226.61,229.95 226.95,229.71 227.29,229.47 227.63,229.23 227.98,229.00 228.32,228.77 228.66,228.54 229.01,228.32 229.35,228.11 229.69,227.90 230.03,227.70 230.38,227.51 230.72,227.32 231.06,227.15 231.41,226.99 231.75,226.83 232.09,226.69 232.43,226.56 232.78,226.45 233.12,226.34 233.46,226.25 233.81,226.18 234.15,226.11 234.49,226.06 234.83,226.03 235.18,226.01 235.52,226.00 235.86,226.01 236.21,226.03 236.55,226.07 236.89,226.12 237.23,226.18 237.58,226.26 237.92,226.35 238.26,226.46 238.61,226.57 238.95,226.70 239.29,226.85 239.63,227.00 239.98,227.16 240.32,227.34 240.66,227.52 241.01,227.71 241.35,227.91 241.69,228.12 242.03,228.34 242.38,228.56 242.72,228.79 243.06,229.02 243.41,229.25 243.75,229.49 244.09,229.73 244.43,229.97 244.78,230.21 245.12,230.45 245.46,230.68 245.81,230.92 246.15,231.15 246.49,231.38 246.83,231.60 247.18,231.82 247.52,232.03 247.86,232.23 248.21,232.43 248.55,232.61 248.89,232.79 249.23,232.96 249.58,233.11 249.92,233.26 250.26,233.39 250.61,233.51 250.95,233.62 251.29,233.72 251.63,233.80 251.98,233.87 252.32,233.92 252.66,233.96 253.01,233.99 253.35,234.00 253.69,234.00 254.03,233.98 254.38,233.95 254.72,233.90 255.06,233.84 255.41,233.77 255.75,233.68 256.09,233.58 256.43,233.47 256.78,233.34 257.12,233.21 257.46,233.06 257.81,232.90 258.15,232.73 258.49,232.55 258.84,232.36 259.18,232.16 259.52,231.95 259.86,231.74 260.21,231.52 260.55,231.30 260.89,231.07 261.24,230.83 261.58,230.60 261.92,230.36 262.26,230.12 262.61,229.88 262.95,229.64 263.29,229.40 263.64,229.17 263.98,228.93 264.32,228.70 264.66,228.48 265.01,228.26 265.35,228.05 265.69,227.84 266.04,227.64 266.38,227.45 266.72,227.27 267.06,227.10 267.41,226.94 267.75,226.79 268.09,226.66 268.44,226.53 268.78,226.42 269.12,226.32 269.46,226.23 269.81,226.16 270.15,226.10 270.49,226.05 270.84,226.02 271.18,226.00 271.52,226.00 271.86,226.01 272.21,226.04 272.55,226.08 272.89,226.13 273.24,226.20 273.58,226.28 273.92,226.38 274.26,226.49 274.61,226.61 274.95,226.74 275.29,226.89 275.64,227.04 275.98,227.21 276.32,227.39 276.66,227.57 277.01,227.77 277.35,227.97 277.69,228.18 278.04,228.40 278.38,228.62 278.72,228.85 279.06,229.08 279.41,229.32 279.75,229.55 280.09,229.79 280.44,230.03 280.78,230.27 281.12,230.51 281.46,230.75 281.81,230.98 282.15,231.21 282.49,231.44 282.84,231.66 283.18,231.88 283.52,232.09 283.86,232.29 284.21,232.48 284.55,232.66 284.89,232.84 285.24,233.00 285.58,233.15 285.92,233.30 286.26,233.43 286.61,233.54 286.95,233.65 287.29,233.74 287.64,233.82 287.98,233.88 288.32,233.93 288.66,233.97 289.01,233.99 289.35,234.00 289.69,233.99 290.04,233.97 290.38,233.94 290.72,233.89 291.06,233.82 291.41,233.75 291.75,233.66 292.09,233.55 292.44,233.44 292.78,233.31 293.12,233.17 293.46,233.01 293.81,232.85 294.15,232.68 294.49,232.49 294.84,232.30 295.18,232.10 295.52,231.89 295.86,231.68 296.21,231.46 296.55,231.23 296.89,231.00 297.24,230.77 297.58,230.53 297.92,230.29 298.26,230.05 298.61,229.81 298.95,229.57 299.29,229.34 299.64,229.10 299.98,228.87 300.32,228.64 300.66,228.42 301.01,228.20 301.35,227.99 301.69,227.78 302.04,227.59 302.38,227.40 302.72,227.22 303.06,227.06 303.41,226.90 303.75,226.75 304.09,226.62 304.44,226.50 304.78,226.39 305.12,226.29 305.46,226.21 305.81,226.14 306.15,226.08 306.49,226.04 306.84,226.01 307.18,226.00 307.52,226.00 307.86,226.02 308.21,226.05 308.55,226.09 308.89,226.15 309.24,226.22 309.58,226.31 309.92,226.41 310.27,226.52 310.61,226.65 310.95,226.78 311.29,226.93 311.64,227.09 311.98,227.26 312.32,227.44 312.67,227.63 313.01,227.83 313.35,228.03 313.69,228.24 314.04,228.46 314.38,228.69 314.72,228.92 315.07,229.15 315.41,229.38 315.75,229.62 316.09,229.86 316.44,230.10 316.78,230.34 317.12,230.58 317.47,230.82 317.81,231.05 318.15,231.28 318.49,231.50 318.84,231.72 319.18,231.94 319.52,232.14 319.87,232.34 320.21,232.53 320.55,232.71 320.89,232.88 321.24,233.05 321.58,233.20 321.92,233.33 322.27,233.46 322.61,233.57 322.95,233.68 323.29,233.76 323.64,233.84 323.98,233.90 324.32,233.95 324.67,233.98 325.01,234.00 325.35,234.00 325.69,233.99 326.04,233.96 326.38,233.92 326.72,233.87 327.07,233.80 327.41,233.72 327.75,233.63 328.09,233.52 328.44,233.40 328.78,233.27 329.12,233.12 329.47,232.97 329.81,232.80 330.15,232.63 330.49,232.44 330.84,232.25 331.18,232.04 331.52,231.83 331.87,231.62 332.21,231.40 332.55,231.17 332.89,230.94 333.24,230.70 333.58,230.46 333.92,230.22 334.27,229.99 334.61,229.75 334.95,229.51 335.29,229.27 335.64,229.03 335.98,228.80 336.32,228.58 336.67,228.36 337.01,228.14 337.35,227.93 337.69,227.73 338.04,227.54 338.38,227.35 338.72,227.18 339.07,227.01 339.41,226.86 339.75,226.71 340.09,226.58 340.44,226.47 340.78,226.36 341.12,226.27 341.47,226.19 341.81,226.12 342.15,226.07 342.49,226.03 342.84,226.01 343.18,226.00 343.52,226.01 343.87,226.03 344.21,226.06 344.55,226.11 344.89,226.17 345.24,226.25 345.58,226.34 345.92,226.44 346.27,226.55 346.61,226.68 346.95,226.82 347.29,226.97 347.64,227.14 347.98,227.31 348.32,227.49 348.67,227.68 349.01,227.88 349.35,228.09 349.69,228.30 350.04,228.52 350.38,228.75 350.72,228.98 351.07,229.21 351.41,229.45 351.75,229.69 352.09,229.93 352.44,230.17 352.78,230.41 353.12,230.65 353.47,230.88 353.81,231.11 354.15,231.34 354.49,231.57 354.84,231.78 355.18,231.99 355.52,232.20 355.87,232.40 356.21,232.58 356.55,232.76 356.89,232.93 357.24,233.09 357.58,233.24 357.92,233.37 358.27,233.49 358.61,233.60 358.95,233.70 359.29,233.79 359.64,233.86 359.98,233.91 360.32,233.96 360.67,233.98 361.01,234.00 361.35,234.00 361.70,233.98 362.04,233.95 362.38,233.91 362.72,233.85 363.07,233.78 363.41,233.70 363.75,233.60 364.10,233.49 364.44,233.36 364.78,233.23 365.12,233.08 365.47,232.92 365.81,232.75 366.15,232.58 366.50,232.39 366.84,232.19 367.18,231.99 367.52,231.77 367.87,231.56 368.21,231.33 368.55,231.10 368.90,230.87 369.24,230.64 369.58,230.40 369.92,230.16 370.27,229.92 370.61,229.68 370.95,229.44 371.30,229.20 371.64,228.97 371.98,228.74 372.32,228.51 372.67,228.29 373.01,228.08 373.35,227.87 373.70,227.67 374.04,227.48 374.38,227.30 374.72,227.13 375.07,226.97 375.41,226.82 375.75,226.68 376.10,226.55 376.44,226.43 376.78,226.33 377.12,226.24 377.47,226.17 377.81,226.11 378.15,226.06 378.50,226.02 378.84,226.01 379.18,226.00 379.52,226.01 379.87,226.03 380.21,226.07 380.55,226.12 380.90,226.19 381.24,226.27 381.58,226.36 381.92,226.47 382.27,226.59 382.61,226.72 382.95,226.86 383.30,227.02 383.64,227.18 383.98,227.36 384.32,227.54 384.67,227.74 385.01,227.94 385.35,228.15 385.70,228.37 386.04,228.59 386.38,228.81 386.72,229.05 387.07,229.28 387.41,229.52 387.75,229.76 388.10,230.00 388.44,230.24 388.78,230.47 389.12,230.71 389.47,230.95 389.81,231.18 390.15,231.41 390.50,231.63 390.84,231.84 391.18,232.05 391.52,232.26 391.87,232.45 392.21,232.63 392.55,232.81 392.90,232.98 393.24,233.13 393.58,233.27 393.92,233.41 394.27,233.53 394.61,233.63 394.95,233.73 395.30,233.81 395.64,233.87 395.98,233.93 396.32,233.97 396.67,233.99 397.01,234.00 397.35,234.00 397.70,233.98 398.04,233.94 398.38,233.90 398.72,233.84 399.07,233.76 399.41,233.67 399.75,233.57 400.10,233.45 400.44,233.33 400.78,233.19 401.12,233.04 401.47,232.88 401.81,232.70 402.15,232.52 402.50,232.33 402.84,232.13 403.18,231.93 403.52,231.71 403.87,231.49 404.21,231.27 404.55,231.04 404.90,230.81 405.24,230.57 405.58,230.33 405.92,230.09 406.27,229.85 406.61,229.61 406.95,229.37 407.30,229.14 407.64,228.90 407.98,228.68 408.32,228.45 408.67,228.23 409.01,228.02 409.35,227.82 409.70,227.62 410.04,227.43 410.38,227.25 410.72,227.08 411.07,226.92 411.41,226.78 411.75,226.64 412.10,226.52 412.44,226.40 412.78,226.31 413.13,226.22 413.47,226.15 413.81,226.09 414.15,226.05 414.50,226.02 414.84,226.00 415.18,226.00 415.53,226.01 415.87,226.04 416.21,226.09 416.55,226.14 416.90,226.21 417.24,226.30 417.58,226.39 417.93,226.50 418.27,226.62 418.61,226.76 418.95,226.91 419.30,227.06 419.64,227.23 419.98,227.41 420.33,227.60 420.67,227.79 421.01,228.00 421.35,228.21 421.70,228.43 422.04,228.65 422.38,228.88 422.73,229.11 423.07,229.35 423.41,229.58 423.75,229.82 424.10,230.06 424.44,230.30 424.78,230.54 425.13,230.78 425.47,231.01 425.81,231.24 426.15,231.47 426.50,231.69 426.84,231.90 427.18,232.11 427.53,232.31 427.87,232.50 428.21,232.68 428.55,232.86 428.90,233.02 429.24,233.17 429.58,233.31 429.93,233.44 430.27,233.56 430.61,233.66 430.95,233.75 431.30,233.83 431.64,233.89 431.98,233.94 432.33,233.97 432.67,233.99 433.01,234.00 433.35,233.99 433.70,233.97 434.04,233.93 434.38,233.88 434.73,233.82 435.07,233.74 435.41,233.64 435.75,233.54 436.10,233.42 436.44,233.29 436.78,233.15 437.13,232.99 437.47,232.83 437.81,232.66 438.15,232.47 438.50,232.28 438.84,232.08 439.18,231.87 439.53,231.65 439.87,231.43 440.21,231.20 440.55,230.97 440.90,230.74 441.24,230.50 441.58,230.26 441.93,230.02 442.27,229.78 442.61,229.54 442.95,229.31 443.30,229.07 443.64,228.84 443.98,228.61 444.33,228.39 444.67,228.17 445.01,227.96 445.35,227.76 445.70,227.57 446.04,227.38 446.38,227.20 446.73,227.04 447.07,226.88 447.41,226.74 447.75,226.60 448.10,226.48 448.44,226.38 448.78,226.28 449.13,226.20 449.47,226.13 449.81,226.08 450.15,226.04 450.50,226.01 450.84,226.00 451.18,226.00 451.53,226.02 451.87,226.05 452.21,226.10 452.55,226.16 452.90,226.23 453.24,226.32 453.58,226.42 453.93,226.54 454.27,226.66 454.61,226.80 454.95,226.95 455.30,227.11 455.64,227.28 455.98,227.46 456.33,227.65 456.67,227.85 457.01,228.06 457.35,228.27 457.70,228.49 458.04,228.71 458.38,228.94 458.73,229.18 459.07,229.41 459.41,229.65 459.75,229.89 460.10,230.13 460.44,230.37 460.78,230.61 461.13,230.84 461.47,231.08 461.81,231.31 462.15,231.53 462.50,231.75 462.84,231.96 463.18,232.17 463.53,232.36 463.87,232.55 464.21,232.73 464.56,232.90 464.90,233.06 465.24,233.21 465.58,233.35 465.93,233.47 466.27,233.59 466.61,233.69 466.96,233.77 467.30,233.85 467.64,233.91 467.98,233.95 468.33,233.98 468.67,234.00 469.01,234.00 469.36,233.99 469.70,233.96 470.04,233.92 470.38,233.86 470.73,233.79 471.07,233.71 471.41,233.62 471.76,233.51 472.10,233.39 472.44,233.25 472.78,233.11 473.13,232.95 473.47,232.78 473.81,232.60 474.16,232.42 474.50,232.22 474.84,232.02 475.18,231.81 475.53,231.59 475.87,231.37 476.21,231.14 476.56,230.91 476.90,230.67 477.24,230.44 477.58,230.20 477.93,229.96 478.27,229.72 478.61,229.48 478.96,229.24 479.30,229.01 479.64,228.78 479.98,228.55 480.33,228.33 480.67,228.11 481.01,227.91 481.36,227.71 481.70,227.51 482.04,227.33 482.38,227.16 482.73,226.99 483.07,226.84 483.41,226.70 483.76,226.57 484.10,226.45 484.44,226.35 484.78,226.26 485.13,226.18 485.47,226.11 485.81,226.06 486.16,226.03 486.50,226.01 486.84,226.00 487.18,226.01 487.53,226.03 487.87,226.06 488.21,226.11 488.56,226.18 488.90,226.26 489.24,226.35 489.58,226.45 489.93,226.57 490.27,226.70 490.61,226.84 490.96,226.99 491.30,227.16 491.64,227.33 491.98,227.51 492.33,227.71 492.67,227.91 493.01,228.12 493.36,228.33 493.70,228.55 494.04,228.78 494.38,229.01 494.73,229.24 495.07,229.48 495.41,229.72 495.76,229.96 496.10,230.20 496.44,230.44 496.78,230.67 497.13,230.91 497.47,231.14 497.81,231.37 498.16,231.59 498.50,231.81 498.84,232.02 499.18,232.22 499.53,232.42 499.87,232.61 500.21,232.78 500.56,232.95 500.90,233.11 501.24,233.25 501.58,233.39 501.93,233.51 502.27,233.62 502.61,233.71 502.96,233.80 503.30,233.86 503.64,233.92 503.98,233.96 504.33,233.99 504.67,234.00 505.01,234.00 505.36,233.98 505.70,233.95 506.04,233.90 506.38,233.85 506.73,233.77 507.07,233.69 507.41,233.59 507.76,233.47 508.10,233.35 508.44,233.21 508.78,233.06 509.13,232.90 509.47,232.73 509.81,232.55 510.16,232.36 510.50,232.17 510.84,231.96 511.18,231.75 511.53,231.53 511.87,231.30 512.21,231.08 512.56,230.84 512.90,230.61 513.24,230.37 513.59,230.13 513.93,229.89 514.27,229.65 514.61,229.41 514.96,229.17 515.30,228.94 515.64,228.71 515.99,228.49 516.33,228.27 516.67,228.05 517.01,227.85 517.36,227.65 517.70,227.46 518.04,227.28 518.39,227.11 518.73,226.95 519.07,226.80 519.41,226.66 519.76,226.53 520.10,226.42 520.44,226.32 520.79,226.23 521.13,226.16 521.47,226.10 521.81,226.05 522.16,226.02 522.50,226.00 522.84,226.00 523.19,226.01 523.53,226.04 523.87,226.08 524.21,226.13 524.56,226.20 524.90,226.28 525.24,226.38 525.59,226.48 525.93,226.60 526.27,226.74 526.61,226.88 526.96,227.04 527.30,227.20 527.64,227.38 527.99,227.57 528.33,227.76 528.67,227.96 529.01,228.17 529.36,228.39 529.70,228.61 530.04,228.84 530.39,229.07 530.73,229.31 531.07,229.55 531.41,229.78 531.76,230.02 532.10,230.26 532.44,230.50 532.79,230.74 533.13,230.97 533.47,231.21 533.81,231.43 534.16,231.65 534.50,231.87 534.84,232.08 535.19,232.28 535.53,232.47 535.87,232.66 536.21,232.83 536.56,233.00 536.90,233.15 537.24,233.29 537.59,233.42 537.93,233.54 538.27,233.64 538.61,233.74 538.96,233.82 539.30,233.88" fill="none" stroke="#fb06f4" stroke-width="2.7" stroke-linejoin="round" stroke-dasharray="9.2 2 4.6 2"/></g><text x="25.00" y="121.6" text-anchor="middle" font-family="Liberation Serif, serif" font-size="11" fill="#333">0</text><text x="110.72" y="121.6" text-anchor="middle" font-family="Liberation Serif, serif" font-size="11" fill="#333">5</text><text x="196.43" y="121.6" text-anchor="middle" font-family="Liberation Serif, serif" font-size="11" fill="#333">10</text><text x="282.15" y="121.6" text-anchor="middle" font-family="Liberation Serif, serif" font-size="11" fill="#333">15</text><text x="367.87" y="121.6" text-anchor="middle" font-family="Liberation Serif, serif" font-size="11" fill="#333">20</text><text x="453.58" y="121.6" text-anchor="middle" font-family="Liberation Serif, serif" font-size="11" fill="#333">25</text><text x="539.30" y="121.6" text-anchor="middle" font-family="Liberation Serif, serif" font-size="11" fill="#333">30</text><text x="282.45" y="136.2" text-anchor="middle" font-family="Liberation Serif, serif" font-size="12" fill="#333">Time (s)</text><text x="25.00" y="264.6" text-anchor="middle" font-family="Liberation Serif, serif" font-size="11" fill="#333">0</text><text x="110.72" y="264.6" text-anchor="middle" font-family="Liberation Serif, serif" font-size="11" fill="#333">5</text><text x="196.43" y="264.6" text-anchor="middle" font-family="Liberation Serif, serif" font-size="11" fill="#333">10</text><text x="282.15" y="264.6" text-anchor="middle" font-family="Liberation Serif, serif" font-size="11" fill="#333">15</text><text x="367.87" y="264.6" text-anchor="middle" font-family="Liberation Serif, serif" font-size="11" fill="#333">20</text><text x="453.58" y="264.6" text-anchor="middle" font-family="Liberation Serif, serif" font-size="11" fill="#333">25</text><text x="539.30" y="264.6" text-anchor="middle" font-family="Liberation Serif, serif" font-size="11" fill="#333">30</text><text x="282.45" y="279.2" text-anchor="middle" font-family="Liberation Serif, serif" font-size="12" fill="#333">Time (s)</text><text x="20.5" y="15.30" text-anchor="end" font-family="Liberation Serif, serif" font-size="11" fill="#333">1</text><text x="20.5" y="47.00" text-anchor="end" font-family="Liberation Serif, serif" font-size="11" fill="#333">0.5</text><text x="20.5" y="78.70" text-anchor="end" font-family="Liberation Serif, serif" font-size="11" fill="#333">0</text><text x="20.5" y="110.40" text-anchor="end" font-family="Liberation Serif, serif" font-size="11" fill="#333">-0.5</text><text x="20.5" y="165.88" text-anchor="end" font-family="Liberation Serif, serif" font-size="11" fill="#333">0.4</text><text x="20.5" y="193.14" text-anchor="end" font-family="Liberation Serif, serif" font-size="11" fill="#333">0.2</text><text x="20.5" y="220.40" text-anchor="end" font-family="Liberation Serif, serif" font-size="11" fill="#333">0</text><text x="20.5" y="247.66" text-anchor="end" font-family="Liberation Serif, serif" font-size="11" fill="#333">-0.2</text><rect x="315.4" y="17.6" width="214.6" height="15.7" fill="#fff" stroke="#2a2a2a" stroke-width="1"/><line x1="319.2" y1="25.5" x2="354.9" y2="25.5" stroke="#0aee14" stroke-width="2.9" stroke-dasharray="9.2 2 4.6 2"/><text x="357.6" y="27.6" font-family="Liberation Serif, serif" font-style="italic" font-size="10" fill="#111" stroke="#111" stroke-width="0.4">y</text><line x1="357.5" y1="30.7" x2="363" y2="30.7" stroke="#111" stroke-width="1"/><line x1="369.8" y1="25.5" x2="405.4" y2="25.5" stroke="#0404f8" stroke-width="2.9"/><text x="408.9" y="27.6" font-family="Liberation Serif, serif" font-style="italic" font-size="10" fill="#111" stroke="#111" stroke-width="0.4">x<tspan font-style="normal" font-size="7.5" dy="1.8" stroke-width="0.15">1</tspan></text><line x1="424.7" y1="25.5" x2="460.5" y2="25.5" stroke="#f5121d" stroke-width="2.9" stroke-dasharray="9 9.4"/><text x="463.4" y="27.6" font-family="Liberation Serif, serif" font-style="italic" font-size="10" fill="#111" stroke="#111" stroke-width="0.4">y<tspan font-size="7.5" dy="1.8" stroke-width="0.15">d</tspan></text><line x1="479" y1="25.5" x2="514" y2="25.5" stroke="#edb120" stroke-width="2.5" stroke-dasharray="9.2 2 4.6 2"/><text x="517.6" y="27.6" font-family="Liberation Serif, serif" font-style="italic" font-size="10" fill="#111" stroke="#111" stroke-width="0.4"><tspan font-style="normal">-</tspan>y</text><line x1="521.3" y1="30.7" x2="527" y2="30.7" stroke="#111" stroke-width="1"/><rect x="372.4" y="159.7" width="157.5" height="15.9" fill="#fff" stroke="#2a2a2a" stroke-width="1"/><line x1="376.4" y1="167.3" x2="411.4" y2="167.3" stroke="#1b98f5" stroke-width="2.9" stroke-dasharray="9.2 2 4.6 2"/><text x="414.8" y="170.0" font-family="Liberation Serif, serif" font-style="italic" font-size="10" fill="#111" stroke="#111" stroke-width="0.4">b</text><line x1="426.3" y1="167.3" x2="461.9" y2="167.3" stroke="#0404f8" stroke-width="2.9"/><text x="465" y="169.6" font-family="Liberation Serif, serif" font-style="italic" font-size="10" fill="#111" stroke="#111" stroke-width="0.4">z<tspan font-style="normal" font-size="7.5" dy="1.8" stroke-width="0.15">1</tspan></text><line x1="480.3" y1="167.3" x2="515.3" y2="167.3" stroke="#fb06f4" stroke-width="2.9" stroke-dasharray="9.2 2 4.6 2"/><text x="518.6" y="170.0" font-family="Liberation Serif, serif" font-style="italic" font-size="10" fill="#111" stroke="#111" stroke-width="0.4"><tspan font-style="normal">-</tspan>b</text></svg></body></html>
